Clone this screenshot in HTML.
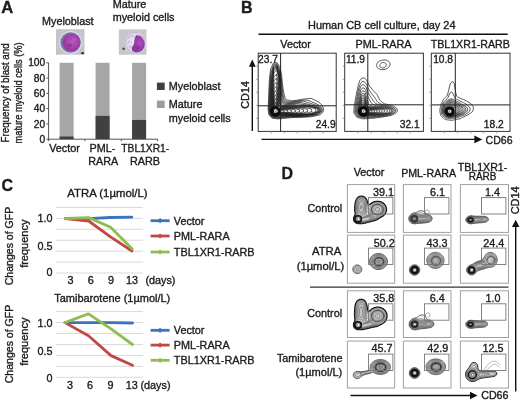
<!DOCTYPE html>
<html><head><meta charset="utf-8"><style>
html,body{margin:0;padding:0;background:#fff;}
svg{display:block;}
text{font-family:'Liberation Sans', Arial, Helvetica, sans-serif;fill:#1c1c1c;stroke:#1c1c1c;stroke-width:0.35px;}
</style></head><body>
<svg width="520" height="401" viewBox="0 0 520 401">
<rect width="520" height="401" fill="#fff"/>
<text x="1.3" y="12.8" font-size="16.6" font-weight="bold">A</text>
<text x="42.1" y="24.7" font-size="10.8" textLength="51.5" lengthAdjust="spacingAndGlyphs">Myeloblast</text>
<text x="112.7" y="8.3" font-size="10.8">Mature</text>
<text x="112.7" y="20.9" font-size="10.8">myeloid cells</text>
<defs>
<radialGradient id="nuc1" cx="0.55" cy="0.45" r="0.6"><stop offset="0" stop-color="#bc56c0"/><stop offset="0.6" stop-color="#a443ac"/><stop offset="1" stop-color="#8a3496"/></radialGradient>
<radialGradient id="bg1" cx="0.5" cy="0.5" r="0.7"><stop offset="0" stop-color="#d2cfd8"/><stop offset="1" stop-color="#c2c0c6"/></radialGradient>
<radialGradient id="nuc2" cx="0.6" cy="0.5" r="0.6"><stop offset="0" stop-color="#b04cba"/><stop offset="1" stop-color="#88329a"/></radialGradient>
<radialGradient id="cyt2" cx="0.45" cy="0.45" r="0.6"><stop offset="0" stop-color="#ece6f0"/><stop offset="0.8" stop-color="#dcd2e6"/><stop offset="1" stop-color="#b8aed0"/></radialGradient>
</defs>
<rect x="56" y="29.2" width="28.5" height="25.5" fill="url(#bg1)" stroke="none" stroke-width="1"/>
<circle cx="70.6" cy="42.5" r="11.4" fill="#e2dfe8" opacity="0.85"/>
<circle cx="70.6" cy="42.5" r="10.2" fill="#7a70ae"/>
<circle cx="71.6" cy="42.5" r="8.7" fill="url(#nuc1)"/>
<ellipse cx="69.5" cy="45.5" rx="2.5" ry="1.8" fill="#8a2f96" opacity="0.7"/>
<ellipse cx="74.5" cy="39.5" rx="2" ry="1.6" fill="#c060c4" opacity="0.6"/>
<ellipse cx="82.6" cy="53.2" rx="1.6" ry="1.1" fill="#3a3a3a"/>
<rect x="118.8" y="29.4" width="27.7" height="25.3" fill="#c7c6c8" stroke="none" stroke-width="1"/>
<ellipse cx="135.3" cy="42.6" rx="10.8" ry="11.2" fill="#e2dcea" opacity="0.9"/>
<ellipse cx="135.2" cy="42.6" rx="9.8" ry="10.3" fill="url(#cyt2)" stroke="#b0a6cc" stroke-width="0.7"/>
<path d="M128 38 C130 36 133 35 134 37 M127.5 43 C128.5 41 130 41 131 42.5 M129 47 C130.5 46 132 47 132.5 48.5" stroke="#9a90c4" stroke-width="0.9" fill="none" opacity="0.7"/>
<path d="M136.5 35.2 C141.5 35 145.2 40 144.6 45.5 C144 50.5 139.5 53 134.8 52 C131.5 51 131 48 133.2 45.5 C135.2 43 133.2 38.5 136.5 35.2 Z" fill="url(#nuc2)" stroke="none" stroke-width="1"/>
<ellipse cx="137.5" cy="47.5" rx="2.5" ry="2" fill="#7e2c8e" opacity="0.6"/>
<ellipse cx="123.6" cy="48.8" rx="1.3" ry="1.2" fill="#4a4a4a"/>
<text transform="translate(9.1,92.9) rotate(-90)" x="0" y="0" font-size="10.8" text-anchor="middle" textLength="99" lengthAdjust="spacingAndGlyphs">Frequency of blast and</text>
<text transform="translate(22.3,92.9) rotate(-90)" x="0" y="0" font-size="10.8" text-anchor="middle" textLength="101" lengthAdjust="spacingAndGlyphs">mature myeloid cells (%)</text>
<line x1="48.6" y1="62.8" x2="48.6" y2="139.6" stroke="#555" stroke-width="1"/>
<line x1="48.1" y1="139.2" x2="157.8" y2="139.2" stroke="#555" stroke-width="1"/>
<line x1="46.3" y1="139.2" x2="48.6" y2="139.2" stroke="#555" stroke-width="1"/>
<text x="45.2" y="142.79999999999998" font-size="10.2" text-anchor="end">0</text>
<line x1="46.3" y1="123.91999999999999" x2="48.6" y2="123.91999999999999" stroke="#555" stroke-width="1"/>
<text x="45.2" y="127.51999999999998" font-size="10.2" text-anchor="end">20</text>
<line x1="46.3" y1="108.63999999999999" x2="48.6" y2="108.63999999999999" stroke="#555" stroke-width="1"/>
<text x="45.2" y="112.23999999999998" font-size="10.2" text-anchor="end">40</text>
<line x1="46.3" y1="93.35999999999999" x2="48.6" y2="93.35999999999999" stroke="#555" stroke-width="1"/>
<text x="45.2" y="96.95999999999998" font-size="10.2" text-anchor="end">60</text>
<line x1="46.3" y1="78.07999999999998" x2="48.6" y2="78.07999999999998" stroke="#555" stroke-width="1"/>
<text x="45.2" y="81.67999999999998" font-size="10.2" text-anchor="end">80</text>
<line x1="46.3" y1="62.8" x2="48.6" y2="62.8" stroke="#555" stroke-width="1"/>
<text x="45.2" y="66.39999999999999" font-size="10.2" text-anchor="end">100</text>
<line x1="48.6" y1="139.2" x2="48.6" y2="141.2" stroke="#555" stroke-width="1"/>
<line x1="84.9" y1="139.2" x2="84.9" y2="141.2" stroke="#555" stroke-width="1"/>
<line x1="121.3" y1="139.2" x2="121.3" y2="141.2" stroke="#555" stroke-width="1"/>
<line x1="157.6" y1="139.2" x2="157.6" y2="141.2" stroke="#555" stroke-width="1"/>
<rect x="59.599999999999994" y="62.79999999999998" width="14" height="76.4" fill="#a6a6a6" stroke="none" stroke-width="1"/>
<rect x="59.599999999999994" y="136.52599999999998" width="14" height="2.6740000000000066" fill="#404040" stroke="none" stroke-width="1"/>
<rect x="95.6" y="62.79999999999998" width="14" height="76.4" fill="#a6a6a6" stroke="none" stroke-width="1"/>
<rect x="95.6" y="115.898" width="14" height="23.301999999999992" fill="#404040" stroke="none" stroke-width="1"/>
<rect x="132.1" y="62.79999999999998" width="14" height="76.4" fill="#a6a6a6" stroke="none" stroke-width="1"/>
<rect x="132.1" y="119.94719999999998" width="14" height="19.252800000000008" fill="#404040" stroke="none" stroke-width="1"/>
<text x="49.2" y="151.6" font-size="10.8">Vector</text>
<text x="89.6" y="151.7" font-size="10.8">PML-</text>
<text x="88.3" y="165.0" font-size="10.8">RARA</text>
<text x="121.3" y="151.7" font-size="10.8" textLength="47.9" lengthAdjust="spacingAndGlyphs">TBL1XR1-</text>
<text x="130.0" y="165.1" font-size="10.8">RARB</text>
<rect x="156.9" y="82.6" width="7.8" height="7.4" fill="#404040" stroke="none" stroke-width="1"/>
<rect x="156.9" y="100.6" width="7.8" height="7.4" fill="#9c9c9c" stroke="none" stroke-width="1"/>
<text x="168.8" y="89.9" font-size="10.8">Myeloblast</text>
<text x="168.8" y="108.4" font-size="10.8">Mature</text>
<text x="168.8" y="122.1" font-size="10.8">myeloid cells</text>
<text x="241.0" y="12.6" font-size="16" font-weight="bold">B</text>
<text x="308" y="29.4" font-size="10.8" textLength="147.5" lengthAdjust="spacingAndGlyphs">Human CB cell culture, day 24</text>
<line x1="258.5" y1="34.2" x2="507.7" y2="34.2" stroke="#111" stroke-width="1.5"/>
<text x="295.6" y="48.1" font-size="10.8" text-anchor="middle">Vector</text>
<text x="383.5" y="48.2" font-size="10.8" text-anchor="middle">PML-RARA</text>
<text x="470.3" y="48.2" font-size="10.8" text-anchor="middle" textLength="79.2" lengthAdjust="spacingAndGlyphs">TBL1XR1-RARB</text>
<path d="M323.3 111.5 320.3 114.7 311.8 116.7 302.2 117.3 295.7 117.4 291.8 117.6 289.3 117.8 287.4 118.0 285.8 118.2 284.5 118.3 283.3 118.4 282.4 118.5 281.5 118.6 280.7 118.7 280.0 118.7 279.3 118.8 278.7 118.9 278.1 118.9 277.5 118.8 276.9 118.8 276.4 118.7 275.8 118.6 275.3 118.6 274.9 118.5 274.4 118.5 273.9 118.4 273.4 118.4 272.9 118.3 272.4 118.2 271.9 118.0 271.5 117.7 271.2 117.3 270.9 116.9 270.5 116.6 270.2 116.2 269.9 115.9 269.6 115.5 269.3 115.1 269.0 114.8 268.8 114.3 268.7 113.8 268.6 113.4 268.6 112.9 268.5 112.4 268.4 112.0 268.4 111.5 268.3 111.0 268.3 110.5 268.2 110.0 268.1 109.5 268.1 109.0 268.1 108.4 268.2 107.8 268.2 107.2 268.2 106.5 268.3 105.8 268.3 104.9 268.3 104.0 268.4 102.9 268.4 101.6 268.5 100.1 268.6 98.2 268.7 95.7 268.8 92.2 269.0 87.2 269.4 79.4 270.6 69.1 273.4 63.0 276.8 62.6 279.8 66.6 281.6 74.9 282.3 82.5 282.9 87.3 283.4 90.9 283.9 93.4 284.4 95.3 284.9 97.0 285.3 98.4 285.9 99.5 287.0 100.0 288.6 100.2 290.3 100.5 292.4 100.7 295.9 100.4 303.0 99.1 311.1 98.4 315.0 100.1 318.7 102.2 321.8 104.9 323.4 108.1Z M322.2 111.5 318.2 114.5 309.1 116.3 300.0 116.8 294.0 116.9 290.5 117.1 288.1 117.3 286.3 117.4 284.8 117.6 283.6 117.7 282.6 117.8 281.7 117.9 280.9 118.0 280.2 118.0 279.6 118.1 279.0 118.2 278.4 118.2 277.8 118.2 277.3 118.2 276.8 118.2 276.3 118.1 275.8 118.0 275.3 118.0 274.9 117.9 274.4 117.9 274.0 117.8 273.5 117.8 273.1 117.7 272.6 117.7 272.2 117.5 271.8 117.2 271.5 116.9 271.2 116.6 270.8 116.2 270.6 115.9 270.3 115.5 270.0 115.2 269.7 114.8 269.5 114.5 269.3 114.1 269.2 113.6 269.2 113.2 269.1 112.8 269.0 112.4 269.0 111.9 268.9 111.5 268.9 111.1 268.8 110.6 268.7 110.1 268.7 109.7 268.7 109.2 268.7 108.6 268.7 108.1 268.7 107.5 268.8 106.9 268.8 106.2 268.8 105.5 268.9 104.6 268.9 103.6 269.0 102.5 269.1 101.1 269.2 99.3 269.3 97.0 269.4 93.9 269.6 89.4 269.9 82.2 271.0 72.3 273.5 64.7 276.8 63.7 279.6 68.8 281.1 77.5 281.8 84.7 282.3 89.3 282.7 92.6 283.1 95.0 283.6 96.8 284.0 98.3 284.4 99.6 284.9 100.6 285.9 101.1 287.2 101.3 288.7 101.6 290.6 101.8 293.7 101.6 299.7 100.5 306.8 100.0 310.6 101.3 314.8 103.1 319.2 105.3 322.1 108.2Z M321.3 111.5 316.6 114.4 306.9 116.0 298.2 116.4 292.7 116.5 289.4 116.7 287.1 116.9 285.4 117.0 284.1 117.1 283.0 117.2 282.0 117.3 281.2 117.4 280.5 117.5 279.8 117.5 279.2 117.6 278.7 117.7 278.1 117.7 277.6 117.7 277.1 117.7 276.6 117.7 276.2 117.6 275.7 117.6 275.3 117.5 274.9 117.5 274.5 117.4 274.1 117.4 273.7 117.3 273.2 117.2 272.8 117.2 272.4 117.0 272.0 116.8 271.7 116.5 271.4 116.3 271.1 116.0 270.8 115.6 270.6 115.3 270.4 114.9 270.1 114.6 269.9 114.3 269.7 113.9 269.7 113.5 269.6 113.1 269.5 112.7 269.5 112.3 269.4 111.9 269.4 111.5 269.3 111.1 269.2 110.7 269.1 110.2 269.1 109.8 269.1 109.3 269.1 108.8 269.2 108.3 269.2 107.8 269.2 107.2 269.3 106.6 269.3 105.9 269.3 105.1 269.4 104.2 269.4 103.1 269.5 101.8 269.6 100.2 269.7 98.1 269.8 95.3 270.0 91.1 270.3 84.5 271.2 74.8 273.5 66.1 276.7 64.6 279.4 70.5 280.7 79.5 281.3 86.5 281.8 90.9 282.1 94.1 282.5 96.3 282.9 98.0 283.3 99.4 283.7 100.5 284.2 101.4 285.0 101.9 286.1 102.3 287.4 102.5 289.2 102.7 291.9 102.6 297.1 101.7 303.3 101.2 307.1 102.3 311.6 103.7 317.1 105.6 321.1 108.3Z M320.5 111.5 315.0 114.3 304.8 115.7 296.6 116.1 291.5 116.2 288.3 116.3 286.2 116.5 284.6 116.6 283.4 116.7 282.4 116.8 281.5 116.9 280.7 116.9 280.1 117.0 279.5 117.1 278.9 117.1 278.4 117.2 277.9 117.2 277.4 117.3 277.0 117.3 276.5 117.2 276.1 117.2 275.7 117.1 275.3 117.1 274.9 117.0 274.5 117.0 274.1 116.9 273.8 116.9 273.4 116.8 273.0 116.8 272.6 116.6 272.3 116.4 271.9 116.2 271.6 116.0 271.3 115.7 271.1 115.4 270.9 115.0 270.7 114.7 270.5 114.4 270.3 114.1 270.2 113.7 270.1 113.3 270.0 113.0 269.9 112.6 269.9 112.2 269.8 111.9 269.7 111.5 269.7 111.1 269.6 110.7 269.5 110.3 269.5 109.9 269.5 109.5 269.5 109.0 269.6 108.6 269.6 108.1 269.6 107.5 269.7 106.9 269.7 106.3 269.7 105.6 269.8 104.7 269.9 103.7 269.9 102.5 270.0 101.1 270.1 99.2 270.2 96.5 270.4 92.7 270.7 86.6 271.5 77.2 273.6 67.4 276.7 65.4 279.2 72.1 280.4 81.4 280.9 88.1 281.3 92.4 281.6 95.4 281.9 97.6 282.2 99.2 282.6 100.4 283.0 101.4 283.4 102.2 284.2 102.7 285.1 103.1 286.3 103.4 287.8 103.5 290.3 103.4 294.7 102.8 300.0 102.4 303.9 103.3 308.7 104.4 315.1 105.9 320.1 108.4Z M319.7 111.5 313.6 114.2 302.9 115.4 295.0 115.7 290.3 115.9 287.4 116.0 285.4 116.1 283.9 116.2 282.7 116.3 281.8 116.3 281.0 116.4 280.3 116.5 279.7 116.6 279.1 116.6 278.6 116.7 278.1 116.7 277.7 116.8 277.2 116.8 276.8 116.8 276.4 116.8 276.0 116.8 275.7 116.7 275.3 116.7 274.9 116.6 274.6 116.6 274.2 116.5 273.9 116.5 273.5 116.4 273.1 116.3 272.8 116.2 272.5 116.1 272.1 115.9 271.8 115.7 271.5 115.5 271.3 115.2 271.1 114.8 271.0 114.5 270.8 114.2 270.7 113.9 270.5 113.5 270.5 113.2 270.4 112.8 270.3 112.5 270.3 112.2 270.2 111.8 270.1 111.5 270.1 111.1 270.0 110.8 269.9 110.4 269.9 110.0 269.9 109.6 269.9 109.2 269.9 108.8 270.0 108.3 270.0 107.8 270.1 107.3 270.1 106.7 270.1 106.0 270.2 105.2 270.3 104.3 270.3 103.2 270.4 101.9 270.5 100.1 270.6 97.7 270.8 94.2 271.1 88.6 271.7 79.4 273.6 68.6 276.7 66.2 279.1 73.6 280.1 83.3 280.5 89.7 280.9 93.8 281.1 96.6 281.3 98.7 281.6 100.2 282.0 101.3 282.4 102.2 282.8 103.0 283.4 103.5 284.2 103.9 285.1 104.2 286.6 104.3 288.7 104.3 292.4 103.8 296.9 103.5 300.8 104.1 306.0 104.9 313.3 106.1 319.2 108.4Z M318.9 111.5 312.2 114.1 301.0 115.1 293.5 115.4 289.1 115.5 286.4 115.6 284.6 115.7 283.2 115.8 282.1 115.9 281.2 115.9 280.5 116.0 279.9 116.1 279.3 116.1 278.8 116.2 278.3 116.3 277.9 116.3 277.5 116.4 277.1 116.4 276.7 116.4 276.3 116.4 276.0 116.4 275.6 116.3 275.3 116.3 274.9 116.2 274.6 116.2 274.3 116.1 274.0 116.1 273.6 116.0 273.3 115.9 273.0 115.9 272.7 115.7 272.3 115.6 272.0 115.5 271.7 115.3 271.5 114.9 271.4 114.6 271.3 114.3 271.1 114.0 271.0 113.7 270.9 113.4 270.8 113.1 270.8 112.7 270.7 112.4 270.6 112.1 270.6 111.8 270.5 111.5 270.4 111.2 270.3 110.8 270.3 110.5 270.2 110.1 270.3 109.7 270.3 109.4 270.3 109.0 270.4 108.5 270.4 108.1 270.4 107.6 270.5 107.0 270.5 106.4 270.6 105.7 270.6 104.9 270.7 103.9 270.8 102.7 270.9 101.1 271.0 98.9 271.1 95.7 271.4 90.5 272.0 81.6 273.6 69.8 276.7 66.9 278.9 75.0 279.8 85.0 280.2 91.2 280.4 95.1 280.6 97.8 280.8 99.8 281.0 101.3 281.4 102.2 281.7 103.0 282.1 103.7 282.6 104.2 283.2 104.7 284.1 105.0 285.4 105.1 287.2 105.0 290.2 104.8 294.0 104.6 297.8 105.0 303.3 105.5 311.5 106.4 318.3 108.5Z M318.1 111.5 310.9 114.0 299.2 114.9 292.1 115.1 288.0 115.2 285.5 115.3 283.8 115.4 282.5 115.4 281.4 115.5 280.7 115.5 280.0 115.6 279.4 115.7 278.9 115.7 278.5 115.8 278.0 115.8 277.6 115.9 277.3 115.9 276.9 116.0 276.6 116.0 276.2 116.0 275.9 116.0 275.6 116.0 275.3 115.9 274.9 115.8 274.7 115.8 274.4 115.7 274.1 115.7 273.8 115.6 273.5 115.6 273.2 115.5 272.8 115.4 272.5 115.3 272.2 115.2 271.9 115.1 271.8 114.7 271.6 114.4 271.5 114.1 271.4 113.8 271.3 113.5 271.3 113.2 271.2 112.9 271.1 112.6 271.1 112.4 271.0 112.1 270.9 111.8 270.8 111.5 270.8 111.2 270.7 110.9 270.6 110.5 270.6 110.2 270.6 109.9 270.7 109.5 270.7 109.2 270.7 108.8 270.8 108.3 270.8 107.9 270.8 107.4 270.9 106.8 270.9 106.2 271.0 105.4 271.1 104.5 271.2 103.4 271.3 102.0 271.4 100.0 271.5 97.1 271.7 92.3 272.2 83.7 273.7 70.9 276.6 67.6 278.8 76.4 279.5 86.7 279.8 92.7 280.0 96.4 280.2 99.0 280.3 100.9 280.4 102.2 280.8 103.1 281.1 103.8 281.5 104.4 281.9 104.9 282.3 105.4 283.0 105.8 284.2 105.8 285.8 105.8 288.1 105.7 291.1 105.7 294.9 105.8 300.7 106.1 309.8 106.6 317.5 108.5Z M316.2 111.5 308.8 113.9 297.3 114.6 290.6 114.8 287.0 114.9 284.6 115.0 283.0 115.0 281.8 115.1 280.9 115.1 280.2 115.2 279.6 115.3 279.1 115.3 278.6 115.4 278.2 115.4 277.8 115.5 277.4 115.5 277.1 115.6 276.8 115.6 276.4 115.6 276.1 115.7 275.8 115.7 275.5 115.6 275.2 115.5 275.0 115.5 274.7 115.4 274.4 115.4 274.1 115.3 273.9 115.3 273.6 115.2 273.3 115.2 273.0 115.1 272.7 115.0 272.4 115.0 272.1 114.8 272.0 114.5 271.9 114.2 271.8 113.9 271.7 113.6 271.7 113.3 271.6 113.1 271.5 112.8 271.5 112.5 271.4 112.3 271.3 112.0 271.2 111.8 271.2 111.5 271.1 111.2 271.0 110.9 271.0 110.6 270.9 110.3 271.0 110.0 271.0 109.7 271.0 109.3 271.1 109.0 271.1 108.6 271.1 108.2 271.2 107.7 271.2 107.2 271.3 106.6 271.3 105.9 271.4 105.1 271.5 104.1 271.6 102.9 271.7 101.1 271.8 98.4 272.0 94.1 272.4 85.9 273.8 73.1 276.6 69.7 278.6 78.5 279.1 88.6 279.4 94.2 279.6 97.7 279.7 100.1 279.8 101.9 279.9 103.1 280.2 103.9 280.6 104.5 280.9 105.0 281.3 105.6 281.6 106.1 282.1 106.4 283.2 106.5 284.6 106.5 286.4 106.5 288.8 106.5 292.5 106.5 298.3 106.6 307.6 106.9 315.5 108.7Z M312.0 111.5 305.4 113.6 295.1 114.3 289.1 114.5 285.9 114.6 283.8 114.7 282.3 114.7 281.2 114.8 280.4 114.8 279.7 114.9 279.2 114.9 278.7 115.0 278.3 115.1 277.9 115.1 277.6 115.2 277.2 115.2 276.9 115.2 276.6 115.3 276.3 115.3 276.1 115.3 275.8 115.3 275.5 115.3 275.2 115.2 275.0 115.2 274.7 115.1 274.5 115.1 274.2 115.0 274.0 115.0 273.7 114.9 273.5 114.9 273.2 114.8 272.9 114.7 272.6 114.7 272.4 114.5 272.2 114.3 272.2 114.0 272.1 113.7 272.0 113.4 271.9 113.2 271.9 112.9 271.8 112.7 271.7 112.5 271.7 112.2 271.6 112.0 271.5 111.7 271.5 111.5 271.4 111.2 271.3 111.0 271.3 110.7 271.3 110.4 271.3 110.1 271.3 109.8 271.4 109.5 271.4 109.2 271.4 108.8 271.5 108.4 271.5 108.0 271.6 107.6 271.6 107.0 271.7 106.4 271.7 105.7 271.8 104.8 271.9 103.6 272.0 102.0 272.1 99.7 272.3 95.8 272.7 88.5 273.9 77.0 276.4 74.0 278.2 81.9 278.7 90.9 279.0 95.9 279.1 99.0 279.3 101.2 279.4 102.8 279.5 103.9 279.8 104.6 280.1 105.1 280.4 105.6 280.7 106.1 281.0 106.5 281.5 106.8 282.5 106.9 283.7 106.9 285.3 106.9 287.5 107.0 290.8 107.0 296.0 107.1 304.3 107.4 311.3 109.0Z M307.8 111.5 302.0 113.4 292.9 114.0 287.7 114.2 284.8 114.3 282.9 114.4 281.6 114.4 280.7 114.5 279.9 114.5 279.3 114.6 278.9 114.6 278.4 114.7 278.0 114.8 277.7 114.8 277.4 114.9 277.1 114.9 276.8 114.9 276.5 115.0 276.2 115.0 276.0 115.0 275.7 115.0 275.5 115.0 275.2 114.9 275.0 114.9 274.8 114.8 274.5 114.8 274.3 114.7 274.1 114.7 273.8 114.6 273.6 114.6 273.4 114.5 273.1 114.5 272.8 114.4 272.6 114.3 272.5 114.0 272.4 113.8 272.3 113.5 272.3 113.3 272.2 113.0 272.1 112.8 272.1 112.6 272.0 112.4 272.0 112.2 271.9 112.0 271.8 111.7 271.8 111.5 271.7 111.3 271.7 111.0 271.6 110.8 271.6 110.5 271.6 110.2 271.6 110.0 271.7 109.7 271.7 109.4 271.7 109.1 271.8 108.7 271.8 108.3 271.9 107.9 271.9 107.4 272.0 106.9 272.1 106.2 272.1 105.4 272.2 104.4 272.3 103.0 272.5 100.9 272.6 97.5 272.9 91.0 274.0 80.9 276.3 78.2 277.9 85.2 278.3 93.1 278.6 97.6 278.7 100.3 278.9 102.2 278.9 103.6 279.1 104.6 279.3 105.2 279.6 105.7 279.9 106.1 280.2 106.6 280.5 107.0 280.9 107.3 281.8 107.3 282.9 107.4 284.3 107.4 286.3 107.4 289.2 107.5 293.7 107.5 301.1 107.9 307.3 109.2Z M303.8 111.5 298.7 113.2 290.8 113.7 286.2 113.9 283.7 114.0 282.1 114.0 281.0 114.1 280.1 114.2 279.4 114.2 278.9 114.3 278.5 114.4 278.1 114.4 277.8 114.5 277.4 114.5 277.2 114.5 276.9 114.6 276.6 114.6 276.4 114.6 276.1 114.7 275.9 114.7 275.7 114.7 275.4 114.6 275.2 114.6 275.0 114.6 274.8 114.5 274.6 114.5 274.4 114.4 274.2 114.4 274.0 114.3 273.7 114.3 273.5 114.2 273.3 114.2 273.1 114.1 272.8 114.0 272.7 113.8 272.7 113.5 272.6 113.3 272.5 113.1 272.5 112.9 272.4 112.7 272.3 112.5 272.3 112.3 272.2 112.1 272.2 111.9 272.1 111.7 272.1 111.5 272.0 111.3 272.0 111.1 271.9 110.8 271.9 110.6 271.9 110.3 272.0 110.1 272.0 109.8 272.0 109.6 272.0 109.3 272.1 109.0 272.1 108.6 272.2 108.3 272.2 107.8 272.3 107.3 272.4 106.8 272.5 106.1 272.5 105.2 272.6 103.9 272.8 102.1 272.9 99.2 273.2 93.5 274.2 84.7 276.1 82.4 277.5 88.4 278.0 95.3 278.2 99.2 278.3 101.6 278.4 103.2 278.5 104.5 278.7 105.3 278.9 105.9 279.2 106.3 279.5 106.7 279.7 107.1 280.0 107.4 280.4 107.7 281.1 107.8 282.1 107.8 283.3 107.8 285.0 107.9 287.5 107.9 291.5 108.0 297.9 108.3 303.3 109.5Z M299.8 111.5 295.4 112.9 288.7 113.4 284.8 113.6 282.7 113.7 281.3 113.7 280.3 113.8 279.6 113.9 279.0 113.9 278.5 114.0 278.2 114.1 277.8 114.1 277.5 114.2 277.2 114.2 277.0 114.3 276.7 114.3 276.5 114.3 276.2 114.3 276.0 114.4 275.8 114.4 275.6 114.4 275.4 114.3 275.2 114.3 275.0 114.3 274.8 114.2 274.6 114.2 274.4 114.1 274.3 114.1 274.1 114.1 273.9 114.0 273.7 114.0 273.5 113.9 273.3 113.8 273.1 113.7 273.0 113.5 272.9 113.3 272.8 113.1 272.8 112.9 272.7 112.8 272.7 112.6 272.6 112.4 272.6 112.2 272.5 112.1 272.5 111.9 272.4 111.7 272.4 111.5 272.3 111.3 272.3 111.1 272.2 110.9 272.2 110.7 272.2 110.5 272.3 110.2 272.3 110.0 272.3 109.8 272.4 109.5 272.4 109.2 272.4 108.9 272.5 108.6 272.5 108.2 272.6 107.8 272.7 107.3 272.8 106.7 272.8 105.9 272.9 104.9 273.1 103.3 273.2 100.8 273.5 96.0 274.3 88.4 276.0 86.5 277.2 91.6 277.6 97.5 277.8 100.8 277.9 102.8 278.0 104.2 278.1 105.3 278.3 106.0 278.5 106.5 278.7 106.8 279.0 107.2 279.2 107.5 279.4 107.9 279.8 108.1 280.4 108.2 281.3 108.2 282.3 108.3 283.8 108.3 285.9 108.4 289.3 108.5 294.8 108.7 299.4 109.8Z M295.8 111.5 292.2 112.7 286.7 113.1 283.4 113.3 281.6 113.4 280.5 113.5 279.6 113.5 279.0 113.6 278.5 113.6 278.1 113.7 277.8 113.8 277.5 113.8 277.2 113.9 277.0 113.9 276.8 114.0 276.5 114.0 276.3 114.0 276.1 114.0 275.9 114.1 275.7 114.1 275.6 114.1 275.4 114.0 275.2 114.0 275.0 114.0 274.8 113.9 274.7 113.9 274.5 113.9 274.3 113.8 274.2 113.8 274.0 113.7 273.8 113.7 273.7 113.6 273.5 113.6 273.3 113.5 273.2 113.3 273.2 113.1 273.1 113.0 273.0 112.8 273.0 112.6 272.9 112.5 272.9 112.3 272.8 112.2 272.8 112.0 272.7 111.8 272.7 111.7 272.6 111.5 272.6 111.3 272.6 111.1 272.5 111.0 272.5 110.8 272.5 110.6 272.6 110.4 272.6 110.2 272.6 110.0 272.7 109.7 272.7 109.5 272.7 109.2 272.8 108.9 272.8 108.6 272.9 108.3 273.0 107.8 273.1 107.3 273.1 106.7 273.2 105.8 273.3 104.5 273.5 102.4 273.7 98.4 274.4 92.1 275.8 90.5 276.9 94.8 277.2 99.6 277.4 102.4 277.5 104.1 277.6 105.2 277.7 106.1 277.9 106.7 278.1 107.1 278.3 107.4 278.5 107.7 278.7 108.0 278.9 108.3 279.2 108.5 279.8 108.6 280.5 108.6 281.4 108.7 282.6 108.8 284.4 108.8 287.2 108.9 291.7 109.2 295.5 110.1Z M291.9 111.5 289.1 112.5 284.6 112.8 282.0 113.0 280.6 113.1 279.7 113.2 279.0 113.2 278.5 113.3 278.1 113.4 277.8 113.4 277.5 113.5 277.2 113.5 277.0 113.6 276.8 113.6 276.6 113.7 276.4 113.7 276.2 113.7 276.0 113.7 275.8 113.8 275.7 113.8 275.5 113.8 275.3 113.7 275.2 113.7 275.0 113.7 274.9 113.7 274.7 113.6 274.6 113.6 274.4 113.5 274.3 113.5 274.1 113.5 274.0 113.4 273.8 113.4 273.7 113.3 273.5 113.2 273.5 113.1 273.4 112.9 273.3 112.8 273.3 112.6 273.2 112.5 273.2 112.4 273.1 112.2 273.1 112.1 273.0 111.9 273.0 111.8 273.0 111.6 272.9 111.5 272.9 111.3 272.9 111.2 272.8 111.0 272.8 110.8 272.8 110.7 272.9 110.5 272.9 110.3 272.9 110.1 273.0 109.9 273.0 109.7 273.0 109.5 273.1 109.3 273.1 109.0 273.2 108.7 273.3 108.3 273.4 107.9 273.4 107.4 273.5 106.7 273.6 105.6 273.8 104.0 274.0 100.8 274.6 95.8 275.7 94.5 276.5 97.9 276.8 101.8 277.0 103.9 277.1 105.3 277.2 106.2 277.3 106.9 277.5 107.4 277.6 107.7 277.8 108.0 278.0 108.2 278.2 108.5 278.4 108.7 278.7 108.9 279.1 109.0 279.7 109.1 280.4 109.1 281.4 109.2 282.8 109.3 285.1 109.4 288.6 109.6 291.7 110.3Z M288.1 111.5 286.0 112.3 282.6 112.6 280.7 112.7 279.6 112.8 278.9 112.9 278.4 113.0 278.0 113.0 277.6 113.1 277.4 113.2 277.1 113.2 276.9 113.3 276.7 113.3 276.5 113.3 276.4 113.4 276.2 113.4 276.0 113.4 275.9 113.5 275.7 113.5 275.6 113.5 275.4 113.5 275.3 113.5 275.2 113.4 275.0 113.4 274.9 113.4 274.8 113.3 274.7 113.3 274.5 113.3 274.4 113.2 274.3 113.2 274.1 113.1 274.0 113.1 273.9 113.1 273.8 113.0 273.7 112.9 273.6 112.7 273.6 112.6 273.5 112.5 273.5 112.4 273.4 112.2 273.4 112.1 273.3 112.0 273.3 111.9 273.3 111.8 273.2 111.6 273.2 111.5 273.2 111.4 273.1 111.2 273.1 111.1 273.1 110.9 273.1 110.8 273.2 110.6 273.2 110.5 273.2 110.3 273.3 110.2 273.3 110.0 273.3 109.8 273.4 109.6 273.4 109.4 273.5 109.1 273.6 108.9 273.7 108.5 273.7 108.1 273.8 107.6 273.9 106.8 274.0 105.5 274.2 103.1 274.7 99.4 275.6 98.4 276.2 101.0 276.4 103.9 276.6 105.5 276.7 106.5 276.8 107.2 276.9 107.7 277.1 108.1 277.2 108.3 277.4 108.5 277.6 108.8 277.7 109.0 277.9 109.2 278.1 109.3 278.5 109.4 278.9 109.5 279.5 109.6 280.2 109.6 281.3 109.7 283.0 109.8 285.6 110.0 287.9 110.6Z M284.3 111.5 282.9 112.0 280.6 112.3 279.3 112.4 278.6 112.5 278.1 112.6 277.7 112.7 277.4 112.7 277.2 112.8 277.0 112.9 276.8 112.9 276.6 113.0 276.5 113.0 276.3 113.1 276.2 113.1 276.0 113.1 275.9 113.1 275.8 113.2 275.6 113.2 275.5 113.2 275.4 113.2 275.3 113.2 275.2 113.1 275.0 113.1 274.9 113.1 274.8 113.1 274.7 113.0 274.6 113.0 274.5 113.0 274.4 112.9 274.3 112.9 274.2 112.8 274.1 112.8 274.0 112.7 273.9 112.6 273.9 112.5 273.8 112.4 273.8 112.3 273.7 112.2 273.7 112.1 273.6 112.0 273.6 111.9 273.6 111.8 273.5 111.7 273.5 111.6 273.5 111.5 273.5 111.4 273.4 111.3 273.4 111.1 273.4 111.0 273.4 110.9 273.5 110.8 273.5 110.6 273.5 110.5 273.5 110.4 273.6 110.2 273.6 110.1 273.7 109.9 273.7 109.8 273.8 109.6 273.9 109.4 273.9 109.1 274.0 108.8 274.1 108.5 274.2 107.9 274.3 107.1 274.5 105.5 274.8 103.0 275.4 102.3 275.9 104.0 276.1 105.9 276.2 107.0 276.3 107.7 276.5 108.1 276.6 108.5 276.7 108.8 276.8 108.9 277.0 109.1 277.1 109.3 277.3 109.4 277.4 109.6 277.6 109.7 277.8 109.8 278.1 109.9 278.5 110.0 279.0 110.1 279.8 110.2 280.9 110.3 282.7 110.4 284.2 110.9Z M280.5 111.5 279.8 111.8 278.7 112.0 278.0 112.1 277.6 112.2 277.3 112.3 277.1 112.4 276.9 112.5 276.8 112.5 276.6 112.6 276.5 112.7 276.4 112.7 276.2 112.8 276.1 112.8 276.0 112.8 275.9 112.8 275.8 112.9 275.7 112.9 275.5 112.9 275.4 112.9 275.3 112.9 275.2 112.9 275.1 112.9 275.1 112.8 275.0 112.8 274.9 112.8 274.8 112.8 274.7 112.7 274.6 112.7 274.5 112.7 274.5 112.6 274.4 112.6 274.3 112.5 274.2 112.5 274.2 112.4 274.1 112.3 274.1 112.3 274.0 112.2 274.0 112.1 273.9 112.0 273.9 111.9 273.9 111.9 273.8 111.8 273.8 111.7 273.8 111.6 273.7 111.5 273.7 111.4 273.7 111.3 273.7 111.2 273.7 111.1 273.7 111.0 273.7 110.9 273.8 110.8 273.8 110.7 273.8 110.6 273.9 110.5 273.9 110.4 274.0 110.2 274.0 110.1 274.1 110.0 274.2 109.9 274.2 109.7 274.3 109.5 274.4 109.3 274.5 109.0 274.6 108.6 274.7 107.8 274.9 106.5 275.3 106.2 275.6 107.0 275.7 108.0 275.8 108.5 276.0 108.8 276.1 109.1 276.2 109.3 276.3 109.4 276.4 109.5 276.5 109.6 276.7 109.8 276.8 109.9 276.9 110.0 277.0 110.1 277.2 110.2 277.4 110.3 277.6 110.4 277.9 110.5 278.3 110.6 278.8 110.7 279.7 110.9 280.5 111.1Z M276.8 111.5 276.8 111.6 276.7 111.7 276.7 111.8 276.6 111.9 276.6 112.0 276.5 112.1 276.4 112.2 276.3 112.3 276.2 112.3 276.2 112.4 276.1 112.4 276.0 112.5 275.9 112.5 275.8 112.5 275.7 112.6 275.6 112.6 275.5 112.6 275.5 112.6 275.4 112.6 275.3 112.6 275.2 112.6 275.1 112.6 275.1 112.6 275.0 112.5 274.9 112.5 274.9 112.5 274.8 112.5 274.7 112.4 274.7 112.4 274.6 112.4 274.5 112.3 274.5 112.3 274.4 112.2 274.4 112.2 274.3 112.1 274.3 112.1 274.2 112.0 274.2 112.0 274.2 111.9 274.1 111.9 274.1 111.8 274.1 111.7 274.1 111.6 274.0 111.6 274.0 111.5 274.0 111.4 274.0 111.3 274.0 111.3 274.0 111.2 274.0 111.1 274.0 111.0 274.1 110.9 274.1 110.9 274.1 110.8 274.2 110.7 274.2 110.6 274.3 110.6 274.3 110.5 274.4 110.4 274.4 110.4 274.5 110.3 274.6 110.2 274.7 110.2 274.8 110.1 274.9 110.1 274.9 110.1 275.0 110.0 275.2 110.0 275.3 110.0 275.4 110.0 275.5 110.0 275.6 110.0 275.7 110.0 275.8 110.1 275.9 110.1 276.0 110.1 276.1 110.2 276.2 110.3 276.3 110.3 276.4 110.4 276.5 110.5 276.6 110.6 276.6 110.7 276.7 110.8 276.7 110.9 276.8 111.0 276.8 111.1 276.8 111.3 276.8 111.4Z" fill="none" stroke="#111" stroke-width="0.7"/>
<path d="M397.3 111.5 394.9 113.7 391.0 115.4 386.3 116.4 382.3 117.0 379.4 117.4 377.2 117.7 375.4 118.0 373.9 118.2 372.6 118.3 371.4 118.4 370.4 118.4 369.5 118.5 368.7 118.5 368.0 118.6 367.3 118.6 366.7 118.7 366.1 118.7 365.6 118.7 365.0 118.8 364.5 118.8 364.0 118.9 363.5 118.9 362.9 118.8 362.4 118.7 361.9 118.6 361.5 118.5 361.0 118.4 360.5 118.3 360.0 118.1 359.4 118.0 358.9 117.9 358.3 117.8 357.7 117.6 357.1 117.4 356.6 117.1 356.3 116.5 355.9 116.0 355.6 115.5 355.3 115.0 355.0 114.5 354.6 114.0 354.3 113.4 353.9 112.8 353.7 112.2 353.8 111.5 353.8 110.8 353.9 110.2 353.9 109.5 354.0 108.9 354.0 108.2 354.1 107.4 354.2 106.7 354.2 105.9 354.3 105.0 354.5 104.2 354.7 103.2 354.9 102.2 355.1 101.1 355.3 99.8 355.6 98.3 355.9 96.6 356.3 94.5 356.8 91.9 357.5 88.6 358.4 84.5 359.9 80.5 362.0 78.0 364.4 78.0 366.5 79.8 368.2 83.4 369.5 86.1 370.9 87.8 372.2 89.3 373.3 90.7 374.5 92.0 375.6 93.1 376.7 94.2 377.5 95.6 378.2 97.0 378.9 98.3 379.6 99.6 380.3 100.8 381.4 101.8 382.8 102.8 384.5 103.8 387.6 104.5 391.8 105.4 395.3 107.0 397.2 109.1Z M395.7 111.5 393.1 113.6 388.8 115.1 384.3 116.0 380.6 116.5 377.9 116.8 375.8 117.1 374.1 117.3 372.7 117.5 371.5 117.6 370.5 117.6 369.6 117.7 368.8 117.7 368.1 117.8 367.4 117.8 366.9 117.8 366.3 117.9 365.8 117.9 365.3 117.9 364.8 118.0 364.3 118.0 363.9 118.0 363.4 118.0 363.0 118.0 362.5 117.9 362.1 117.8 361.7 117.7 361.2 117.6 360.8 117.5 360.3 117.4 359.9 117.3 359.4 117.1 358.9 117.0 358.3 116.9 357.8 116.7 357.3 116.4 357.0 116.0 356.7 115.6 356.4 115.1 356.1 114.7 355.8 114.2 355.5 113.7 355.2 113.2 354.9 112.7 354.7 112.1 354.7 111.5 354.8 110.9 354.8 110.3 354.9 109.7 354.9 109.1 355.0 108.5 355.0 107.9 355.1 107.2 355.2 106.5 355.3 105.7 355.4 104.9 355.5 104.1 355.7 103.2 355.9 102.2 356.1 101.0 356.4 99.7 356.7 98.2 357.1 96.3 357.5 94.1 358.1 91.1 359.0 87.5 360.3 83.9 362.2 81.6 364.2 81.7 366.1 83.5 367.6 86.8 368.7 89.5 369.8 91.1 370.8 92.6 371.8 93.9 372.7 95.0 373.6 96.1 374.5 97.1 375.1 98.2 375.8 99.3 376.5 100.4 377.1 101.4 377.9 102.3 379.1 103.1 380.5 103.8 382.2 104.6 385.2 105.2 389.2 106.0 393.1 107.3 395.6 109.2Z M394.3 111.5 391.6 113.5 387.0 114.8 382.5 115.6 379.1 116.1 376.5 116.3 374.5 116.5 373.0 116.7 371.7 116.8 370.6 116.9 369.7 117.0 368.9 117.0 368.2 117.0 367.6 117.1 367.0 117.1 366.5 117.1 366.0 117.2 365.5 117.2 365.1 117.2 364.6 117.3 364.2 117.3 363.8 117.3 363.4 117.2 363.0 117.2 362.6 117.1 362.2 117.0 361.8 116.9 361.5 116.9 361.1 116.8 360.7 116.7 360.3 116.6 359.8 116.5 359.4 116.4 358.9 116.3 358.4 116.2 357.9 115.9 357.6 115.6 357.3 115.2 357.0 114.8 356.8 114.3 356.6 113.9 356.3 113.5 356.0 113.0 355.8 112.5 355.6 112.0 355.5 111.5 355.6 111.0 355.6 110.4 355.7 109.9 355.7 109.4 355.8 108.8 355.9 108.2 355.9 107.6 356.0 107.0 356.1 106.3 356.2 105.6 356.3 104.9 356.5 104.0 356.6 103.1 356.8 102.1 357.1 100.9 357.4 99.5 357.7 97.9 358.1 95.9 358.7 93.3 359.4 90.1 360.6 86.8 362.3 84.8 364.1 84.9 365.8 86.7 367.0 89.8 368.0 92.3 368.9 94.0 369.7 95.4 370.5 96.6 371.2 97.7 371.9 98.6 372.5 99.6 373.1 100.5 373.6 101.4 374.3 102.2 375.1 102.9 375.9 103.6 377.0 104.1 378.4 104.7 380.2 105.3 383.1 105.8 387.0 106.4 391.2 107.6 394.2 109.3Z M392.9 111.5 390.1 113.4 385.3 114.6 380.9 115.3 377.6 115.6 375.2 115.9 373.4 116.0 371.9 116.1 370.8 116.2 369.8 116.3 369.0 116.3 368.2 116.4 367.6 116.4 367.1 116.4 366.5 116.5 366.1 116.5 365.6 116.5 365.2 116.5 364.8 116.6 364.5 116.6 364.1 116.6 363.7 116.6 363.4 116.5 363.0 116.5 362.7 116.4 362.3 116.3 362.0 116.3 361.7 116.2 361.3 116.1 361.0 116.0 360.6 116.0 360.2 115.9 359.8 115.8 359.4 115.7 359.0 115.6 358.5 115.4 358.2 115.2 357.9 114.8 357.7 114.4 357.5 114.1 357.3 113.7 357.0 113.3 356.8 112.9 356.6 112.4 356.4 112.0 356.3 111.5 356.3 111.0 356.4 110.5 356.4 110.1 356.5 109.6 356.6 109.1 356.6 108.6 356.7 108.0 356.8 107.5 356.8 106.9 356.9 106.2 357.1 105.6 357.2 104.8 357.3 104.0 357.5 103.1 357.7 102.0 358.0 100.8 358.3 99.4 358.7 97.7 359.2 95.4 359.9 92.6 360.9 89.6 362.4 87.9 364.0 88.0 365.5 89.7 366.5 92.6 367.3 95.1 368.0 96.7 368.6 98.1 369.2 99.2 369.7 100.2 370.2 101.1 370.7 101.9 371.1 102.7 371.6 103.4 372.3 103.9 373.1 104.3 374.0 104.8 375.1 105.2 376.5 105.6 378.4 106.0 381.1 106.4 384.9 106.9 389.4 107.8 392.9 109.4Z M391.7 111.5 388.7 113.3 383.6 114.4 379.3 114.9 376.2 115.2 374.0 115.4 372.2 115.5 370.9 115.6 369.8 115.7 369.0 115.7 368.2 115.7 367.6 115.8 367.1 115.8 366.6 115.8 366.1 115.8 365.7 115.9 365.3 115.9 365.0 115.9 364.6 115.9 364.3 115.9 364.0 115.9 363.7 115.9 363.4 115.8 363.1 115.8 362.8 115.7 362.5 115.7 362.2 115.6 361.9 115.5 361.6 115.5 361.3 115.4 361.0 115.3 360.7 115.3 360.3 115.2 359.9 115.1 359.5 115.0 359.1 114.9 358.7 114.7 358.5 114.5 358.3 114.1 358.1 113.8 357.9 113.4 357.7 113.1 357.6 112.7 357.4 112.3 357.2 111.9 357.1 111.5 357.1 111.1 357.1 110.6 357.2 110.2 357.2 109.8 357.3 109.4 357.4 108.9 357.4 108.4 357.5 107.9 357.6 107.4 357.7 106.9 357.8 106.3 357.9 105.6 358.0 104.8 358.2 104.0 358.4 103.1 358.6 102.1 358.9 100.9 359.3 99.3 359.7 97.4 360.3 95.0 361.2 92.3 362.5 90.8 363.9 90.9 365.2 92.6 366.0 95.4 366.6 97.7 367.1 99.4 367.6 100.7 368.0 101.7 368.3 102.6 368.6 103.4 368.9 104.2 369.2 104.8 369.7 105.3 370.4 105.5 371.1 105.7 372.1 106.0 373.2 106.2 374.7 106.4 376.5 106.6 379.2 106.9 382.8 107.3 387.7 108.1 391.6 109.5Z M389.9 111.5 387.0 113.2 381.9 114.1 377.7 114.6 375.0 114.9 372.8 115.0 371.2 115.1 370.0 115.1 369.1 115.2 368.3 115.2 367.7 115.2 367.1 115.3 366.6 115.3 366.2 115.3 365.8 115.3 365.4 115.3 365.1 115.4 364.8 115.4 364.5 115.4 364.2 115.4 363.9 115.4 363.6 115.3 363.3 115.3 363.1 115.2 362.8 115.2 362.6 115.1 362.3 115.1 362.1 115.0 361.8 115.0 361.5 114.9 361.3 114.9 361.0 114.8 360.7 114.7 360.3 114.7 360.0 114.6 359.6 114.5 359.2 114.4 359.0 114.1 358.8 113.8 358.7 113.5 358.5 113.2 358.3 112.9 358.2 112.6 358.0 112.2 357.8 111.9 357.7 111.5 357.7 111.1 357.8 110.7 357.8 110.4 357.9 110.0 357.9 109.6 358.0 109.2 358.1 108.8 358.1 108.3 358.2 107.9 358.3 107.4 358.4 106.8 358.5 106.2 358.6 105.6 358.7 104.8 358.9 104.1 359.1 103.2 359.4 102.1 359.7 100.8 360.1 99.1 360.6 97.0 361.4 94.6 362.6 93.3 363.8 93.5 364.9 95.0 365.6 97.6 366.1 99.8 366.5 101.4 366.8 102.6 367.1 103.6 367.3 104.4 367.5 105.2 367.7 105.8 367.8 106.4 368.2 106.6 368.9 106.7 369.7 106.8 370.6 106.9 371.8 106.9 373.2 107.1 375.0 107.2 377.5 107.4 380.9 107.7 385.8 108.3 389.9 109.6Z M387.3 111.5 384.6 113.0 380.1 113.9 376.4 114.3 373.9 114.6 372.0 114.7 370.5 114.8 369.4 114.8 368.6 114.9 367.9 114.9 367.3 114.9 366.8 115.0 366.3 115.0 365.9 115.0 365.6 115.0 365.2 115.0 364.9 115.1 364.6 115.1 364.4 115.1 364.1 115.1 363.8 115.1 363.6 115.0 363.3 115.0 363.1 114.9 362.8 114.9 362.6 114.9 362.4 114.8 362.1 114.8 361.9 114.7 361.7 114.7 361.4 114.6 361.1 114.5 360.9 114.5 360.6 114.4 360.2 114.4 359.9 114.3 359.5 114.2 359.3 113.9 359.2 113.6 359.0 113.4 358.9 113.1 358.7 112.8 358.6 112.5 358.4 112.2 358.3 111.8 358.1 111.5 358.1 111.1 358.2 110.8 358.3 110.4 358.3 110.1 358.4 109.7 358.4 109.4 358.5 109.0 358.5 108.6 358.6 108.2 358.7 107.7 358.8 107.2 358.9 106.7 359.0 106.1 359.1 105.4 359.3 104.7 359.5 103.9 359.7 102.9 360.0 101.8 360.4 100.3 360.9 98.4 361.6 96.3 362.6 95.1 363.8 95.2 364.8 96.6 365.4 98.9 365.8 100.9 366.2 102.3 366.5 103.4 366.7 104.3 366.9 105.0 367.1 105.7 367.3 106.3 367.5 106.8 367.8 107.0 368.4 107.1 369.2 107.2 370.0 107.2 371.0 107.3 372.3 107.5 373.9 107.6 376.1 107.8 379.2 108.1 383.6 108.6 387.3 109.8Z M384.7 111.5 382.3 112.8 378.3 113.6 375.0 114.0 372.8 114.3 371.1 114.4 369.8 114.5 368.9 114.5 368.1 114.6 367.5 114.6 366.9 114.6 366.5 114.7 366.1 114.7 365.7 114.7 365.4 114.7 365.1 114.8 364.8 114.8 364.5 114.8 364.3 114.8 364.0 114.8 363.8 114.8 363.5 114.8 363.3 114.7 363.1 114.7 362.9 114.6 362.7 114.6 362.4 114.5 362.2 114.5 362.0 114.4 361.8 114.4 361.6 114.4 361.3 114.3 361.1 114.2 360.8 114.2 360.5 114.1 360.2 114.0 359.9 113.9 359.7 113.7 359.5 113.5 359.4 113.2 359.2 112.9 359.1 112.7 359.0 112.4 358.8 112.1 358.7 111.8 358.6 111.5 358.6 111.2 358.6 110.9 358.7 110.5 358.7 110.2 358.8 109.9 358.8 109.6 358.9 109.2 358.9 108.8 359.0 108.5 359.1 108.1 359.2 107.6 359.3 107.1 359.4 106.6 359.5 106.0 359.7 105.4 359.9 104.6 360.1 103.8 360.4 102.7 360.7 101.4 361.1 99.7 361.8 97.9 362.7 96.8 363.7 96.9 364.6 98.2 365.2 100.2 365.6 102.0 365.9 103.2 366.2 104.2 366.4 105.0 366.6 105.6 366.8 106.2 366.9 106.7 367.1 107.2 367.4 107.4 368.0 107.5 368.6 107.6 369.4 107.6 370.3 107.7 371.4 107.8 372.9 108.0 374.8 108.2 377.6 108.4 381.4 108.9 384.7 110.0Z M382.1 111.5 380.1 112.7 376.6 113.4 373.7 113.7 371.8 114.0 370.3 114.1 369.2 114.2 368.3 114.2 367.6 114.3 367.1 114.3 366.6 114.3 366.2 114.4 365.8 114.4 365.5 114.4 365.2 114.4 364.9 114.5 364.7 114.5 364.4 114.5 364.2 114.5 364.0 114.5 363.7 114.5 363.5 114.5 363.3 114.4 363.1 114.4 362.9 114.4 362.7 114.3 362.5 114.3 362.3 114.2 362.1 114.2 361.9 114.1 361.7 114.1 361.5 114.1 361.2 114.0 361.0 113.9 360.7 113.9 360.5 113.8 360.2 113.7 360.0 113.5 359.9 113.3 359.7 113.0 359.6 112.8 359.5 112.6 359.4 112.3 359.2 112.1 359.1 111.8 359.0 111.5 359.0 111.2 359.1 110.9 359.1 110.6 359.1 110.3 359.2 110.0 359.2 109.7 359.3 109.4 359.3 109.1 359.4 108.7 359.5 108.4 359.6 108.0 359.6 107.6 359.7 107.1 359.9 106.6 360.0 106.0 360.2 105.4 360.4 104.6 360.7 103.7 361.0 102.6 361.4 101.1 361.9 99.4 362.7 98.5 363.6 98.6 364.4 99.7 365.0 101.5 365.3 103.0 365.6 104.1 365.8 104.9 366.1 105.6 366.3 106.2 366.4 106.7 366.6 107.2 366.7 107.6 367.0 107.8 367.5 107.9 368.1 107.9 368.8 108.0 369.6 108.1 370.6 108.2 371.8 108.4 373.5 108.5 375.9 108.8 379.3 109.2 382.1 110.2Z M379.6 111.5 377.8 112.5 374.8 113.1 372.4 113.5 370.7 113.7 369.5 113.8 368.5 113.9 367.7 113.9 367.1 114.0 366.7 114.0 366.2 114.1 365.9 114.1 365.6 114.1 365.3 114.1 365.0 114.2 364.8 114.2 364.5 114.2 364.3 114.2 364.1 114.2 363.9 114.2 363.7 114.2 363.5 114.2 363.3 114.2 363.1 114.1 362.9 114.1 362.7 114.1 362.6 114.0 362.4 114.0 362.2 113.9 362.0 113.9 361.8 113.9 361.6 113.8 361.4 113.8 361.2 113.7 361.0 113.6 360.7 113.6 360.5 113.5 360.3 113.3 360.2 113.1 360.1 112.9 360.0 112.7 359.9 112.5 359.8 112.2 359.6 112.0 359.5 111.8 359.4 111.5 359.4 111.2 359.5 111.0 359.5 110.7 359.5 110.5 359.6 110.2 359.6 109.9 359.7 109.6 359.7 109.3 359.8 109.0 359.9 108.7 359.9 108.4 360.0 108.0 360.1 107.6 360.2 107.1 360.4 106.6 360.6 106.1 360.7 105.4 361.0 104.6 361.2 103.7 361.6 102.4 362.1 101.0 362.8 100.2 363.6 100.3 364.3 101.2 364.7 102.7 365.1 104.0 365.3 105.0 365.5 105.7 365.7 106.3 365.9 106.8 366.1 107.2 366.2 107.6 366.4 108.0 366.7 108.2 367.1 108.2 367.6 108.3 368.2 108.4 368.9 108.5 369.7 108.6 370.8 108.7 372.3 108.9 374.3 109.1 377.2 109.5 379.6 110.4Z M377.1 111.5 375.6 112.4 373.1 112.9 371.1 113.2 369.7 113.4 368.6 113.5 367.8 113.6 367.2 113.6 366.7 113.7 366.3 113.7 365.9 113.8 365.6 113.8 365.3 113.8 365.0 113.9 364.8 113.9 364.6 113.9 364.4 113.9 364.2 113.9 364.0 113.9 363.8 114.0 363.6 114.0 363.5 113.9 363.3 113.9 363.1 113.9 363.0 113.8 362.8 113.8 362.6 113.8 362.5 113.7 362.3 113.7 362.1 113.7 362.0 113.6 361.8 113.6 361.6 113.5 361.4 113.5 361.2 113.4 361.0 113.3 360.8 113.3 360.6 113.1 360.5 112.9 360.4 112.7 360.3 112.5 360.2 112.3 360.1 112.2 360.0 111.9 359.9 111.7 359.9 111.5 359.9 111.3 359.9 111.0 359.9 110.8 360.0 110.6 360.0 110.3 360.0 110.1 360.1 109.8 360.1 109.6 360.2 109.3 360.3 109.0 360.3 108.7 360.4 108.4 360.5 108.0 360.6 107.7 360.7 107.2 360.9 106.8 361.1 106.2 361.3 105.6 361.5 104.8 361.8 103.7 362.3 102.5 362.9 101.9 363.5 102.0 364.1 102.7 364.5 104.0 364.8 105.0 365.0 105.8 365.2 106.4 365.4 106.9 365.6 107.3 365.7 107.7 365.9 108.1 366.0 108.4 366.3 108.5 366.6 108.6 367.1 108.7 367.6 108.8 368.2 108.9 368.9 109.0 369.8 109.1 371.0 109.3 372.7 109.5 375.1 109.8 377.1 110.5Z M374.6 111.5 373.4 112.2 371.4 112.7 369.8 112.9 368.7 113.1 367.8 113.2 367.2 113.3 366.6 113.3 366.2 113.4 365.9 113.4 365.6 113.5 365.3 113.5 365.1 113.6 364.8 113.6 364.6 113.6 364.4 113.6 364.2 113.6 364.1 113.7 363.9 113.7 363.7 113.7 363.6 113.7 363.4 113.7 363.3 113.6 363.1 113.6 363.0 113.6 362.8 113.5 362.7 113.5 362.6 113.5 362.4 113.5 362.3 113.4 362.1 113.4 362.0 113.3 361.8 113.3 361.6 113.2 361.5 113.2 361.3 113.1 361.1 113.0 361.0 112.9 360.9 112.7 360.8 112.6 360.7 112.4 360.6 112.2 360.5 112.1 360.4 111.9 360.3 111.7 360.3 111.5 360.3 111.3 360.3 111.1 360.3 110.9 360.3 110.7 360.4 110.5 360.4 110.3 360.5 110.0 360.5 109.8 360.6 109.6 360.6 109.4 360.7 109.1 360.8 108.8 360.9 108.5 361.0 108.2 361.1 107.9 361.2 107.5 361.4 107.0 361.6 106.5 361.8 105.8 362.1 105.0 362.4 104.1 362.9 103.5 363.5 103.6 364.0 104.2 364.3 105.2 364.6 106.1 364.8 106.7 364.9 107.2 365.1 107.6 365.3 107.9 365.4 108.2 365.5 108.5 365.7 108.8 365.9 108.9 366.2 109.0 366.6 109.1 367.0 109.1 367.5 109.2 368.0 109.3 368.8 109.5 369.8 109.6 371.1 109.8 373.0 110.1 374.6 110.7Z M372.1 111.5 371.3 112.1 369.8 112.4 368.5 112.6 367.7 112.8 367.0 112.9 366.5 113.0 366.1 113.0 365.8 113.1 365.5 113.2 365.2 113.2 365.0 113.2 364.8 113.3 364.6 113.3 364.4 113.3 364.3 113.4 364.1 113.4 364.0 113.4 363.8 113.4 363.7 113.4 363.5 113.4 363.4 113.4 363.3 113.4 363.1 113.3 363.0 113.3 362.9 113.3 362.8 113.3 362.6 113.2 362.5 113.2 362.4 113.2 362.3 113.1 362.1 113.1 362.0 113.0 361.9 113.0 361.7 112.9 361.5 112.9 361.4 112.8 361.3 112.7 361.2 112.6 361.1 112.4 361.0 112.3 361.0 112.1 360.9 112.0 360.8 111.8 360.8 111.7 360.7 111.5 360.7 111.3 360.7 111.1 360.7 111.0 360.7 110.8 360.8 110.6 360.8 110.4 360.9 110.3 360.9 110.1 361.0 109.9 361.0 109.7 361.1 109.5 361.2 109.2 361.2 109.0 361.3 108.7 361.5 108.5 361.6 108.2 361.7 107.8 361.9 107.4 362.1 106.9 362.3 106.3 362.6 105.6 363.0 105.2 363.4 105.2 363.8 105.7 364.1 106.4 364.3 107.1 364.5 107.5 364.7 107.9 364.8 108.2 365.0 108.5 365.1 108.7 365.2 108.9 365.3 109.1 365.5 109.3 365.8 109.3 366.1 109.4 366.4 109.5 366.8 109.6 367.2 109.7 367.8 109.8 368.5 110.0 369.5 110.2 371.0 110.4 372.1 110.9Z M369.7 111.5 369.1 111.9 368.1 112.2 367.3 112.4 366.7 112.5 366.2 112.6 365.9 112.7 365.6 112.8 365.3 112.8 365.1 112.9 364.9 112.9 364.7 113.0 364.6 113.0 364.4 113.0 364.3 113.1 364.1 113.1 364.0 113.1 363.9 113.1 363.7 113.1 363.6 113.1 363.5 113.1 363.4 113.1 363.3 113.1 363.1 113.1 363.0 113.1 362.9 113.0 362.8 113.0 362.7 113.0 362.6 113.0 362.5 112.9 362.4 112.9 362.3 112.9 362.2 112.8 362.1 112.8 361.9 112.7 361.8 112.7 361.7 112.6 361.6 112.5 361.5 112.4 361.5 112.3 361.4 112.2 361.3 112.0 361.3 111.9 361.2 111.8 361.2 111.6 361.1 111.5 361.1 111.4 361.1 111.2 361.1 111.1 361.1 110.9 361.2 110.8 361.2 110.6 361.2 110.5 361.3 110.3 361.3 110.1 361.4 110.0 361.5 109.8 361.5 109.6 361.6 109.5 361.7 109.3 361.8 109.1 361.9 108.9 362.0 108.6 362.2 108.3 362.3 108.0 362.5 107.5 362.7 107.1 363.0 106.8 363.4 106.8 363.7 107.1 363.9 107.6 364.1 108.0 364.2 108.4 364.4 108.6 364.5 108.8 364.6 109.0 364.8 109.2 364.9 109.4 365.0 109.5 365.1 109.6 365.3 109.7 365.6 109.8 365.8 109.9 366.1 110.0 366.4 110.1 366.8 110.2 367.3 110.3 368.0 110.5 368.9 110.7 369.7 111.0Z M367.3 111.5 367.0 111.8 366.5 112.0 366.0 112.1 365.7 112.2 365.4 112.3 365.2 112.4 365.0 112.5 364.9 112.5 364.7 112.6 364.6 112.6 364.4 112.7 364.3 112.7 364.2 112.8 364.1 112.8 364.0 112.8 363.9 112.8 363.7 112.8 363.6 112.9 363.5 112.9 363.4 112.9 363.3 112.9 363.2 112.8 363.2 112.8 363.1 112.8 363.0 112.8 362.9 112.8 362.8 112.8 362.7 112.7 362.6 112.7 362.5 112.7 362.4 112.6 362.4 112.6 362.3 112.5 362.2 112.5 362.1 112.4 362.0 112.4 361.9 112.3 361.9 112.2 361.8 112.1 361.7 112.0 361.7 111.9 361.6 111.8 361.6 111.7 361.5 111.6 361.5 111.5 361.5 111.4 361.5 111.3 361.5 111.1 361.5 111.0 361.6 110.9 361.6 110.8 361.6 110.7 361.7 110.5 361.7 110.4 361.8 110.3 361.8 110.2 361.9 110.1 362.0 109.9 362.1 109.8 362.1 109.7 362.2 109.5 362.3 109.4 362.5 109.2 362.6 109.0 362.7 108.8 362.9 108.6 363.1 108.4 363.3 108.4 363.5 108.6 363.7 108.8 363.8 109.0 363.9 109.2 364.1 109.3 364.2 109.5 364.3 109.6 364.4 109.7 364.5 109.8 364.6 109.9 364.8 110.0 364.9 110.1 365.1 110.1 365.2 110.2 365.4 110.3 365.6 110.4 365.8 110.6 366.1 110.7 366.4 110.8 366.9 111.0 367.3 111.2Z M364.9 111.5 364.9 111.6 364.8 111.7 364.8 111.8 364.7 111.9 364.6 112.0 364.6 112.1 364.5 112.2 364.4 112.3 364.3 112.3 364.2 112.4 364.2 112.4 364.1 112.5 364.0 112.5 363.9 112.5 363.8 112.5 363.7 112.6 363.6 112.6 363.6 112.6 363.5 112.6 363.4 112.6 363.3 112.6 363.2 112.6 363.2 112.6 363.1 112.6 363.0 112.6 362.9 112.5 362.9 112.5 362.8 112.5 362.7 112.5 362.7 112.4 362.6 112.4 362.5 112.4 362.5 112.3 362.4 112.3 362.3 112.2 362.3 112.2 362.2 112.1 362.2 112.0 362.1 112.0 362.1 111.9 362.0 111.8 362.0 111.8 362.0 111.7 361.9 111.6 361.9 111.5 361.9 111.4 361.9 111.3 361.9 111.2 361.9 111.1 361.9 111.0 362.0 110.9 362.0 110.9 362.0 110.8 362.1 110.7 362.1 110.6 362.2 110.5 362.3 110.5 362.3 110.4 362.4 110.3 362.5 110.3 362.6 110.2 362.7 110.2 362.8 110.1 362.8 110.1 362.9 110.1 363.0 110.0 363.1 110.0 363.3 110.0 363.4 110.0 363.5 110.0 363.6 110.0 363.7 110.0 363.8 110.0 363.9 110.1 364.0 110.1 364.1 110.2 364.2 110.2 364.3 110.3 364.4 110.3 364.5 110.4 364.6 110.5 364.7 110.6 364.7 110.7 364.8 110.8 364.8 110.9 364.9 111.0 364.9 111.1 364.9 111.3 364.9 111.4Z" fill="none" stroke="#111" stroke-width="0.7"/>
<path d="M472.5 111.5 470.7 113.0 468.8 114.3 467.0 115.3 465.3 116.1 463.9 116.8 462.6 117.5 461.5 118.0 460.5 118.6 459.4 118.9 458.3 119.2 457.3 119.3 456.4 119.5 455.6 119.7 454.8 119.8 454.1 119.9 453.4 120.0 452.7 120.2 452.1 120.3 451.4 120.4 450.8 120.3 450.1 120.2 449.5 120.1 448.9 120.1 448.3 120.0 447.7 119.9 447.1 119.8 446.5 119.7 445.9 119.6 445.3 119.5 444.7 119.3 444.2 118.8 443.8 118.4 443.3 118.0 442.9 117.6 442.4 117.2 441.9 116.8 441.4 116.4 440.9 115.9 440.6 115.3 440.5 114.7 440.4 114.0 440.3 113.4 440.1 112.8 440.0 112.1 439.9 111.5 439.8 110.8 439.8 110.2 439.9 109.5 440.0 108.9 440.2 108.2 440.3 107.5 440.5 106.9 440.6 106.1 440.8 105.4 441.0 104.6 441.2 103.8 441.6 103.1 442.0 102.3 442.4 101.5 442.9 100.6 443.4 99.6 444.0 98.7 444.8 97.9 445.6 97.2 446.5 96.4 447.5 95.0 448.5 90.8 450.2 83.9 452.4 81.3 454.2 83.4 455.0 88.1 455.6 91.9 456.1 94.4 456.7 96.2 457.6 97.0 458.7 97.5 459.8 98.0 460.9 98.5 462.2 99.0 463.4 99.5 464.8 100.2 466.2 100.9 467.7 101.6 469.4 102.5 470.8 103.6 471.9 105.0 473.0 106.4 473.4 108.1 473.2 109.8Z M469.3 111.5 467.8 112.8 466.2 113.9 464.6 114.8 463.0 115.5 461.7 116.0 460.5 116.6 459.5 117.0 458.6 117.4 457.7 117.7 456.8 117.9 455.9 118.0 455.1 118.1 454.4 118.2 453.8 118.3 453.2 118.4 452.6 118.5 452.1 118.6 451.5 118.7 451.0 118.7 450.5 118.8 450.0 118.7 449.4 118.7 449.0 118.6 448.5 118.5 448.0 118.4 447.5 118.3 447.0 118.2 446.5 118.2 446.0 118.1 445.5 117.9 445.0 117.7 444.6 117.4 444.2 117.1 443.8 116.7 443.4 116.3 443.0 116.0 442.7 115.6 442.3 115.2 441.9 114.7 441.7 114.2 441.5 113.7 441.4 113.2 441.4 112.6 441.3 112.1 441.2 111.5 441.1 110.9 441.1 110.4 441.1 109.8 441.1 109.2 441.3 108.6 441.4 108.0 441.6 107.4 441.7 106.8 441.9 106.2 442.1 105.5 442.3 104.8 442.5 104.1 442.8 103.3 443.2 102.6 443.7 102.0 444.2 101.3 444.8 100.7 445.5 100.1 446.2 99.5 447.0 98.9 447.8 98.0 448.7 96.0 449.8 93.2 451.3 92.0 452.5 92.6 453.4 94.6 454.1 96.3 454.8 97.6 455.5 98.5 456.3 99.1 457.2 99.6 458.2 100.0 459.1 100.5 460.1 101.0 461.2 101.5 462.2 102.0 463.4 102.6 464.6 103.3 465.9 104.0 467.2 104.9 468.4 106.0 469.6 107.2 470.0 108.6 470.0 110.0Z M467.0 111.5 465.6 112.6 464.3 113.6 462.8 114.4 461.3 115.0 460.1 115.5 459.1 115.9 458.1 116.3 457.3 116.6 456.5 116.8 455.7 116.9 454.9 117.0 454.3 117.1 453.7 117.2 453.1 117.3 452.6 117.4 452.1 117.4 451.6 117.5 451.2 117.6 450.7 117.6 450.3 117.7 449.9 117.7 449.4 117.6 449.0 117.5 448.6 117.5 448.2 117.4 447.8 117.3 447.3 117.2 446.9 117.1 446.5 117.0 446.1 116.9 445.6 116.9 445.1 116.7 444.8 116.4 444.5 116.1 444.1 115.7 443.8 115.4 443.5 115.0 443.2 114.7 442.9 114.3 442.5 113.9 442.3 113.5 442.3 113.0 442.2 112.5 442.2 112.0 442.1 111.5 442.1 111.0 442.0 110.5 441.9 110.0 441.9 109.4 442.1 108.9 442.2 108.4 442.4 107.9 442.5 107.3 442.7 106.8 442.8 106.2 443.0 105.5 443.2 104.8 443.4 104.1 443.8 103.5 444.3 103.0 444.8 102.6 445.4 102.1 446.0 101.6 446.6 101.1 447.3 100.6 448.0 100.0 448.8 99.6 449.6 99.3 450.5 99.1 451.4 98.8 452.3 98.9 453.2 99.3 453.9 99.8 454.7 100.2 455.5 100.6 456.2 101.1 457.0 101.5 457.8 101.9 458.7 102.4 459.5 102.8 460.5 103.3 461.4 103.9 462.4 104.5 463.5 105.1 464.7 105.9 466.0 106.7 467.1 107.7 467.5 108.9 467.6 110.2Z M465.4 111.5 464.1 112.5 462.9 113.4 461.6 114.1 460.3 114.7 459.2 115.1 458.2 115.5 457.4 115.9 456.6 116.1 455.9 116.4 455.1 116.5 454.5 116.6 453.8 116.7 453.3 116.7 452.8 116.8 452.3 116.9 451.9 116.9 451.4 117.0 451.0 117.1 450.6 117.1 450.2 117.2 449.8 117.2 449.4 117.1 449.0 117.0 448.6 117.0 448.3 116.9 447.9 116.8 447.5 116.7 447.1 116.6 446.7 116.6 446.3 116.5 445.9 116.4 445.5 116.3 445.1 116.0 444.9 115.7 444.6 115.4 444.3 115.1 444.0 114.7 443.7 114.4 443.4 114.1 443.1 113.7 442.9 113.3 442.9 112.8 442.8 112.4 442.8 111.9 442.7 111.5 442.7 111.0 442.6 110.6 442.6 110.1 442.6 109.6 442.7 109.1 442.8 108.7 442.9 108.2 443.1 107.7 443.2 107.2 443.4 106.6 443.6 106.0 443.7 105.4 443.9 104.8 444.3 104.2 444.7 103.8 445.2 103.4 445.7 102.9 446.3 102.5 446.8 102.1 447.5 101.6 448.1 101.1 448.8 100.7 449.6 100.4 450.4 100.2 451.2 100.0 452.1 100.0 452.8 100.4 453.5 100.8 454.2 101.2 454.9 101.6 455.6 102.0 456.3 102.4 457.1 102.8 457.8 103.2 458.6 103.6 459.5 104.0 460.3 104.5 461.3 105.1 462.2 105.7 463.3 106.4 464.4 107.1 465.5 108.0 465.8 109.2 465.9 110.3Z M463.9 111.5 462.7 112.4 461.7 113.2 460.5 113.9 459.3 114.4 458.3 114.8 457.4 115.2 456.7 115.5 456.0 115.7 455.3 115.9 454.6 116.1 454.0 116.1 453.5 116.2 453.0 116.3 452.5 116.4 452.1 116.4 451.6 116.5 451.2 116.6 450.9 116.6 450.5 116.7 450.1 116.7 449.7 116.7 449.4 116.6 449.0 116.6 448.7 116.5 448.3 116.4 448.0 116.3 447.6 116.3 447.3 116.2 446.9 116.1 446.6 116.0 446.2 116.0 445.8 115.8 445.5 115.6 445.2 115.3 445.0 115.0 444.7 114.7 444.5 114.5 444.2 114.2 443.9 113.8 443.7 113.5 443.5 113.1 443.4 112.7 443.4 112.3 443.3 111.9 443.3 111.5 443.3 111.1 443.2 110.7 443.2 110.2 443.2 109.8 443.3 109.3 443.4 108.9 443.5 108.5 443.6 108.0 443.8 107.5 443.9 107.1 444.1 106.5 444.2 106.0 444.4 105.4 444.7 104.8 445.1 104.5 445.6 104.1 446.1 103.7 446.5 103.3 447.1 102.9 447.6 102.5 448.2 102.0 448.9 101.6 449.6 101.4 450.3 101.2 451.0 101.0 451.8 101.1 452.5 101.4 453.1 101.8 453.8 102.1 454.4 102.5 455.0 102.8 455.7 103.2 456.4 103.5 457.1 103.9 457.8 104.3 458.5 104.7 459.3 105.2 460.2 105.7 461.0 106.2 462.0 106.9 463.0 107.5 463.9 108.4 464.2 109.4 464.4 110.4Z M462.4 111.5 461.4 112.4 460.4 113.1 459.4 113.7 458.3 114.1 457.4 114.5 456.7 114.8 456.0 115.1 455.4 115.4 454.8 115.5 454.1 115.6 453.6 115.7 453.1 115.8 452.6 115.9 452.2 116.0 451.8 116.0 451.4 116.1 451.1 116.1 450.7 116.2 450.4 116.2 450.0 116.2 449.7 116.2 449.4 116.2 449.0 116.1 448.7 116.1 448.4 116.0 448.1 115.9 447.8 115.9 447.5 115.8 447.1 115.7 446.8 115.6 446.5 115.6 446.1 115.4 445.8 115.2 445.6 115.0 445.4 114.7 445.1 114.4 444.9 114.2 444.7 113.9 444.4 113.6 444.2 113.3 444.0 113.0 444.0 112.6 443.9 112.2 443.9 111.9 443.8 111.5 443.8 111.1 443.8 110.7 443.7 110.3 443.7 109.9 443.8 109.5 443.9 109.1 444.0 108.7 444.1 108.3 444.3 107.9 444.4 107.5 444.5 107.0 444.7 106.5 444.9 105.9 445.1 105.5 445.5 105.1 445.9 104.8 446.4 104.4 446.8 104.1 447.3 103.7 447.8 103.3 448.3 102.9 448.9 102.6 449.5 102.4 450.2 102.2 450.9 102.0 451.5 102.1 452.2 102.4 452.8 102.7 453.3 103.0 453.9 103.3 454.5 103.6 455.1 104.0 455.7 104.3 456.3 104.6 457.0 105.0 457.6 105.4 458.4 105.8 459.1 106.2 459.9 106.7 460.7 107.3 461.7 107.9 462.5 108.7 462.8 109.6 462.8 110.5Z M461.0 111.5 460.1 112.3 459.3 112.9 458.4 113.4 457.4 113.9 456.6 114.2 455.9 114.5 455.3 114.8 454.8 115.0 454.2 115.2 453.7 115.3 453.2 115.3 452.7 115.4 452.3 115.5 451.9 115.5 451.6 115.6 451.2 115.6 450.9 115.7 450.6 115.7 450.3 115.8 450.0 115.8 449.7 115.8 449.3 115.8 449.1 115.7 448.8 115.6 448.5 115.6 448.2 115.5 447.9 115.4 447.6 115.4 447.3 115.3 447.0 115.2 446.7 115.2 446.4 115.1 446.2 114.9 446.0 114.6 445.8 114.4 445.5 114.2 445.3 113.9 445.1 113.7 444.9 113.4 444.7 113.1 444.5 112.8 444.5 112.5 444.5 112.2 444.4 111.8 444.4 111.5 444.3 111.2 444.3 110.8 444.3 110.4 444.3 110.1 444.3 109.7 444.4 109.4 444.5 109.0 444.6 108.6 444.8 108.3 444.9 107.9 445.0 107.4 445.1 107.0 445.3 106.5 445.5 106.1 445.9 105.8 446.3 105.5 446.6 105.2 447.0 104.8 447.5 104.5 447.9 104.2 448.4 103.8 448.9 103.5 449.5 103.3 450.1 103.1 450.7 103.0 451.3 103.0 451.9 103.3 452.4 103.6 452.9 103.9 453.4 104.2 454.0 104.4 454.5 104.7 455.0 105.0 455.6 105.3 456.2 105.6 456.8 106.0 457.4 106.4 458.1 106.8 458.8 107.2 459.5 107.7 460.4 108.3 461.1 109.0 461.3 109.8 461.4 110.6Z M459.7 111.5 458.9 112.2 458.2 112.8 457.4 113.2 456.5 113.6 455.8 113.9 455.2 114.2 454.7 114.4 454.2 114.6 453.7 114.8 453.2 114.9 452.8 115.0 452.4 115.0 452.0 115.1 451.7 115.2 451.3 115.2 451.0 115.2 450.7 115.3 450.4 115.3 450.2 115.4 449.9 115.4 449.6 115.4 449.3 115.3 449.1 115.3 448.8 115.2 448.6 115.2 448.3 115.1 448.0 115.0 447.8 115.0 447.5 114.9 447.3 114.9 447.0 114.8 446.7 114.7 446.5 114.5 446.3 114.3 446.1 114.1 445.9 113.9 445.7 113.7 445.5 113.4 445.3 113.2 445.2 113.0 445.0 112.7 445.0 112.4 445.0 112.1 444.9 111.8 444.9 111.5 444.8 111.2 444.8 110.9 444.8 110.6 444.8 110.2 444.8 109.9 444.9 109.6 445.0 109.3 445.1 108.9 445.2 108.6 445.3 108.2 445.4 107.9 445.6 107.5 445.7 107.0 445.9 106.7 446.2 106.4 446.6 106.1 446.9 105.8 447.3 105.6 447.6 105.3 448.0 105.0 448.5 104.6 449.0 104.4 449.5 104.2 450.0 104.1 450.5 103.9 451.1 104.0 451.6 104.2 452.1 104.4 452.5 104.7 453.0 104.9 453.5 105.2 453.9 105.4 454.4 105.7 454.9 106.0 455.4 106.3 456.0 106.6 456.5 106.9 457.1 107.3 457.7 107.7 458.4 108.2 459.1 108.7 459.7 109.3 459.9 110.0 460.0 110.7Z M458.4 111.5 457.7 112.1 457.1 112.6 456.4 113.0 455.7 113.4 455.1 113.6 454.6 113.9 454.1 114.1 453.7 114.3 453.2 114.4 452.8 114.5 452.4 114.6 452.0 114.7 451.7 114.7 451.4 114.8 451.1 114.8 450.8 114.9 450.6 114.9 450.3 114.9 450.1 115.0 449.8 115.0 449.6 115.0 449.3 114.9 449.1 114.9 448.9 114.8 448.6 114.8 448.4 114.7 448.2 114.7 447.9 114.6 447.7 114.5 447.5 114.5 447.2 114.4 447.0 114.3 446.8 114.2 446.6 114.0 446.5 113.8 446.3 113.6 446.1 113.4 446.0 113.2 445.8 113.0 445.6 112.8 445.5 112.6 445.5 112.3 445.4 112.0 445.4 111.8 445.4 111.5 445.3 111.2 445.3 111.0 445.3 110.7 445.3 110.4 445.3 110.1 445.4 109.8 445.5 109.5 445.6 109.2 445.7 108.9 445.8 108.6 445.9 108.3 446.0 107.9 446.1 107.6 446.3 107.2 446.6 107.0 446.9 106.7 447.2 106.5 447.5 106.3 447.8 106.0 448.2 105.7 448.6 105.5 449.0 105.2 449.4 105.1 449.9 105.0 450.4 104.8 450.9 104.9 451.3 105.1 451.7 105.3 452.1 105.5 452.5 105.7 453.0 105.9 453.4 106.1 453.8 106.4 454.3 106.6 454.7 106.9 455.2 107.2 455.7 107.5 456.2 107.8 456.7 108.2 457.3 108.6 457.9 109.0 458.4 109.5 458.6 110.2 458.7 110.8Z M457.1 111.5 456.6 112.0 456.0 112.5 455.4 112.8 454.8 113.1 454.3 113.4 453.9 113.6 453.5 113.8 453.1 114.0 452.8 114.1 452.4 114.2 452.0 114.2 451.7 114.3 451.4 114.4 451.2 114.4 450.9 114.4 450.7 114.5 450.4 114.5 450.2 114.5 450.0 114.6 449.7 114.6 449.5 114.6 449.3 114.5 449.1 114.5 448.9 114.4 448.7 114.4 448.5 114.3 448.3 114.3 448.1 114.2 447.9 114.2 447.7 114.1 447.5 114.1 447.3 114.0 447.1 113.8 447.0 113.7 446.8 113.5 446.7 113.3 446.5 113.2 446.4 113.0 446.2 112.8 446.1 112.6 446.0 112.4 445.9 112.2 445.9 112.0 445.9 111.7 445.9 111.5 445.8 111.3 445.8 111.0 445.8 110.8 445.8 110.5 445.8 110.3 445.9 110.0 446.0 109.8 446.0 109.5 446.1 109.3 446.2 109.0 446.3 108.7 446.4 108.4 446.5 108.1 446.7 107.8 446.9 107.6 447.2 107.4 447.4 107.1 447.7 106.9 448.0 106.7 448.3 106.5 448.6 106.2 449.0 106.1 449.4 105.9 449.8 105.8 450.2 105.7 450.6 105.7 451.0 105.9 451.4 106.1 451.8 106.3 452.1 106.5 452.5 106.6 452.8 106.8 453.2 107.0 453.6 107.2 454.0 107.5 454.4 107.7 454.8 108.0 455.3 108.3 455.7 108.6 456.2 109.0 456.7 109.4 457.1 109.8 457.3 110.4 457.3 110.9Z M455.8 111.5 455.4 111.9 455.0 112.3 454.5 112.6 454.0 112.9 453.6 113.1 453.2 113.3 452.9 113.5 452.6 113.6 452.3 113.7 452.0 113.8 451.7 113.9 451.4 113.9 451.2 114.0 450.9 114.0 450.7 114.1 450.5 114.1 450.3 114.1 450.1 114.2 449.9 114.2 449.7 114.2 449.5 114.2 449.3 114.1 449.1 114.1 448.9 114.1 448.8 114.0 448.6 114.0 448.4 113.9 448.2 113.9 448.1 113.8 447.9 113.8 447.7 113.7 447.5 113.6 447.4 113.5 447.3 113.4 447.1 113.2 447.0 113.1 446.9 112.9 446.8 112.8 446.6 112.6 446.5 112.5 446.4 112.3 446.4 112.1 446.4 111.9 446.3 111.7 446.3 111.5 446.3 111.3 446.3 111.1 446.3 110.9 446.3 110.7 446.3 110.4 446.4 110.2 446.4 110.0 446.5 109.8 446.6 109.6 446.6 109.3 446.7 109.1 446.8 108.8 446.9 108.6 447.1 108.3 447.3 108.1 447.5 108.0 447.7 107.8 447.9 107.6 448.2 107.4 448.4 107.2 448.7 107.0 449.0 106.9 449.4 106.8 449.7 106.7 450.1 106.6 450.4 106.6 450.7 106.7 451.1 106.9 451.4 107.0 451.7 107.2 452.0 107.3 452.3 107.5 452.6 107.7 453.0 107.9 453.3 108.1 453.6 108.3 454.0 108.5 454.3 108.8 454.7 109.0 455.1 109.4 455.5 109.7 455.9 110.1 456.0 110.5 456.0 111.0Z M454.6 111.5 454.3 111.9 454.0 112.2 453.6 112.4 453.2 112.7 452.9 112.8 452.6 113.0 452.3 113.2 452.1 113.3 451.8 113.4 451.6 113.5 451.3 113.5 451.1 113.6 450.9 113.6 450.7 113.7 450.5 113.7 450.3 113.7 450.1 113.8 449.9 113.8 449.8 113.8 449.6 113.8 449.4 113.8 449.3 113.8 449.1 113.7 449.0 113.7 448.8 113.6 448.7 113.6 448.5 113.6 448.4 113.5 448.2 113.5 448.1 113.4 447.9 113.4 447.8 113.3 447.7 113.2 447.6 113.1 447.5 113.0 447.4 112.8 447.3 112.7 447.2 112.6 447.1 112.5 447.0 112.3 446.9 112.2 446.9 112.0 446.8 111.8 446.8 111.7 446.8 111.5 446.8 111.3 446.7 111.2 446.7 111.0 446.7 110.8 446.8 110.6 446.8 110.4 446.9 110.3 446.9 110.1 447.0 109.9 447.0 109.7 447.1 109.5 447.2 109.3 447.3 109.1 447.4 108.9 447.6 108.7 447.8 108.6 447.9 108.4 448.1 108.3 448.4 108.1 448.6 107.9 448.8 107.8 449.1 107.7 449.3 107.6 449.6 107.5 449.9 107.4 450.2 107.5 450.5 107.6 450.8 107.7 451.0 107.8 451.3 107.9 451.5 108.0 451.8 108.2 452.1 108.3 452.3 108.5 452.6 108.6 452.9 108.8 453.2 109.0 453.5 109.2 453.7 109.5 454.1 109.7 454.4 110.0 454.6 110.3 454.7 110.7 454.8 111.1Z M453.4 111.5 453.2 111.8 453.0 112.0 452.7 112.2 452.4 112.4 452.2 112.6 452.0 112.7 451.8 112.9 451.6 113.0 451.4 113.1 451.2 113.1 451.0 113.2 450.8 113.3 450.6 113.3 450.4 113.3 450.3 113.4 450.1 113.4 450.0 113.4 449.8 113.4 449.7 113.4 449.5 113.4 449.4 113.4 449.3 113.4 449.1 113.4 449.0 113.3 448.9 113.3 448.8 113.2 448.6 113.2 448.5 113.2 448.4 113.1 448.3 113.1 448.2 113.0 448.1 113.0 448.0 112.9 447.9 112.8 447.8 112.7 447.7 112.6 447.6 112.5 447.5 112.4 447.5 112.3 447.4 112.2 447.3 112.0 447.3 111.9 447.3 111.8 447.3 111.6 447.2 111.5 447.2 111.4 447.2 111.2 447.2 111.1 447.2 110.9 447.2 110.8 447.3 110.6 447.3 110.5 447.3 110.3 447.4 110.2 447.5 110.0 447.5 109.9 447.6 109.7 447.7 109.5 447.8 109.4 447.9 109.3 448.0 109.1 448.2 109.0 448.4 108.9 448.5 108.8 448.7 108.7 448.9 108.5 449.1 108.4 449.3 108.4 449.5 108.3 449.8 108.3 450.0 108.3 450.2 108.4 450.4 108.4 450.7 108.5 450.9 108.6 451.1 108.7 451.3 108.8 451.5 108.9 451.7 109.1 451.9 109.2 452.2 109.3 452.4 109.5 452.6 109.7 452.8 109.9 453.0 110.1 453.2 110.3 453.4 110.6 453.5 110.9 453.5 111.2Z M452.2 111.5 452.1 111.7 452.0 111.9 451.8 112.1 451.7 112.2 451.5 112.3 451.4 112.5 451.2 112.6 451.1 112.7 450.9 112.7 450.8 112.8 450.6 112.9 450.5 112.9 450.3 113.0 450.2 113.0 450.1 113.0 449.9 113.0 449.8 113.0 449.7 113.1 449.6 113.1 449.5 113.1 449.4 113.0 449.3 113.0 449.1 113.0 449.0 113.0 448.9 112.9 448.9 112.9 448.8 112.9 448.7 112.8 448.6 112.8 448.5 112.7 448.4 112.7 448.3 112.6 448.2 112.6 448.2 112.5 448.1 112.4 448.0 112.3 448.0 112.3 447.9 112.2 447.9 112.1 447.8 112.0 447.8 111.9 447.7 111.8 447.7 111.7 447.7 111.6 447.7 111.5 447.7 111.4 447.7 111.3 447.7 111.2 447.7 111.1 447.7 110.9 447.7 110.8 447.7 110.7 447.8 110.6 447.8 110.5 447.9 110.4 447.9 110.3 448.0 110.1 448.0 110.0 448.1 109.9 448.2 109.8 448.3 109.7 448.4 109.6 448.6 109.5 448.7 109.4 448.8 109.4 449.0 109.3 449.1 109.2 449.3 109.2 449.4 109.1 449.6 109.1 449.8 109.1 450.0 109.1 450.1 109.2 450.3 109.2 450.5 109.3 450.6 109.4 450.8 109.4 451.0 109.5 451.1 109.6 451.3 109.7 451.4 109.9 451.6 110.0 451.7 110.2 451.9 110.3 452.0 110.5 452.1 110.7 452.2 110.9 452.3 111.1 452.3 111.3Z M451.1 111.5 451.1 111.6 451.0 111.8 451.0 111.9 450.9 112.0 450.8 112.1 450.8 112.2 450.7 112.3 450.6 112.4 450.5 112.4 450.4 112.5 450.3 112.5 450.2 112.6 450.1 112.6 450.0 112.7 449.9 112.7 449.8 112.7 449.7 112.7 449.6 112.7 449.5 112.7 449.4 112.7 449.3 112.7 449.2 112.7 449.2 112.6 449.1 112.6 449.0 112.6 448.9 112.6 448.9 112.5 448.8 112.5 448.7 112.4 448.7 112.4 448.6 112.4 448.6 112.3 448.5 112.3 448.5 112.2 448.4 112.2 448.4 112.1 448.3 112.0 448.3 112.0 448.3 111.9 448.2 111.9 448.2 111.8 448.2 111.7 448.2 111.6 448.1 111.6 448.1 111.5 448.1 111.4 448.1 111.3 448.1 111.3 448.1 111.2 448.1 111.1 448.1 111.0 448.2 110.9 448.2 110.9 448.2 110.8 448.2 110.7 448.3 110.6 448.3 110.5 448.4 110.5 448.5 110.4 448.5 110.3 448.6 110.3 448.7 110.2 448.8 110.1 448.8 110.1 448.9 110.0 449.0 110.0 449.1 110.0 449.3 109.9 449.4 109.9 449.5 109.9 449.6 109.9 449.7 109.9 449.8 109.9 450.0 109.9 450.1 110.0 450.2 110.0 450.3 110.1 450.4 110.1 450.5 110.2 450.6 110.3 450.7 110.4 450.8 110.5 450.9 110.6 451.0 110.7 451.0 110.8 451.1 111.0 451.1 111.1 451.1 111.2 451.1 111.4Z" fill="none" stroke="#111" stroke-width="0.7"/>
<circle cx="275.3" cy="111.4" r="4.0" fill="none" stroke="#0a0a0a" stroke-width="2.4"/>
<circle cx="275.3" cy="111.4" r="1.3" fill="#fff"/>
<circle cx="275.3" cy="111.4" r="0.6" fill="#666"/>
<circle cx="363.4" cy="111.4" r="4.0" fill="none" stroke="#0a0a0a" stroke-width="3.0"/>
<circle cx="363.4" cy="111.4" r="1.3" fill="#fff"/>
<circle cx="363.4" cy="111.4" r="0.6" fill="#666"/>
<circle cx="449.6" cy="111.4" r="3.6" fill="none" stroke="#0a0a0a" stroke-width="2.8"/>
<circle cx="449.6" cy="111.4" r="1.3" fill="#fff"/>
<circle cx="449.6" cy="111.4" r="0.6" fill="#666"/>
<path d="M390.0 63.8 390.1 64.5 389.9 65.3 389.6 66.0 389.2 66.8 388.6 67.4 387.8 68.0 387.0 68.6 386.1 69.0 385.1 69.3 384.0 69.5 383.0 69.6 381.9 69.6 380.9 69.5 379.9 69.2 379.1 68.9 378.3 68.4 377.6 67.9 377.1 67.2 376.8 66.5 376.6 65.8 376.5 65.1 376.7 64.3 377.0 63.6 377.4 62.8 378.0 62.2 378.8 61.6 379.6 61.0 380.5 60.6 381.5 60.3 382.6 60.1 383.6 60.0 384.7 60.0 385.7 60.1 386.7 60.4 387.5 60.7 388.3 61.2 389.0 61.7 389.5 62.4 389.8 63.1Z M386.2 64.2 386.2 64.6 386.2 65.0 386.2 65.5 386.0 65.9 385.8 66.3 385.5 66.6 385.1 67.0 384.7 67.3 384.3 67.5 383.8 67.7 383.3 67.8 382.8 67.9 382.3 67.9 381.8 67.8 381.3 67.6 380.9 67.4 380.5 67.2 380.2 66.9 380.0 66.6 379.8 66.2 379.8 65.8 379.8 65.4 379.8 64.9 380.0 64.5 380.2 64.1 380.5 63.8 380.9 63.4 381.3 63.1 381.7 62.9 382.2 62.7 382.7 62.6 383.2 62.5 383.7 62.5 384.2 62.6 384.7 62.8 385.1 63.0 385.5 63.2 385.8 63.5 386.0 63.8Z" fill="none" stroke="#111" stroke-width="0.7"/>
<rect x="258.2" y="53.2" width="78.0" height="78.2" fill="none" stroke="#333" stroke-width="1"/>
<line x1="280.6" y1="53.2" x2="280.6" y2="131.4" stroke="#222" stroke-width="1"/>
<line x1="258.2" y1="105.8" x2="336.2" y2="105.8" stroke="#222" stroke-width="1"/>
<text x="258.1" y="63.0" font-size="10.2">23.7</text>
<text x="335.6" y="127.9" font-size="10.2" text-anchor="end">24.9</text>
<rect x="344.7" y="53.2" width="78.69999999999999" height="78.2" fill="none" stroke="#333" stroke-width="1"/>
<line x1="367.8" y1="53.2" x2="367.8" y2="131.4" stroke="#222" stroke-width="1"/>
<line x1="344.7" y1="104.8" x2="423.4" y2="104.8" stroke="#222" stroke-width="1"/>
<text x="345.9" y="63.0" font-size="10.2">11.9</text>
<text x="419.6" y="127.9" font-size="10.2" text-anchor="end">32.1</text>
<rect x="431.3" y="53.2" width="78.69999999999999" height="78.2" fill="none" stroke="#333" stroke-width="1"/>
<line x1="455.3" y1="53.2" x2="455.3" y2="131.4" stroke="#222" stroke-width="1"/>
<line x1="431.3" y1="104.9" x2="510.0" y2="104.9" stroke="#222" stroke-width="1"/>
<text x="433.2" y="63.0" font-size="10.2">10.8</text>
<text x="503.7" y="127.9" font-size="10.2" text-anchor="end">18.2</text>
<line x1="271.2" y1="131.4" x2="271.2" y2="133.4" stroke="#888" stroke-width="0.8"/>
<line x1="284.2" y1="131.4" x2="284.2" y2="133.4" stroke="#888" stroke-width="0.8"/>
<line x1="297.2" y1="131.4" x2="297.2" y2="133.4" stroke="#888" stroke-width="0.8"/>
<line x1="310.2" y1="131.4" x2="310.2" y2="133.4" stroke="#888" stroke-width="0.8"/>
<line x1="323.2" y1="131.4" x2="323.2" y2="133.4" stroke="#888" stroke-width="0.8"/>
<line x1="256.2" y1="66.23333333333333" x2="258.2" y2="66.23333333333333" stroke="#888" stroke-width="0.8"/>
<line x1="256.2" y1="79.26666666666667" x2="258.2" y2="79.26666666666667" stroke="#888" stroke-width="0.8"/>
<line x1="256.2" y1="92.30000000000001" x2="258.2" y2="92.30000000000001" stroke="#888" stroke-width="0.8"/>
<line x1="256.2" y1="105.33333333333334" x2="258.2" y2="105.33333333333334" stroke="#888" stroke-width="0.8"/>
<line x1="256.2" y1="118.36666666666667" x2="258.2" y2="118.36666666666667" stroke="#888" stroke-width="0.8"/>
<line x1="357.81666666666666" y1="131.4" x2="357.81666666666666" y2="133.4" stroke="#888" stroke-width="0.8"/>
<line x1="370.93333333333334" y1="131.4" x2="370.93333333333334" y2="133.4" stroke="#888" stroke-width="0.8"/>
<line x1="384.04999999999995" y1="131.4" x2="384.04999999999995" y2="133.4" stroke="#888" stroke-width="0.8"/>
<line x1="397.16666666666663" y1="131.4" x2="397.16666666666663" y2="133.4" stroke="#888" stroke-width="0.8"/>
<line x1="410.2833333333333" y1="131.4" x2="410.2833333333333" y2="133.4" stroke="#888" stroke-width="0.8"/>
<line x1="342.7" y1="66.23333333333333" x2="344.7" y2="66.23333333333333" stroke="#888" stroke-width="0.8"/>
<line x1="342.7" y1="79.26666666666667" x2="344.7" y2="79.26666666666667" stroke="#888" stroke-width="0.8"/>
<line x1="342.7" y1="92.30000000000001" x2="344.7" y2="92.30000000000001" stroke="#888" stroke-width="0.8"/>
<line x1="342.7" y1="105.33333333333334" x2="344.7" y2="105.33333333333334" stroke="#888" stroke-width="0.8"/>
<line x1="342.7" y1="118.36666666666667" x2="344.7" y2="118.36666666666667" stroke="#888" stroke-width="0.8"/>
<line x1="444.4166666666667" y1="131.4" x2="444.4166666666667" y2="133.4" stroke="#888" stroke-width="0.8"/>
<line x1="457.53333333333336" y1="131.4" x2="457.53333333333336" y2="133.4" stroke="#888" stroke-width="0.8"/>
<line x1="470.65" y1="131.4" x2="470.65" y2="133.4" stroke="#888" stroke-width="0.8"/>
<line x1="483.76666666666665" y1="131.4" x2="483.76666666666665" y2="133.4" stroke="#888" stroke-width="0.8"/>
<line x1="496.8833333333333" y1="131.4" x2="496.8833333333333" y2="133.4" stroke="#888" stroke-width="0.8"/>
<line x1="429.3" y1="66.23333333333333" x2="431.3" y2="66.23333333333333" stroke="#888" stroke-width="0.8"/>
<line x1="429.3" y1="79.26666666666667" x2="431.3" y2="79.26666666666667" stroke="#888" stroke-width="0.8"/>
<line x1="429.3" y1="92.30000000000001" x2="431.3" y2="92.30000000000001" stroke="#888" stroke-width="0.8"/>
<line x1="429.3" y1="105.33333333333334" x2="431.3" y2="105.33333333333334" stroke="#888" stroke-width="0.8"/>
<line x1="429.3" y1="118.36666666666667" x2="431.3" y2="118.36666666666667" stroke="#888" stroke-width="0.8"/>
<line x1="252.3" y1="131.0" x2="252.3" y2="65" stroke="#111" stroke-width="1.4"/>
<path d="M252.3 59.4 L248.9 66.8 L255.7 66.8 Z" fill="#111" stroke="none" stroke-width="1"/>
<text transform="translate(248.6,94.9) rotate(-90)" x="0" y="0" font-size="10.8" text-anchor="middle">CD14</text>
<line x1="261.5" y1="139.4" x2="476" y2="139.4" stroke="#111" stroke-width="1.4"/>
<path d="M482.3 139.4 L474.4 135.6 L474.4 143.2 Z" fill="#111" stroke="none" stroke-width="1"/>
<text x="485.6" y="143.8" font-size="10.8" textLength="27" lengthAdjust="spacingAndGlyphs">CD66</text>
<text x="1.6" y="190.8" font-size="16" font-weight="bold">C</text>
<line x1="56" y1="273.0" x2="143" y2="273.0" stroke="#d9d9d9" stroke-width="1"/>
<line x1="56" y1="262.08" x2="143" y2="262.08" stroke="#d9d9d9" stroke-width="1"/>
<line x1="56" y1="251.16" x2="143" y2="251.16" stroke="#d9d9d9" stroke-width="1"/>
<line x1="56" y1="240.24" x2="143" y2="240.24" stroke="#d9d9d9" stroke-width="1"/>
<line x1="56" y1="229.32" x2="143" y2="229.32" stroke="#d9d9d9" stroke-width="1"/>
<line x1="56" y1="218.4" x2="143" y2="218.4" stroke="#d9d9d9" stroke-width="1"/>
<line x1="56" y1="207.48000000000002" x2="143" y2="207.48000000000002" stroke="#d9d9d9" stroke-width="1"/>
<text x="67.3" y="196.9" font-size="10.8" textLength="80.2" lengthAdjust="spacingAndGlyphs">ATRA (1µmol/L)</text>
<text x="52.4" y="222.29999999999998" font-size="10.8" text-anchor="end">1.0</text>
<text x="52.4" y="249.79999999999998" font-size="10.8" text-anchor="end">0.5</text>
<text x="52.4" y="276.3" font-size="10.8" text-anchor="end">0</text>
<text x="70.5" y="283.9" font-size="10.8" text-anchor="middle">3</text>
<text x="90.8" y="283.9" font-size="10.8" text-anchor="middle">6</text>
<text x="111.0" y="283.9" font-size="10.8" text-anchor="middle">9</text>
<text x="132.0" y="283.9" font-size="10.8" text-anchor="middle">13</text>
<text x="145.4" y="283.9" font-size="10.8">(days)</text>
<path d="M65.5 218.5 L88.7 218.7 L110.3 217.5 L131.8 217.1" fill="none" stroke="#3a75bc" stroke-width="2.8" stroke-linejoin="round" stroke-linecap="round"/>
<path d="M65.5 218.5 L88.7 221.0 L110.5 236.8 L132.0 251.0" fill="none" stroke="#c14844" stroke-width="2.8" stroke-linejoin="round" stroke-linecap="round"/>
<path d="M65.5 218.5 L88.7 217.6 L110.6 227.2 L132.2 249.0" fill="none" stroke="#92bb4f" stroke-width="2.8" stroke-linejoin="round" stroke-linecap="round"/>
<line x1="150.6" y1="220.7" x2="169.6" y2="220.7" stroke="#3a75bc" stroke-width="2.8"/>
<path d="M160.1 218.1 L162.7 220.7 L160.1 223.29999999999998 L157.5 220.7 Z" fill="#3a75bc" stroke="none" stroke-width="1"/>
<text x="173.8" y="224.5" font-size="10.8">Vector</text>
<line x1="150.6" y1="236.0" x2="169.6" y2="236.0" stroke="#c14844" stroke-width="2.8"/>
<path d="M160.1 233.4 L162.7 236.0 L160.1 238.6 L157.5 236.0 Z" fill="#c14844" stroke="none" stroke-width="1"/>
<text x="173.8" y="239.8" font-size="10.8">PML-RARA</text>
<line x1="150.6" y1="252.0" x2="169.6" y2="252.0" stroke="#92bb4f" stroke-width="2.8"/>
<path d="M160.1 249.4 L162.7 252.0 L160.1 254.6 L157.5 252.0 Z" fill="#92bb4f" stroke="none" stroke-width="1"/>
<text x="173.8" y="255.8" font-size="10.8" textLength="80.7" lengthAdjust="spacingAndGlyphs">TBL1XR1-RARB</text>
<line x1="56" y1="377.3" x2="143" y2="377.3" stroke="#d9d9d9" stroke-width="1"/>
<line x1="56" y1="366.35" x2="143" y2="366.35" stroke="#d9d9d9" stroke-width="1"/>
<line x1="56" y1="355.40000000000003" x2="143" y2="355.40000000000003" stroke="#d9d9d9" stroke-width="1"/>
<line x1="56" y1="344.45000000000005" x2="143" y2="344.45000000000005" stroke="#d9d9d9" stroke-width="1"/>
<line x1="56" y1="333.5" x2="143" y2="333.5" stroke="#d9d9d9" stroke-width="1"/>
<line x1="56" y1="322.55" x2="143" y2="322.55" stroke="#d9d9d9" stroke-width="1"/>
<line x1="56" y1="311.6" x2="143" y2="311.6" stroke="#d9d9d9" stroke-width="1"/>
<text x="54.3" y="302.3" font-size="10.8" textLength="115.9" lengthAdjust="spacingAndGlyphs">Tamibarotene (1µmol/L)</text>
<text x="52.4" y="326.59999999999997" font-size="10.8" text-anchor="end">1.0</text>
<text x="52.4" y="354.5" font-size="10.8" text-anchor="end">0.5</text>
<text x="52.4" y="381.7" font-size="10.8" text-anchor="end">0</text>
<text x="70.0" y="388.8" font-size="10.8" text-anchor="middle">3</text>
<text x="90.1" y="388.8" font-size="10.8" text-anchor="middle">6</text>
<text x="110.4" y="388.8" font-size="10.8" text-anchor="middle">9</text>
<text x="131.8" y="388.8" font-size="10.8" text-anchor="middle">13</text>
<text x="140.5" y="388.8" font-size="10.8">(days)</text>
<path d="M65.0 322.6 L88.5 322.6 L111.0 322.7 L132.5 323.0" fill="none" stroke="#3a75bc" stroke-width="2.8" stroke-linejoin="round" stroke-linecap="round"/>
<path d="M65.0 322.6 L88.5 335.8 L111.0 355.6 L132.5 365.3" fill="none" stroke="#c14844" stroke-width="2.8" stroke-linejoin="round" stroke-linecap="round"/>
<path d="M65.0 322.6 L88.5 313.8 L111.0 328.8 L132.5 344.5" fill="none" stroke="#92bb4f" stroke-width="2.8" stroke-linejoin="round" stroke-linecap="round"/>
<line x1="150.6" y1="330.3" x2="169.6" y2="330.3" stroke="#3a75bc" stroke-width="2.8"/>
<path d="M160.1 327.7 L162.7 330.3 L160.1 332.90000000000003 L157.5 330.3 Z" fill="#3a75bc" stroke="none" stroke-width="1"/>
<text x="173.8" y="334.1" font-size="10.8">Vector</text>
<line x1="150.6" y1="345.1" x2="169.6" y2="345.1" stroke="#c14844" stroke-width="2.8"/>
<path d="M160.1 342.5 L162.7 345.1 L160.1 347.70000000000005 L157.5 345.1 Z" fill="#c14844" stroke="none" stroke-width="1"/>
<text x="173.8" y="348.90000000000003" font-size="10.8">PML-RARA</text>
<line x1="150.6" y1="360.3" x2="169.6" y2="360.3" stroke="#92bb4f" stroke-width="2.8"/>
<path d="M160.1 357.7 L162.7 360.3 L160.1 362.90000000000003 L157.5 360.3 Z" fill="#92bb4f" stroke="none" stroke-width="1"/>
<text x="173.8" y="364.1" font-size="10.8" textLength="80.7" lengthAdjust="spacingAndGlyphs">TBL1XR1-RARB</text>
<text transform="translate(13.3,246.0) rotate(-90)" x="0" y="0" font-size="11.0" text-anchor="middle" textLength="78.5" lengthAdjust="spacingAndGlyphs">Changes of GFP</text>
<text transform="translate(28.4,243.7) rotate(-90)" x="0" y="0" font-size="11.0" text-anchor="middle">frequency</text>
<text transform="translate(13.3,344.0) rotate(-90)" x="0" y="0" font-size="11.0" text-anchor="middle" textLength="78.5" lengthAdjust="spacingAndGlyphs">Changes of GFP</text>
<text transform="translate(28.4,341.7) rotate(-90)" x="0" y="0" font-size="11.0" text-anchor="middle">frequency</text>
<text x="281.6" y="179.0" font-size="16" font-weight="bold">D</text>
<text x="369.0" y="176.4" font-size="10.8" text-anchor="middle">Vector</text>
<text x="428.6" y="176.6" font-size="10.8" text-anchor="middle" textLength="54.9" lengthAdjust="spacingAndGlyphs">PML-RARA</text>
<text x="482.5" y="171.4" font-size="10.0" text-anchor="middle" textLength="49.6" lengthAdjust="spacingAndGlyphs">TBL1XR1-</text>
<text x="482.6" y="180.4" font-size="10.0" text-anchor="middle" textLength="27.7" lengthAdjust="spacingAndGlyphs">RARB</text>
<text x="342.2" y="212.3" font-size="10.8" text-anchor="end">Control</text>
<text x="341.2" y="255.1" font-size="10.8" text-anchor="end" textLength="29.2" lengthAdjust="spacingAndGlyphs">ATRA</text>
<text x="344.3" y="269.6" font-size="10.8" text-anchor="end" textLength="47.6" lengthAdjust="spacingAndGlyphs">(1µmol/L)</text>
<text x="342.1" y="317.1" font-size="10.8" text-anchor="end">Control</text>
<text x="342.6" y="362.2" font-size="10.8" text-anchor="end" textLength="65.7" lengthAdjust="spacingAndGlyphs">Tamibarotene</text>
<text x="342.3" y="375.6" font-size="10.8" text-anchor="end" textLength="46.9" lengthAdjust="spacingAndGlyphs">(1µmol/L)</text>
<path d="M361.4 196.1 361.9 196.1 362.9 196.3 363.7 196.6 364.4 197.0 364.9 197.4 365.4 197.9 365.9 198.5 366.3 199.1 366.6 199.6 366.9 200.3 367.2 201.1 367.4 201.8 367.7 202.6 367.9 203.5 368.2 204.1 368.5 204.6 369.4 204.7 369.9 204.4 370.4 204.0 370.9 203.6 371.6 203.1 372.4 202.6 372.9 202.3 373.4 202.1 374.4 201.7 374.9 201.6 375.9 201.3 376.9 201.3 377.9 201.3 378.9 201.3 379.9 201.6 380.4 201.7 381.4 202.1 381.9 202.3 382.4 202.6 383.1 203.1 383.8 203.6 384.3 204.1 384.7 204.6 385.1 205.1 385.4 205.6 385.9 206.6 386.1 207.1 386.4 208.1 386.4 208.6 386.5 209.6 386.4 210.6 386.3 211.1 386.0 212.1 385.8 212.6 385.4 213.4 385.0 214.1 384.6 214.6 384.1 215.1 383.5 215.6 382.9 216.1 382.4 216.4 381.9 216.7 381.0 217.1 380.4 217.4 379.9 217.6 379.2 218.1 378.4 218.6 377.9 219.0 377.4 219.4 376.9 219.6 375.9 220.1 375.4 220.3 374.4 220.6 373.9 220.7 372.9 221.0 372.4 221.1 371.4 221.4 370.4 221.6 369.9 221.8 368.9 222.0 368.4 222.1 367.4 222.4 366.6 222.6 365.9 222.8 364.9 223.0 364.4 223.2 363.4 223.4 362.4 223.5 361.4 223.5 360.4 223.5 359.4 223.5 358.4 223.5 357.4 223.4 356.5 223.1 355.9 222.9 355.4 222.5 354.9 222.1 354.4 221.5 353.9 220.6 353.7 220.1 353.6 219.1 353.6 218.1 353.9 217.1 354.1 216.6 354.4 216.0 354.9 215.2 355.2 214.6 355.3 213.6 355.1 212.6 354.9 211.6 354.8 211.1 354.7 210.1 354.7 209.1 354.7 208.1 354.7 207.1 354.8 206.1 354.9 205.3 355.0 204.6 355.1 203.6 355.3 202.6 355.4 202.1 355.7 201.1 355.9 200.4 356.3 199.6 356.5 199.1 356.9 198.6 357.4 197.9 357.9 197.5 358.4 197.1 359.2 196.6 359.9 196.3 360.9 196.1 361.4 196.1 Z" fill="#000" fill-opacity="0.035" stroke="#111" stroke-width="1.3"/><path d="M359.9 196.9 360.9 196.7 361.9 196.7 362.9 196.9 363.4 197.1 364.3 197.6 364.9 198.1 365.3 198.6 365.7 199.1 366.0 199.6 366.4 200.4 366.7 201.1 366.9 202.0 367.1 202.6 367.3 203.6 367.4 204.3 367.6 205.1 367.9 206.1 368.1 206.6 368.9 206.9 369.4 206.3 369.9 205.7 370.4 205.2 370.9 204.6 371.4 204.2 371.9 203.8 372.4 203.4 372.9 203.1 373.9 202.6 374.4 202.4 375.4 202.1 375.9 202.0 376.9 201.9 377.9 201.9 378.9 202.0 379.4 202.1 380.4 202.4 380.9 202.6 381.9 203.1 382.4 203.4 382.9 203.8 383.4 204.2 383.9 204.7 384.4 205.4 384.9 206.1 385.1 206.6 385.4 207.3 385.6 208.1 385.8 209.1 385.7 210.1 385.6 211.1 385.4 211.7 385.0 212.6 384.8 213.1 384.4 213.6 383.9 214.3 383.4 214.8 382.9 215.2 382.4 215.6 381.5 216.1 380.9 216.4 380.4 216.7 379.6 217.1 378.9 217.6 378.4 218.0 377.9 218.5 377.4 218.9 376.9 219.2 376.2 219.6 375.4 220.0 374.9 220.1 373.9 220.4 373.1 220.6 372.4 220.8 371.4 221.0 370.9 221.2 369.9 221.4 369.2 221.6 368.4 221.8 367.4 222.1 366.9 222.2 365.9 222.5 365.4 222.6 364.4 222.9 363.4 223.0 362.9 223.1 361.9 223.2 360.9 223.2 359.9 223.2 358.9 223.2 357.9 223.1 357.4 223.1 356.4 222.7 355.9 222.5 355.4 222.1 354.9 221.6 354.4 220.8 354.1 220.1 353.9 219.1 354.0 218.1 354.2 217.1 354.5 216.6 354.9 215.9 355.4 215.2 355.7 214.6 355.9 213.6 355.6 212.6 355.4 211.6 355.3 211.1 355.2 210.1 355.2 209.1 355.2 208.1 355.2 207.1 355.3 206.1 355.4 205.1 355.5 204.6 355.6 203.6 355.8 202.6 355.9 202.1 356.2 201.1 356.4 200.5 356.8 199.6 357.2 199.1 357.5 198.6 358.0 198.1 358.6 197.6 359.4 197.1 359.9 196.9 Z M367.9 211.2 367.4 211.8 367.0 212.6 366.7 213.1 366.4 213.6 366.0 214.6 366.8 215.1 367.0 215.1 367.9 214.9 368.7 214.6 369.4 214.1 369.6 213.6 369.4 212.6 369.1 212.1 368.8 211.6 367.9 211.2 Z" fill="#000" fill-opacity="0.035" stroke="#444" stroke-width="0.5"/><path d="M359.9 197.6 360.9 197.3 361.9 197.3 362.9 197.5 363.4 197.8 363.9 198.1 364.5 198.6 365.0 199.1 365.4 199.7 365.9 200.6 366.1 201.1 366.4 202.1 366.5 202.6 366.7 203.6 366.8 204.6 366.9 205.5 367.0 206.1 367.1 207.1 367.1 208.1 367.1 209.1 367.0 210.1 366.8 210.6 366.5 211.6 366.3 212.1 365.9 213.0 365.5 213.6 365.2 214.1 364.9 214.6 364.7 215.6 365.4 215.8 366.4 215.8 367.4 215.6 367.9 215.4 368.9 215.1 369.4 214.9 369.9 214.6 370.5 214.1 370.6 213.1 370.4 212.4 370.1 211.6 369.9 211.1 369.7 210.1 369.6 209.1 369.8 208.1 370.0 207.6 370.4 206.7 370.8 206.1 371.1 205.6 371.6 205.1 372.1 204.6 372.8 204.1 373.4 203.7 373.9 203.4 374.7 203.1 375.4 202.9 376.4 202.7 377.4 202.7 378.4 202.7 379.4 202.9 380.1 203.1 380.9 203.4 381.4 203.7 382.0 204.1 382.7 204.6 383.2 205.1 383.6 205.6 384.0 206.1 384.4 206.9 384.7 207.6 384.9 208.6 384.9 209.1 384.9 210.1 384.9 210.6 384.6 211.6 384.4 212.1 383.9 213.0 383.4 213.6 383.0 214.1 382.4 214.6 381.9 215.0 381.4 215.3 380.9 215.6 379.9 216.1 379.4 216.4 378.9 216.8 378.4 217.3 377.9 217.8 377.4 218.3 376.9 218.7 376.3 219.1 375.4 219.6 374.9 219.8 373.9 220.1 373.4 220.2 372.4 220.5 371.7 220.6 370.9 220.8 369.9 221.1 369.4 221.2 368.4 221.5 367.9 221.6 366.9 221.9 366.0 222.1 365.4 222.3 364.4 222.5 363.9 222.6 362.9 222.8 361.9 222.8 360.9 222.8 359.9 222.9 358.9 222.9 357.9 222.8 357.0 222.6 356.4 222.4 355.9 222.0 355.4 221.6 354.9 221.0 354.5 220.1 354.3 219.6 354.3 218.6 354.4 217.8 354.6 217.1 354.9 216.6 355.4 215.9 355.9 215.2 356.3 214.6 356.5 214.1 356.4 213.1 356.2 212.6 356.0 211.6 355.9 211.1 355.7 210.1 355.7 209.1 355.7 208.1 355.7 207.1 355.8 206.1 355.9 205.3 356.0 204.6 356.1 203.6 356.3 202.6 356.4 202.1 356.8 201.1 357.0 200.6 357.4 199.8 357.9 199.1 358.3 198.6 358.9 198.1 359.4 197.8 359.9 197.6 Z" fill="#000" fill-opacity="0.035" stroke="#444" stroke-width="0.5"/><path d="M360.9 198.0 361.9 198.0 362.4 198.1 363.4 198.6 363.9 198.9 364.4 199.4 364.9 200.1 365.2 200.6 365.4 201.1 365.7 202.1 365.9 202.9 366.0 203.6 366.2 204.6 366.2 205.6 366.3 206.6 366.3 207.6 366.3 208.6 366.2 209.6 366.0 210.6 365.9 211.1 365.5 212.1 365.3 212.6 364.9 213.3 364.4 213.9 363.9 214.5 363.4 215.0 362.9 215.5 362.6 216.1 363.2 216.6 363.9 216.6 364.6 216.6 365.4 216.5 366.4 216.3 367.4 216.1 367.9 215.9 368.9 215.6 369.4 215.4 370.2 215.1 370.9 214.7 371.4 214.2 371.7 213.6 371.5 212.6 371.3 212.1 371.0 211.1 370.8 210.6 370.7 209.6 370.8 208.6 370.9 208.1 371.3 207.1 371.6 206.6 371.9 206.1 372.4 205.5 372.9 205.1 373.5 204.6 374.4 204.1 374.9 203.9 375.9 203.6 376.4 203.5 377.4 203.5 378.4 203.5 378.9 203.6 379.9 203.9 380.4 204.1 381.3 204.6 381.9 205.1 382.4 205.5 382.9 206.1 383.2 206.6 383.5 207.1 383.9 208.1 384.0 208.6 384.0 209.6 383.9 210.6 383.8 211.1 383.4 212.1 383.1 212.6 382.7 213.1 382.3 213.6 381.7 214.1 380.9 214.6 380.4 214.9 379.9 215.2 379.1 215.6 378.5 216.1 378.1 216.6 377.8 217.1 377.4 217.6 376.9 218.1 376.3 218.6 375.4 219.1 374.9 219.3 374.1 219.6 373.4 219.8 372.4 220.0 371.9 220.2 370.9 220.4 370.2 220.6 369.4 220.8 368.4 221.1 367.9 221.2 366.9 221.5 366.4 221.6 365.4 221.9 364.4 222.1 363.9 222.2 362.9 222.4 361.9 222.4 360.9 222.4 359.9 222.5 358.9 222.5 357.9 222.4 356.9 222.2 356.4 221.9 355.9 221.6 355.4 221.0 354.9 220.2 354.7 219.6 354.6 218.6 354.9 217.6 355.1 217.1 355.4 216.6 355.9 216.0 356.4 215.5 356.9 214.9 357.3 214.1 357.1 213.1 356.9 212.5 356.6 211.6 356.4 210.6 356.3 210.1 356.3 209.1 356.3 208.1 356.3 207.1 356.4 206.1 356.4 205.6 356.5 204.6 356.7 203.6 356.9 202.7 357.1 202.1 357.4 201.2 357.7 200.6 357.9 200.1 358.4 199.5 358.9 199.0 359.4 198.6 360.4 198.2 360.9 198.0 Z" fill="#000" fill-opacity="0.035" stroke="#444" stroke-width="0.5"/><path d="M360.4 199.0 361.4 198.9 362.4 199.0 362.9 199.2 363.4 199.6 363.9 200.1 364.4 200.8 364.8 201.6 365.0 202.1 365.2 203.1 365.4 204.1 365.5 204.6 365.5 205.6 365.6 206.6 365.6 207.6 365.5 208.6 365.4 209.6 365.3 210.1 365.1 211.1 364.9 211.6 364.4 212.6 364.0 213.1 363.6 213.6 363.0 214.1 362.4 214.5 361.9 214.7 361.2 215.1 360.9 215.6 361.0 216.1 361.4 216.7 361.9 217.2 362.9 217.4 363.9 217.4 364.9 217.2 365.4 217.1 366.4 216.9 367.4 216.6 367.9 216.5 368.9 216.2 369.4 216.0 370.4 215.6 370.9 215.4 371.5 215.1 372.3 214.6 372.8 214.1 373.0 213.6 372.9 212.9 372.5 212.1 372.3 211.6 371.9 210.6 371.8 210.1 371.8 209.1 371.9 208.6 372.2 207.6 372.5 207.1 372.9 206.5 373.4 206.0 373.9 205.6 374.6 205.1 375.4 204.8 376.0 204.6 376.9 204.5 377.9 204.5 378.8 204.6 379.4 204.8 380.2 205.1 380.9 205.6 381.4 206.0 381.9 206.5 382.3 207.1 382.6 207.6 382.9 208.6 383.0 209.1 382.9 210.1 382.8 210.6 382.5 211.6 382.2 212.1 381.8 212.6 381.3 213.1 380.7 213.6 379.9 214.1 379.4 214.3 378.8 214.6 378.1 215.1 377.7 215.6 377.4 216.2 377.0 217.1 376.6 217.6 376.1 218.1 375.4 218.6 374.9 218.8 374.1 219.1 373.4 219.3 372.4 219.6 371.9 219.7 370.9 220.0 370.3 220.1 369.4 220.3 368.4 220.6 367.9 220.7 366.9 221.0 366.4 221.1 365.4 221.4 364.5 221.6 363.9 221.7 362.9 221.9 361.9 221.9 360.9 221.9 359.9 222.0 358.9 222.0 357.9 222.0 356.9 221.7 356.4 221.4 355.9 221.0 355.4 220.2 355.2 219.6 355.1 218.6 355.3 217.6 355.6 217.1 356.0 216.6 356.5 216.1 357.2 215.6 357.9 215.2 358.4 214.7 358.5 214.1 358.3 213.6 357.9 212.9 357.6 212.1 357.4 211.6 357.1 210.6 357.0 209.6 356.9 208.6 356.9 207.6 357.0 206.6 357.1 205.6 357.2 204.6 357.4 203.6 357.5 203.1 357.8 202.1 358.0 201.6 358.4 200.8 358.9 200.1 359.4 199.6 359.9 199.3 360.4 199.0 Z" fill="#000" fill-opacity="0.035" stroke="#444" stroke-width="0.5"/><path d="M360.9 200.0 361.9 200.0 362.4 200.2 363.1 200.6 363.5 201.1 363.9 201.7 364.3 202.6 364.4 203.1 364.6 204.1 364.7 205.1 364.8 206.1 364.8 207.1 364.7 208.1 364.7 209.1 364.5 210.1 364.3 210.6 363.9 211.6 363.6 212.1 363.2 212.6 362.6 213.1 361.9 213.5 361.4 213.6 360.4 213.6 359.9 213.4 359.4 213.1 358.9 212.6 358.4 211.8 358.1 211.1 357.9 210.3 357.8 209.6 357.7 208.6 357.7 207.6 357.7 206.6 357.8 205.6 357.9 205.1 358.1 204.1 358.3 203.1 358.5 202.6 358.9 201.7 359.3 201.1 359.8 200.6 360.4 200.2 360.9 200.0 Z M375.4 206.1 376.4 205.7 377.4 205.6 378.4 205.7 379.4 206.1 379.9 206.4 380.4 206.7 380.9 207.3 381.4 208.1 381.6 208.6 381.7 209.6 381.5 210.6 381.3 211.1 380.9 211.7 380.4 212.3 379.9 212.6 379.1 213.1 378.4 213.4 377.5 213.6 376.9 213.8 375.9 214.1 375.4 213.6 374.9 213.1 374.4 212.5 373.9 211.8 373.5 211.1 373.3 210.6 373.1 209.6 373.2 208.6 373.4 208.1 373.9 207.3 374.4 206.7 374.9 206.4 375.4 206.1 Z M374.9 214.4 375.9 214.2 376.2 215.1 376.3 216.1 376.0 217.1 375.6 217.6 375.0 218.1 374.4 218.4 373.8 218.6 372.9 218.9 371.9 219.1 371.4 219.2 370.4 219.5 369.9 219.6 368.9 219.9 368.0 220.1 367.4 220.2 366.4 220.5 365.9 220.6 364.9 220.9 364.0 221.1 363.4 221.2 362.4 221.3 361.4 221.3 360.4 221.4 359.4 221.5 358.4 221.5 357.4 221.4 356.9 221.1 356.2 220.6 355.9 220.1 355.6 219.1 355.7 218.1 355.9 217.6 356.4 216.9 356.9 216.5 357.7 216.1 358.4 215.9 359.4 216.1 359.9 216.4 360.4 216.9 360.9 217.4 361.4 217.8 361.9 218.1 362.9 218.2 363.9 218.1 364.4 218.0 365.4 217.8 366.1 217.6 366.9 217.4 367.9 217.1 368.4 217.0 369.4 216.7 369.9 216.5 370.9 216.2 371.4 216.0 372.2 215.6 372.9 215.3 373.4 215.1 374.4 214.6 374.9 214.4 Z" fill="#000" fill-opacity="0.035" stroke="#444" stroke-width="0.5"/><path d="M360.9 201.6 361.9 201.6 362.4 201.9 362.9 202.5 363.2 203.1 363.4 203.6 363.6 204.6 363.7 205.6 363.8 206.6 363.8 207.6 363.7 208.6 363.5 209.6 363.3 210.1 362.9 211.0 362.4 211.6 361.9 212.0 361.4 212.1 360.7 212.1 359.9 211.7 359.4 211.1 359.1 210.6 358.9 209.9 358.8 209.1 358.7 208.1 358.7 207.1 358.8 206.1 358.9 205.3 359.0 204.6 359.3 203.6 359.5 203.1 359.9 202.4 360.4 201.8 360.9 201.6 Z M376.9 207.5 377.9 207.5 378.4 207.6 379.1 208.1 379.5 208.6 379.7 209.6 379.4 210.5 378.9 211.1 378.4 211.4 377.6 211.6 377.2 211.6 376.4 211.4 375.9 211.1 375.4 210.6 375.1 209.6 375.3 208.6 375.7 208.1 376.4 207.6 376.9 207.5 Z M372.9 216.5 373.9 216.4 374.4 216.6 374.3 217.1 373.6 217.6 372.9 217.8 371.9 218.0 371.4 218.1 370.4 218.2 369.4 218.2 369.4 218.1 370.4 217.6 370.9 217.4 371.5 217.1 372.4 216.8 372.9 216.5 Z M357.4 217.0 358.4 216.8 359.4 217.1 359.9 217.5 360.4 218.1 360.8 218.6 361.2 219.1 361.6 219.6 361.2 220.1 360.4 220.5 359.9 220.7 358.9 220.9 357.9 220.8 357.3 220.6 356.7 220.1 356.4 219.6 356.2 218.6 356.4 218.0 356.9 217.3 357.4 217.0 Z" fill="#000" fill-opacity="0.035" stroke="#444" stroke-width="0.5"/><path d="M361.4 205.5 361.7 206.1 361.9 207.1 361.7 208.1 361.4 208.7 360.8 208.6 360.6 207.6 360.7 206.6 360.9 205.8 361.4 205.5 Z M357.9 217.9 358.9 218.1 359.4 218.6 359.5 219.1 359.2 219.6 358.4 219.9 357.5 219.6 357.2 219.1 357.4 218.3 357.9 217.9 Z" fill="#000" fill-opacity="0.035" stroke="#444" stroke-width="0.5"/><ellipse cx="377.4" cy="209.5" rx="6.0" ry="5.2" fill="none" stroke="#222" stroke-width="1.3" stroke-opacity="0.55"/><ellipse cx="358.1" cy="218.9" rx="3.3" ry="3.2" fill="none" stroke="#111" stroke-width="1.6" stroke-opacity="1.0"/><circle cx="358.40000000000003" cy="218.9" r="0.9" fill="#fff"/>
<path d="M418.9 211.1 419.9 210.8 420.9 210.7 421.9 210.7 422.9 211.0 423.4 211.3 423.9 211.7 424.4 212.2 424.9 212.8 425.4 213.3 425.9 213.6 426.9 214.1 427.4 214.2 428.4 214.6 428.9 214.8 429.6 215.1 430.4 215.6 430.9 215.9 431.4 216.5 431.8 217.1 432.0 217.6 432.1 218.6 431.9 219.6 431.7 220.1 431.4 220.6 430.9 221.1 430.2 221.6 429.4 222.0 428.9 222.2 427.9 222.4 426.9 222.6 426.4 222.7 425.4 222.8 424.4 223.0 423.4 223.1 422.9 223.1 421.9 223.2 420.9 223.3 419.9 223.3 418.9 223.3 417.9 223.4 416.9 223.6 416.4 223.7 415.4 223.8 414.4 223.8 413.4 223.7 412.8 223.6 411.9 223.3 411.4 223.0 410.8 222.6 410.2 222.1 409.8 221.6 409.4 221.0 409.0 220.1 408.9 219.6 408.8 218.6 408.9 217.6 409.0 217.1 409.4 216.2 409.8 215.6 410.2 215.1 410.7 214.6 411.3 214.1 411.9 213.8 412.4 213.5 413.4 213.1 413.9 213.0 414.9 212.7 415.7 212.6 416.4 212.4 417.1 212.1 417.9 211.6 418.4 211.3 418.9 211.1 Z" fill="#000" fill-opacity="0.06" stroke="#333" stroke-width="0.75"/><path d="M419.4 213.1 420.4 212.8 421.4 212.9 422.1 213.1 422.9 213.4 423.4 213.7 424.4 214.1 424.9 214.2 425.9 214.5 426.4 214.6 427.4 214.8 428.3 215.1 428.9 215.3 429.6 215.6 430.3 216.1 430.9 216.6 431.2 217.1 431.5 217.6 431.6 218.6 431.4 219.6 431.1 220.1 430.7 220.6 430.1 221.1 429.4 221.5 428.9 221.7 427.9 222.0 427.4 222.1 426.4 222.3 425.4 222.4 424.4 222.5 423.8 222.6 422.9 222.7 421.9 222.8 420.9 222.8 419.9 222.9 418.9 222.9 417.9 223.0 417.4 223.1 416.4 223.3 415.4 223.4 414.4 223.5 413.4 223.4 412.5 223.1 411.9 222.9 411.4 222.6 410.8 222.1 410.3 221.6 409.9 221.0 409.4 220.1 409.3 219.6 409.2 218.6 409.3 217.6 409.4 217.1 409.9 216.1 410.3 215.6 410.7 215.1 411.3 214.6 411.9 214.2 412.4 214.0 413.4 213.6 413.9 213.5 414.9 213.3 415.9 213.3 416.9 213.3 417.9 213.3 418.9 213.2 419.4 213.1 Z" fill="#000" fill-opacity="0.06" stroke="#444" stroke-width="0.5"/><path d="M413.9 214.0 414.9 213.9 415.9 213.9 416.9 214.1 417.4 214.2 418.4 214.4 419.4 214.5 420.4 214.5 421.4 214.6 421.9 214.6 422.9 214.7 423.9 214.8 424.9 215.0 425.5 215.1 426.4 215.2 427.4 215.4 428.1 215.6 428.9 215.9 429.4 216.1 430.1 216.6 430.6 217.1 430.9 217.8 431.0 218.6 430.9 219.3 430.5 220.1 430.0 220.6 429.4 221.0 428.9 221.2 427.9 221.5 427.4 221.6 426.4 221.8 425.4 222.0 424.4 222.1 423.9 222.1 422.9 222.2 421.9 222.3 420.9 222.4 419.9 222.4 418.9 222.5 417.9 222.6 417.4 222.7 416.4 222.9 415.4 223.0 414.4 223.1 413.4 223.0 412.4 222.6 411.9 222.4 411.4 222.1 410.9 221.6 410.4 221.0 409.9 220.1 409.7 219.6 409.6 218.6 409.7 217.6 409.9 217.1 410.4 216.1 410.8 215.6 411.4 215.1 411.9 214.7 412.4 214.5 413.4 214.1 413.9 214.0 Z" fill="#000" fill-opacity="0.06" stroke="#444" stroke-width="0.5"/><path d="M413.9 214.5 414.9 214.4 415.9 214.5 416.4 214.6 417.4 214.9 417.9 215.1 418.9 215.3 419.9 215.4 420.9 215.4 421.9 215.5 422.9 215.5 423.9 215.6 424.4 215.6 425.4 215.7 426.4 215.9 427.4 216.0 427.9 216.2 428.9 216.6 429.4 216.9 429.9 217.4 430.3 218.1 430.2 219.1 429.9 219.7 429.4 220.2 428.8 220.6 427.9 221.0 427.4 221.1 426.4 221.3 425.4 221.4 424.4 221.6 423.9 221.6 422.9 221.7 421.9 221.8 420.9 221.8 419.9 221.9 418.9 221.9 417.9 222.1 417.4 222.2 416.4 222.4 415.4 222.6 414.9 222.6 414.1 222.6 413.4 222.5 412.4 222.1 411.9 221.9 411.4 221.5 410.9 220.9 410.4 220.1 410.2 219.6 410.1 218.6 410.2 217.6 410.4 217.1 410.9 216.2 411.4 215.7 411.9 215.3 412.4 215.0 413.4 214.6 413.9 214.5 Z" fill="#000" fill-opacity="0.06" stroke="#444" stroke-width="0.5"/><path d="M413.9 215.0 414.9 215.0 415.7 215.1 416.4 215.3 417.3 215.6 417.9 215.8 418.7 216.1 419.4 216.2 420.4 216.3 421.4 216.3 422.4 216.3 423.4 216.3 424.4 216.4 425.4 216.5 426.3 216.6 426.9 216.7 427.9 217.0 428.4 217.2 428.9 217.6 429.3 218.6 428.9 219.6 428.4 219.9 427.9 220.2 426.9 220.5 426.4 220.6 425.4 220.8 424.4 220.9 423.4 221.0 422.5 221.1 421.9 221.1 420.9 221.2 419.9 221.2 418.9 221.3 417.9 221.4 417.3 221.6 416.4 221.9 415.4 222.1 414.9 222.1 414.1 222.1 413.4 222.0 412.4 221.6 411.9 221.2 411.4 220.7 411.0 220.1 410.8 219.6 410.6 218.6 410.8 217.6 411.0 217.1 411.4 216.4 411.9 215.9 412.4 215.6 413.4 215.2 413.9 215.0 Z" fill="#000" fill-opacity="0.06" stroke="#444" stroke-width="0.5"/><path d="M414.4 215.6 414.9 215.6 415.9 215.8 416.7 216.1 417.4 216.5 417.9 216.7 418.8 217.1 419.4 217.3 420.4 217.3 421.4 217.3 422.4 217.3 423.4 217.3 424.4 217.4 425.4 217.5 425.9 217.6 426.9 218.0 427.4 218.4 427.4 218.8 426.9 219.3 426.2 219.6 425.4 219.8 424.4 219.9 423.4 220.1 422.9 220.2 421.9 220.2 420.9 220.2 419.9 220.2 418.9 220.3 418.1 220.6 417.4 220.8 416.7 221.1 415.9 221.4 414.9 221.6 413.9 221.5 412.9 221.2 412.4 220.9 411.9 220.4 411.4 219.6 411.3 219.1 411.3 218.1 411.4 217.6 411.9 216.8 412.4 216.3 412.9 216.0 413.9 215.7 414.4 215.6 Z" fill="#000" fill-opacity="0.06" stroke="#444" stroke-width="0.5"/><path d="M413.4 216.6 414.4 216.3 415.4 216.5 415.9 216.6 416.7 217.1 417.3 217.6 417.7 218.1 417.8 219.1 417.4 219.6 416.8 220.1 415.9 220.6 415.4 220.7 414.4 220.8 413.4 220.6 412.9 220.3 412.4 219.8 412.1 219.1 412.1 218.1 412.4 217.4 412.9 216.9 413.4 216.6 Z" fill="#000" fill-opacity="0.06" stroke="#444" stroke-width="0.5"/><path d="M413.9 217.6 414.9 217.5 415.4 217.7 415.9 218.4 415.9 218.9 415.4 219.5 414.9 219.7 413.9 219.6 413.4 219.2 413.2 218.6 413.4 218.0 413.9 217.6 Z" fill="#000" fill-opacity="0.06" stroke="#444" stroke-width="0.5"/><path d="M425.5 213.5 C424.5 210.5 426.5 209 428.5 210.5 C430 212 429 214 427.5 214.5" fill="none" stroke="#555" stroke-width="0.5"/><ellipse cx="414.3" cy="218.8" rx="3.0" ry="2.7" fill="none" stroke="#111" stroke-width="2.0" stroke-opacity="0.65"/>
<path d="M469.4 216.0 470.4 215.8 471.4 215.8 472.4 215.9 473.4 216.0 474.2 216.1 474.9 216.2 475.9 216.2 476.9 216.2 477.9 216.2 478.9 216.2 479.9 216.2 480.9 216.3 481.9 216.3 482.9 216.3 483.9 216.3 484.9 216.4 485.8 216.6 486.4 216.8 487.0 217.1 487.7 217.6 488.0 218.1 488.4 219.1 488.3 220.1 487.9 220.8 487.4 221.3 486.9 221.7 485.9 222.1 485.4 222.2 484.4 222.4 483.4 222.5 482.6 222.6 481.9 222.7 480.9 222.8 479.9 222.8 478.9 222.9 477.9 223.0 476.9 223.1 476.4 223.1 475.4 223.2 474.4 223.4 473.4 223.5 472.9 223.6 471.9 223.8 470.9 223.8 469.9 223.7 469.4 223.6 468.4 223.3 467.9 223.0 467.3 222.6 466.8 222.1 466.4 221.6 466.0 220.6 465.9 219.6 466.1 218.6 466.4 218.0 466.9 217.4 467.4 216.9 467.9 216.6 468.9 216.1 469.4 216.0 Z" fill="#000" fill-opacity="0.06" stroke="#333" stroke-width="0.75"/><path d="M470.9 216.1 471.4 216.1 472.4 216.2 473.4 216.3 474.4 216.5 475.4 216.6 475.9 216.6 476.9 216.6 477.9 216.6 478.9 216.7 479.9 216.7 480.9 216.7 481.9 216.7 482.9 216.7 483.9 216.8 484.9 216.9 485.9 217.1 486.4 217.3 486.9 217.6 487.4 218.1 487.8 219.1 487.7 220.1 487.4 220.6 486.9 221.1 486.0 221.6 485.4 221.8 484.4 222.0 483.5 222.1 482.9 222.2 481.9 222.3 480.9 222.3 479.9 222.4 478.9 222.5 477.9 222.6 477.4 222.6 476.4 222.7 475.4 222.8 474.4 223.0 473.8 223.1 472.9 223.3 471.9 223.5 470.9 223.5 469.9 223.4 468.9 223.2 468.4 223.0 467.8 222.6 467.2 222.1 466.8 221.6 466.4 220.8 466.2 220.1 466.3 219.1 466.5 218.6 466.9 217.8 467.4 217.3 467.9 216.9 468.5 216.6 469.4 216.3 470.4 216.1 470.9 216.1 Z" fill="#000" fill-opacity="0.06" stroke="#444" stroke-width="0.5"/><path d="M469.4 216.6 470.4 216.4 471.4 216.4 472.4 216.5 472.9 216.6 473.9 216.8 474.9 217.0 475.9 217.1 476.9 217.1 477.4 217.1 478.4 217.1 479.4 217.1 480.4 217.2 481.4 217.2 482.4 217.2 483.4 217.2 484.4 217.3 485.4 217.5 485.9 217.7 486.5 218.1 487.0 218.6 487.1 219.6 486.9 220.2 486.4 220.7 485.8 221.1 484.9 221.4 483.9 221.6 483.4 221.6 482.4 221.7 481.4 221.8 480.4 221.9 479.4 222.0 478.4 222.1 477.9 222.1 476.9 222.2 475.9 222.3 474.9 222.5 474.2 222.6 473.4 222.8 472.4 223.0 471.9 223.1 470.9 223.2 469.9 223.1 469.4 223.0 468.4 222.6 467.9 222.3 467.4 221.9 466.9 221.1 466.7 220.6 466.6 219.6 466.8 218.6 467.1 218.1 467.5 217.6 468.2 217.1 468.9 216.7 469.4 216.6 Z" fill="#000" fill-opacity="0.06" stroke="#444" stroke-width="0.5"/><path d="M469.4 216.9 470.4 216.7 471.4 216.7 472.4 216.9 473.3 217.1 473.9 217.3 474.9 217.5 475.7 217.6 476.4 217.7 477.4 217.7 478.4 217.7 479.4 217.7 480.4 217.8 481.4 217.8 482.4 217.8 483.4 217.9 484.4 218.0 484.9 218.1 485.8 218.6 486.1 219.1 485.9 220.0 485.4 220.4 484.9 220.7 483.9 220.9 482.9 221.1 482.4 221.1 481.4 221.2 480.4 221.3 479.4 221.4 478.4 221.5 477.4 221.6 476.9 221.6 475.9 221.7 474.9 221.9 474.3 222.1 473.4 222.4 472.7 222.6 471.9 222.8 470.9 222.9 469.9 222.8 469.2 222.6 468.4 222.2 467.9 221.9 467.4 221.3 467.1 220.6 466.9 219.6 467.2 218.6 467.6 218.1 468.1 217.6 468.9 217.1 469.4 216.9 Z" fill="#000" fill-opacity="0.06" stroke="#444" stroke-width="0.5"/><path d="M470.9 217.1 471.4 217.1 472.4 217.3 473.3 217.6 473.9 217.8 474.7 218.1 475.4 218.3 476.4 218.5 477.4 218.6 478.2 218.6 478.9 218.6 479.9 218.7 480.9 218.8 481.9 218.9 482.9 219.0 483.4 219.4 483.4 219.6 482.4 220.0 481.9 220.1 480.9 220.2 479.9 220.4 478.9 220.5 478.1 220.6 477.4 220.7 476.4 220.8 475.4 221.1 474.9 221.3 474.1 221.6 473.4 221.9 472.9 222.1 471.9 222.4 470.9 222.5 469.9 222.4 468.9 222.1 468.4 221.8 467.9 221.3 467.5 220.6 467.4 220.1 467.4 219.5 467.7 218.6 468.1 218.1 468.8 217.6 469.4 217.3 470.4 217.1 470.9 217.1 Z" fill="#000" fill-opacity="0.06" stroke="#444" stroke-width="0.5"/><path d="M470.4 217.5 471.4 217.5 471.9 217.6 472.9 218.0 473.4 218.3 473.9 218.6 474.5 219.1 474.7 220.1 474.3 220.6 473.6 221.1 472.9 221.5 472.4 221.8 471.4 222.0 470.4 222.1 469.4 221.8 468.9 221.6 468.4 221.1 467.9 220.1 467.9 219.6 468.0 219.1 468.4 218.5 468.9 218.0 469.9 217.6 470.4 217.5 Z" fill="#000" fill-opacity="0.06" stroke="#444" stroke-width="0.5"/><path d="M470.4 218.0 471.4 218.1 471.9 218.2 472.6 218.6 473.1 219.1 473.3 220.1 472.9 220.7 472.4 221.1 471.4 221.5 470.4 221.6 469.4 221.2 468.9 220.8 468.5 220.1 468.7 219.1 469.1 218.6 469.9 218.1 470.4 218.0 Z" fill="#000" fill-opacity="0.06" stroke="#444" stroke-width="0.5"/><path d="M469.9 219.0 470.9 218.8 471.7 219.1 472.1 219.6 471.9 220.3 471.4 220.7 470.4 220.8 469.8 220.6 469.4 219.7 469.4 219.6 469.9 219.0 Z" fill="#000" fill-opacity="0.06" stroke="#444" stroke-width="0.5"/><ellipse cx="470.6" cy="219.8" rx="2.6" ry="1.9" fill="none" stroke="#111" stroke-width="1.5" stroke-opacity="0.95"/>
<path d="M377.4 253.6 378.4 253.5 379.4 253.5 379.9 253.6 380.9 253.8 381.9 254.1 382.4 254.3 383.1 254.6 383.9 255.1 384.4 255.5 384.9 255.9 385.4 256.4 385.9 257.0 386.4 257.6 386.7 258.1 386.9 258.7 387.2 259.6 387.4 260.4 387.5 261.1 387.5 262.1 387.4 262.6 387.2 263.6 386.9 264.3 386.5 265.1 386.2 265.6 385.9 266.1 385.4 266.6 384.9 267.1 384.3 267.6 383.6 268.1 382.9 268.5 382.4 268.7 381.4 269.1 380.9 269.2 379.9 269.4 378.9 269.5 377.9 269.5 376.9 269.4 375.9 269.2 375.4 269.0 374.4 268.6 373.9 268.4 373.4 268.1 372.7 267.6 372.1 267.1 371.6 266.6 371.1 266.1 370.8 265.6 370.4 265.0 370.0 264.1 369.8 263.6 369.6 262.6 369.5 261.6 369.6 260.6 369.8 259.6 369.9 259.1 370.4 258.1 370.6 257.6 371.0 257.1 371.4 256.6 371.9 256.1 372.4 255.6 373.1 255.1 373.9 254.6 374.4 254.4 375.1 254.1 375.9 253.8 376.9 253.6 377.4 253.6 Z M356.4 265.0 357.4 264.9 358.4 265.1 358.9 265.2 359.7 265.6 360.4 266.1 360.9 266.6 361.2 267.1 361.5 267.6 361.8 268.6 361.8 269.6 361.6 270.6 361.4 271.2 360.9 272.0 360.4 272.5 359.9 272.9 359.4 273.2 358.4 273.5 357.9 273.6 356.9 273.7 356.4 273.6 355.4 273.3 354.9 273.0 354.3 272.6 353.8 272.1 353.4 271.5 353.0 270.6 352.8 270.1 352.8 269.1 352.9 268.3 353.1 267.6 353.4 267.1 353.9 266.4 354.4 265.9 354.9 265.6 355.9 265.1 356.4 265.0 Z" fill="#000" fill-opacity="0.05" stroke="#333" stroke-width="0.75"/><path d="M377.9 254.1 378.9 254.1 379.4 254.1 380.4 254.3 381.4 254.5 381.9 254.7 382.7 255.1 383.4 255.5 383.9 255.8 384.4 256.2 384.9 256.7 385.4 257.3 385.9 258.1 386.2 258.6 386.4 259.1 386.7 260.1 386.8 261.1 386.8 262.1 386.7 263.1 386.4 263.9 386.1 264.6 385.8 265.1 385.4 265.7 384.9 266.3 384.4 266.8 383.9 267.2 383.3 267.6 382.4 268.1 381.9 268.3 381.0 268.6 380.4 268.7 379.4 268.9 378.4 268.9 377.4 268.9 376.4 268.7 375.9 268.6 374.9 268.2 374.4 268.0 373.7 267.6 373.0 267.1 372.4 266.6 371.9 266.1 371.5 265.6 371.2 265.1 370.9 264.6 370.5 263.6 370.3 263.1 370.2 262.1 370.2 261.1 370.3 260.1 370.4 259.6 370.8 258.6 371.1 258.1 371.4 257.6 371.9 256.9 372.4 256.4 372.9 256.0 373.4 255.6 374.3 255.1 374.9 254.8 375.4 254.6 376.4 254.3 377.4 254.1 377.9 254.1 Z M355.9 265.9 356.9 265.7 357.9 265.7 358.9 266.0 359.4 266.3 359.9 266.7 360.4 267.2 360.9 268.1 361.0 268.6 361.1 269.6 360.9 270.4 360.6 271.1 360.2 271.6 359.7 272.1 358.9 272.6 358.4 272.8 357.4 272.9 356.4 272.8 355.7 272.6 354.9 272.1 354.4 271.6 354.0 271.1 353.8 270.6 353.5 269.6 353.6 268.6 353.9 267.7 354.3 267.1 354.8 266.6 355.4 266.1 355.9 265.9 Z" fill="#000" fill-opacity="0.05" stroke="#444" stroke-width="0.5"/><path d="M375.9 255.1 376.9 254.8 377.9 254.7 378.9 254.7 379.9 254.8 380.9 255.0 381.4 255.2 382.3 255.6 382.9 255.9 383.4 256.3 383.9 256.7 384.4 257.2 384.9 257.8 385.4 258.6 385.7 259.1 385.9 259.8 386.1 260.6 386.2 261.6 386.1 262.6 385.9 263.2 385.6 264.1 385.3 264.6 384.9 265.2 384.4 265.8 383.9 266.3 383.4 266.7 382.8 267.1 381.9 267.6 381.4 267.8 380.4 268.1 379.9 268.2 378.9 268.3 377.9 268.3 376.9 268.2 376.4 268.0 375.4 267.7 374.9 267.5 374.2 267.1 373.4 266.6 372.9 266.1 372.4 265.6 372.0 265.1 371.7 264.6 371.4 264.0 371.1 263.1 370.9 262.2 370.8 261.6 370.9 260.8 371.0 260.1 371.3 259.1 371.6 258.6 371.9 258.1 372.4 257.4 372.9 256.9 373.4 256.4 373.9 256.1 374.7 255.6 375.4 255.3 375.9 255.1 Z M357.4 266.6 357.9 266.6 358.9 267.1 359.4 267.5 359.8 268.1 360.0 268.6 360.1 269.6 359.9 270.3 359.4 271.1 358.9 271.5 358.4 271.8 357.4 272.0 356.4 271.9 355.8 271.6 355.2 271.1 354.8 270.6 354.5 269.6 354.6 268.6 354.9 267.9 355.4 267.3 355.9 266.9 356.9 266.6 357.4 266.6 Z" fill="#000" fill-opacity="0.05" stroke="#444" stroke-width="0.5"/><path d="M376.9 255.5 377.9 255.4 378.9 255.4 379.9 255.5 380.4 255.6 381.4 255.9 381.9 256.2 382.6 256.6 383.3 257.1 383.8 257.6 384.2 258.1 384.6 258.6 384.9 259.3 385.2 260.1 385.4 261.1 385.3 262.1 385.1 263.1 384.9 263.7 384.4 264.6 384.1 265.1 383.6 265.6 383.0 266.1 382.4 266.5 381.9 266.8 381.3 267.1 380.4 267.4 379.4 267.6 378.9 267.6 377.9 267.6 377.4 267.5 376.4 267.3 375.7 267.1 374.9 266.7 374.4 266.4 373.9 266.1 373.4 265.6 372.9 265.1 372.4 264.3 372.0 263.6 371.9 263.1 371.6 262.1 371.6 261.1 371.8 260.1 372.0 259.6 372.4 258.7 372.8 258.1 373.2 257.6 373.7 257.1 374.4 256.6 374.9 256.3 375.4 256.0 376.4 255.7 376.9 255.5 Z M357.4 268.1 357.9 268.2 358.4 268.7 358.5 269.6 358.3 270.1 357.4 270.5 356.4 270.2 356.1 269.6 356.3 268.6 356.9 268.1 357.4 268.1 Z" fill="#000" fill-opacity="0.05" stroke="#444" stroke-width="0.5"/><path d="M376.4 256.5 377.4 256.2 378.4 256.1 379.4 256.2 380.4 256.4 380.9 256.6 381.9 257.1 382.4 257.4 382.9 257.9 383.4 258.4 383.9 259.1 384.1 259.6 384.4 260.5 384.5 261.1 384.5 262.1 384.4 262.6 384.0 263.6 383.8 264.1 383.4 264.6 382.9 265.1 382.4 265.6 381.6 266.1 380.9 266.4 380.3 266.6 379.4 266.8 378.4 266.9 377.4 266.8 376.7 266.6 375.9 266.3 375.4 266.1 374.6 265.6 374.0 265.1 373.6 264.6 373.2 264.1 372.9 263.4 372.6 262.6 372.5 261.6 372.6 260.6 372.9 259.6 373.1 259.1 373.4 258.6 373.9 258.1 374.4 257.6 375.1 257.1 375.9 256.7 376.4 256.5 Z" fill="#000" fill-opacity="0.05" stroke="#444" stroke-width="0.5"/><path d="M377.9 257.1 378.9 257.1 379.4 257.1 380.4 257.4 380.9 257.6 381.7 258.1 382.3 258.6 382.7 259.1 383.0 259.6 383.4 260.6 383.5 261.1 383.5 262.1 383.3 262.6 382.9 263.6 382.6 264.1 382.1 264.6 381.4 265.1 380.9 265.4 380.4 265.6 379.4 265.9 378.4 266.0 377.4 265.8 376.6 265.6 375.9 265.3 375.4 265.0 374.9 264.6 374.4 264.0 373.9 263.2 373.7 262.6 373.5 261.6 373.6 260.6 373.9 259.8 374.3 259.1 374.7 258.6 375.3 258.1 375.9 257.7 376.4 257.5 377.4 257.2 377.9 257.1 Z" fill="#000" fill-opacity="0.05" stroke="#444" stroke-width="0.5"/><path d="M376.9 258.5 377.9 258.2 378.9 258.2 379.9 258.4 380.4 258.7 381.1 259.1 381.5 259.6 381.9 260.2 382.2 261.1 382.2 262.1 381.9 262.8 381.4 263.6 380.9 264.0 380.4 264.3 379.8 264.6 378.9 264.8 377.9 264.8 377.2 264.6 376.4 264.2 375.9 263.9 375.4 263.3 375.0 262.6 374.8 262.1 374.8 261.1 374.9 260.6 375.4 259.7 375.9 259.1 376.4 258.8 376.9 258.5 Z" fill="#000" fill-opacity="0.05" stroke="#444" stroke-width="0.5"/><path d="M378.4 260.1 378.9 260.1 379.8 260.6 380.1 261.1 380.0 262.1 379.5 262.6 378.9 262.9 377.9 262.8 377.4 262.6 376.9 261.7 376.9 261.3 377.2 260.6 377.9 260.2 378.4 260.1 Z" fill="#000" fill-opacity="0.05" stroke="#444" stroke-width="0.5"/><ellipse cx="379.0" cy="261.8" rx="4.6" ry="4.0" fill="none" stroke="#222" stroke-width="1.6" stroke-opacity="0.6"/>
<path d="M433.4 252.6 434.4 252.4 435.4 252.4 436.4 252.4 437.4 252.6 437.9 252.7 438.9 253.1 439.4 253.3 440.0 253.6 440.8 254.1 441.4 254.6 441.9 255.1 442.3 255.6 442.7 256.1 443.0 256.6 443.4 257.4 443.7 258.1 443.9 259.0 444.0 259.6 444.0 260.6 443.9 261.6 443.8 262.1 443.5 263.1 443.3 263.6 442.9 264.4 442.4 265.1 442.0 265.6 441.5 266.1 440.9 266.6 440.4 267.0 439.9 267.3 439.2 267.6 438.4 267.9 437.8 268.1 436.9 268.3 435.9 268.4 434.9 268.4 433.9 268.3 433.0 268.1 432.4 267.9 431.6 267.6 430.9 267.3 430.4 267.0 429.9 266.6 429.3 266.1 428.8 265.6 428.4 265.1 427.9 264.4 427.5 263.6 427.3 263.1 427.0 262.1 426.9 261.6 426.8 260.6 426.8 259.6 426.9 259.0 427.1 258.1 427.4 257.4 427.8 256.6 428.1 256.1 428.5 255.6 428.9 255.1 429.4 254.6 430.0 254.1 430.8 253.6 431.4 253.3 431.9 253.1 432.9 252.7 433.4 252.6 Z M413.4 265.0 414.4 264.8 415.4 264.9 416.2 265.1 416.9 265.3 417.4 265.6 418.0 266.1 418.5 266.6 418.9 267.1 419.4 268.1 419.6 268.6 419.8 269.6 419.8 270.6 419.5 271.6 419.3 272.1 418.9 272.9 418.4 273.5 417.9 274.0 417.4 274.4 416.9 274.6 415.9 275.0 415.4 275.1 414.4 275.2 413.8 275.1 412.9 274.9 412.2 274.6 411.4 274.1 410.9 273.6 410.5 273.1 410.1 272.6 409.9 272.1 409.5 271.1 409.4 270.1 409.5 269.1 409.8 268.1 410.0 267.6 410.4 267.0 410.9 266.4 411.4 265.9 411.9 265.6 412.9 265.1 413.4 265.0 Z" fill="#000" fill-opacity="0.06" stroke="#333" stroke-width="0.75"/><path d="M435.4 253.1 435.9 253.1 436.9 253.2 437.9 253.5 438.4 253.6 439.4 254.1 439.9 254.4 440.4 254.8 440.9 255.2 441.4 255.7 441.9 256.3 442.4 257.1 442.7 257.6 442.9 258.3 443.1 259.1 443.3 260.1 443.2 261.1 443.0 262.1 442.9 262.6 442.5 263.6 442.2 264.1 441.8 264.6 441.4 265.1 440.9 265.6 440.3 266.1 439.5 266.6 438.9 266.9 438.4 267.2 437.4 267.5 436.7 267.6 435.9 267.7 434.9 267.7 434.1 267.6 433.4 267.5 432.4 267.2 431.9 266.9 431.3 266.6 430.5 266.1 429.9 265.6 429.4 265.1 429.0 264.6 428.6 264.1 428.3 263.6 427.9 262.6 427.8 262.1 427.6 261.1 427.5 260.1 427.7 259.1 427.9 258.3 428.1 257.6 428.4 257.1 428.9 256.3 429.4 255.7 429.9 255.2 430.4 254.8 430.9 254.4 431.4 254.1 432.4 253.6 432.9 253.5 433.9 253.2 434.9 253.1 435.4 253.1 Z M412.9 265.5 413.9 265.2 414.9 265.2 415.9 265.4 416.5 265.6 417.4 266.1 417.9 266.5 418.4 267.1 418.8 267.6 419.0 268.1 419.3 269.1 419.4 270.1 419.3 271.1 418.9 272.1 418.6 272.6 418.3 273.1 417.8 273.6 417.1 274.1 416.4 274.5 415.9 274.6 414.9 274.8 413.9 274.8 413.2 274.6 412.4 274.3 411.9 274.0 411.4 273.6 410.9 273.1 410.4 272.3 410.1 271.6 409.9 270.9 409.8 270.1 409.9 269.1 410.0 268.6 410.4 267.7 410.8 267.1 411.2 266.6 411.8 266.1 412.4 265.7 412.9 265.5 Z" fill="#000" fill-opacity="0.06" stroke="#444" stroke-width="0.5"/><path d="M433.9 254.1 434.9 253.9 435.9 253.9 436.9 254.1 437.4 254.2 438.4 254.5 438.9 254.8 439.4 255.1 440.1 255.6 440.6 256.1 441.1 256.6 441.4 257.1 441.9 258.0 442.1 258.6 442.3 259.6 442.4 260.6 442.3 261.6 442.0 262.6 441.8 263.1 441.4 263.7 440.9 264.4 440.4 264.9 439.9 265.4 439.4 265.7 438.7 266.1 437.9 266.5 437.4 266.6 436.4 266.8 435.4 266.9 434.4 266.8 433.4 266.6 432.9 266.5 432.1 266.1 431.4 265.7 430.9 265.4 430.4 264.9 429.9 264.4 429.4 263.7 429.0 263.1 428.8 262.6 428.5 261.6 428.4 260.6 428.5 259.6 428.7 258.6 428.9 258.0 429.4 257.1 429.7 256.6 430.2 256.1 430.7 255.6 431.4 255.1 431.9 254.8 432.4 254.5 433.4 254.2 433.9 254.1 Z M412.9 265.9 413.9 265.7 414.9 265.6 415.9 265.8 416.6 266.1 417.4 266.6 417.9 267.1 418.3 267.6 418.6 268.1 418.9 269.1 419.0 269.6 419.0 270.6 418.9 271.1 418.5 272.1 418.2 272.6 417.7 273.1 417.1 273.6 416.4 274.0 415.9 274.2 414.9 274.4 413.9 274.4 413.0 274.1 412.4 273.8 411.9 273.5 411.4 273.0 410.9 272.4 410.5 271.6 410.3 271.1 410.2 270.1 410.3 269.1 410.4 268.6 410.9 267.6 411.3 267.1 411.8 266.6 412.4 266.2 412.9 265.9 Z" fill="#000" fill-opacity="0.06" stroke="#444" stroke-width="0.5"/><path d="M433.9 255.0 434.9 254.8 435.9 254.8 436.9 255.0 437.4 255.2 438.4 255.6 438.9 255.9 439.4 256.3 439.9 256.7 440.4 257.3 440.8 258.1 441.1 258.6 441.3 259.6 441.4 260.6 441.2 261.6 440.9 262.6 440.6 263.1 440.3 263.6 439.9 264.1 439.3 264.6 438.6 265.1 437.9 265.5 437.4 265.6 436.4 265.9 435.4 266.0 434.4 265.9 433.4 265.6 432.9 265.5 432.2 265.1 431.5 264.6 430.9 264.1 430.5 263.6 430.2 263.1 429.9 262.6 429.6 261.6 429.4 260.6 429.5 259.6 429.7 258.6 430.0 258.1 430.4 257.3 430.9 256.7 431.4 256.3 431.9 255.9 432.4 255.6 433.4 255.2 433.9 255.0 Z M414.4 266.0 415.2 266.1 415.9 266.3 416.6 266.6 417.3 267.1 417.8 267.6 418.1 268.1 418.4 268.9 418.5 269.6 418.5 270.6 418.4 271.1 418.0 272.1 417.6 272.6 417.1 273.1 416.4 273.5 415.9 273.7 414.9 274.0 413.9 273.9 413.0 273.6 412.4 273.3 411.9 272.9 411.4 272.3 411.0 271.6 410.8 271.1 410.6 270.1 410.7 269.1 410.9 268.6 411.4 267.7 411.9 267.1 412.4 266.7 412.9 266.4 413.9 266.1 414.4 266.0 Z" fill="#000" fill-opacity="0.06" stroke="#444" stroke-width="0.5"/><path d="M434.4 256.0 435.4 255.9 436.4 256.0 436.9 256.2 437.9 256.6 438.4 256.9 438.9 257.4 439.4 258.0 439.8 258.6 440.0 259.1 440.2 260.1 440.1 261.1 439.9 261.9 439.6 262.6 439.2 263.1 438.7 263.6 438.1 264.1 437.4 264.4 436.9 264.6 435.9 264.8 434.9 264.8 433.9 264.6 433.4 264.4 432.7 264.1 432.1 263.6 431.6 263.1 431.2 262.6 430.9 261.9 430.7 261.1 430.6 260.1 430.8 259.1 431.0 258.6 431.4 258.0 431.9 257.4 432.4 256.9 432.9 256.6 433.9 256.2 434.4 256.0 Z M414.4 266.5 415.2 266.6 415.9 266.8 416.5 267.1 417.1 267.6 417.5 268.1 417.9 269.0 418.0 269.6 418.0 270.6 417.9 271.1 417.4 272.0 416.9 272.6 416.4 273.0 415.9 273.2 414.9 273.5 413.9 273.4 413.1 273.1 412.4 272.7 411.9 272.2 411.5 271.6 411.3 271.1 411.1 270.1 411.3 269.1 411.4 268.6 411.9 267.8 412.4 267.3 412.9 267.0 413.9 266.6 414.4 266.5 Z" fill="#000" fill-opacity="0.06" stroke="#444" stroke-width="0.5"/><path d="M434.9 257.5 435.9 257.5 436.4 257.6 437.4 258.1 437.9 258.6 438.2 259.1 438.4 259.6 438.6 260.6 438.4 261.3 438.0 262.1 437.5 262.6 436.9 263.0 436.4 263.2 435.4 263.3 434.4 263.2 433.9 263.0 433.3 262.6 432.8 262.1 432.4 261.3 432.2 260.6 432.4 259.6 432.6 259.1 432.9 258.6 433.4 258.1 434.4 257.6 434.9 257.5 Z M413.4 267.4 414.4 267.1 415.4 267.2 416.2 267.6 416.8 268.1 417.1 268.6 417.4 269.4 417.5 270.1 417.4 270.6 417.0 271.6 416.6 272.1 415.9 272.6 415.4 272.8 414.4 272.9 413.4 272.6 412.9 272.3 412.4 271.8 411.9 271.1 411.8 270.6 411.7 269.6 411.9 269.0 412.4 268.2 412.9 267.7 413.4 267.4 Z" fill="#000" fill-opacity="0.06" stroke="#444" stroke-width="0.5"/><path d="M413.9 268.0 414.9 267.9 415.6 268.1 416.2 268.6 416.5 269.1 416.7 270.1 416.4 271.1 416.0 271.6 415.4 272.0 414.9 272.1 414.3 272.1 413.4 271.8 412.9 271.3 412.6 270.6 412.5 269.6 412.9 268.7 413.4 268.2 413.9 268.0 Z" fill="#000" fill-opacity="0.06" stroke="#444" stroke-width="0.5"/><path d="M414.4 269.1 414.9 269.1 415.4 269.6 415.4 270.4 414.9 270.9 413.9 270.6 413.7 270.1 413.9 269.4 414.4 269.1 Z" fill="#000" fill-opacity="0.06" stroke="#444" stroke-width="0.5"/><ellipse cx="436.0" cy="260.8" rx="4.6" ry="4.3" fill="none" stroke="#222" stroke-width="1.5" stroke-opacity="0.5"/><ellipse cx="414.6" cy="270.0" rx="3.2" ry="3.1" fill="none" stroke="#111" stroke-width="2.3" stroke-opacity="1.0"/><circle cx="414.90000000000003" cy="270.0" r="0.9" fill="#fff"/>
<path d="M488.9 252.6 489.9 252.4 490.9 252.4 491.9 252.5 492.4 252.7 493.4 253.1 493.9 253.4 494.4 253.8 494.9 254.2 495.4 254.7 495.9 255.4 496.3 256.1 496.5 256.6 496.9 257.6 497.0 258.1 497.2 259.1 497.2 260.1 497.1 261.1 496.9 262.0 496.7 262.6 496.4 263.3 496.0 264.1 495.6 264.6 495.2 265.1 494.7 265.6 494.1 266.1 493.4 266.5 492.9 266.8 491.9 267.1 491.4 267.2 490.4 267.4 489.4 267.5 488.4 267.6 487.9 267.7 486.9 268.0 486.4 268.1 485.4 268.5 484.9 268.6 483.9 268.9 483.3 269.1 482.4 269.4 481.6 269.6 480.9 269.8 479.9 270.1 479.4 270.3 478.4 270.6 477.9 270.8 477.3 271.1 476.8 271.6 476.3 272.1 475.9 272.7 475.4 273.2 474.9 273.7 474.4 274.1 473.4 274.6 472.9 274.8 471.9 275.0 470.9 274.9 469.9 274.7 469.4 274.4 468.8 274.1 468.2 273.6 467.7 273.1 467.4 272.6 466.9 271.6 466.8 271.1 466.6 270.1 466.7 269.1 466.9 268.5 467.3 267.6 467.6 267.1 468.0 266.6 468.5 266.1 469.3 265.6 469.9 265.3 470.4 265.1 471.4 264.7 471.9 264.5 472.7 264.1 473.4 263.7 473.9 263.3 474.4 263.0 475.0 262.6 475.9 262.2 476.4 261.9 477.3 261.6 477.9 261.4 478.7 261.1 479.4 260.8 480.1 260.6 480.9 260.3 481.4 260.0 482.2 259.6 482.9 259.1 483.3 258.6 483.7 258.1 483.9 257.6 484.4 256.6 484.7 256.1 485.0 255.6 485.4 255.0 485.9 254.4 486.4 253.9 486.9 253.5 487.6 253.1 488.4 252.7 488.9 252.6 Z" fill="#000" fill-opacity="0.05" stroke="#333" stroke-width="0.75"/><path d="M488.4 253.6 489.4 253.3 490.4 253.2 491.4 253.2 492.4 253.5 492.9 253.7 493.6 254.1 494.2 254.6 494.7 255.1 495.1 255.6 495.5 256.1 495.9 257.0 496.1 257.6 496.4 258.6 496.4 259.1 496.5 260.1 496.4 260.8 496.3 261.6 495.9 262.6 495.7 263.1 495.4 263.6 494.9 264.3 494.4 264.8 493.9 265.3 493.4 265.6 492.4 266.1 491.9 266.3 490.9 266.5 490.4 266.6 489.4 266.8 488.4 267.0 487.9 267.1 486.9 267.5 486.4 267.6 485.4 268.0 484.9 268.2 483.9 268.5 483.4 268.6 482.4 269.0 481.9 269.1 480.9 269.4 480.2 269.6 479.4 269.8 478.5 270.1 477.9 270.3 477.3 270.6 476.7 271.1 476.3 271.6 475.9 272.1 475.4 272.7 474.9 273.2 474.4 273.7 473.7 274.1 472.9 274.4 471.9 274.6 470.9 274.5 469.9 274.3 469.4 274.0 468.7 273.6 468.2 273.1 467.8 272.6 467.4 271.8 467.1 271.1 467.0 270.1 467.1 269.1 467.4 268.1 467.7 267.6 468.0 267.1 468.5 266.6 469.1 266.1 469.9 265.7 470.4 265.4 471.4 265.1 471.9 264.9 472.7 264.6 473.4 264.2 473.9 263.8 474.4 263.5 475.0 263.1 475.9 262.6 476.4 262.4 477.1 262.1 477.9 261.8 478.5 261.6 479.4 261.3 479.9 261.1 480.9 260.7 481.4 260.5 482.3 260.1 482.9 259.8 483.4 259.4 483.9 258.9 484.4 258.2 484.7 257.6 485.0 257.1 485.4 256.3 485.9 255.6 486.3 255.1 486.8 254.6 487.4 254.1 487.9 253.8 488.4 253.6 Z" fill="#000" fill-opacity="0.05" stroke="#444" stroke-width="0.5"/><path d="M489.9 254.1 490.9 254.1 491.4 254.1 492.4 254.5 492.9 254.7 493.5 255.1 494.0 255.6 494.4 256.1 494.9 256.8 495.3 257.6 495.4 258.1 495.6 259.1 495.7 260.1 495.5 261.1 495.4 261.6 495.0 262.6 494.7 263.1 494.4 263.6 493.9 264.1 493.3 264.6 492.5 265.1 491.9 265.4 491.1 265.6 490.4 265.7 489.4 265.9 488.8 266.1 487.9 266.4 487.4 266.6 486.4 267.1 485.9 267.3 485.1 267.6 484.4 267.8 483.6 268.1 482.9 268.3 482.0 268.6 481.4 268.8 480.4 269.1 479.9 269.2 478.9 269.5 478.4 269.6 477.4 270.0 476.9 270.3 476.4 270.7 475.9 271.3 475.4 272.1 475.0 272.6 474.5 273.1 473.9 273.5 473.4 273.8 472.5 274.1 471.9 274.2 470.9 274.2 470.4 274.0 469.4 273.6 468.9 273.2 468.4 272.7 467.9 272.1 467.7 271.6 467.4 270.6 467.4 270.1 467.4 269.6 467.6 268.6 467.9 268.0 468.4 267.3 468.9 266.7 469.4 266.4 469.9 266.1 470.9 265.7 471.4 265.5 472.4 265.2 472.9 265.0 473.7 264.6 474.4 264.1 474.9 263.7 475.4 263.4 476.0 263.1 476.9 262.7 477.4 262.5 478.4 262.1 478.9 261.9 479.8 261.6 480.4 261.4 481.2 261.1 481.9 260.8 482.5 260.6 483.4 260.2 483.9 259.9 484.4 259.5 484.9 258.9 485.4 258.1 485.6 257.6 485.9 257.1 486.4 256.3 486.9 255.7 487.4 255.2 487.9 254.8 488.4 254.6 489.4 254.2 489.9 254.1 Z" fill="#000" fill-opacity="0.05" stroke="#444" stroke-width="0.5"/><path d="M488.9 255.5 489.9 255.2 490.9 255.2 491.9 255.4 492.4 255.6 493.1 256.1 493.6 256.6 493.9 257.1 494.4 258.1 494.6 258.6 494.7 259.6 494.6 260.6 494.4 261.5 494.2 262.1 493.9 262.6 493.4 263.2 492.9 263.6 492.2 264.1 491.4 264.4 490.8 264.6 489.9 264.8 488.9 265.1 488.4 265.3 487.8 265.6 486.9 266.1 486.4 266.4 485.9 266.6 484.9 267.1 484.4 267.3 483.5 267.6 482.9 267.8 481.9 268.1 481.4 268.3 480.4 268.6 479.9 268.7 478.9 269.0 478.4 269.1 477.4 269.4 476.8 269.6 476.2 270.1 475.8 270.6 475.4 271.3 474.9 272.0 474.4 272.6 473.9 273.0 473.4 273.4 472.8 273.6 471.9 273.8 470.9 273.7 470.4 273.6 469.4 273.1 468.9 272.7 468.4 272.1 468.2 271.6 467.9 270.8 467.8 270.1 467.9 269.2 468.1 268.6 468.4 268.0 468.9 267.3 469.4 266.9 469.9 266.6 470.9 266.1 471.4 266.0 472.4 265.8 473.0 265.6 473.9 265.2 474.4 264.8 474.9 264.4 475.4 264.0 476.1 263.6 476.9 263.2 477.4 263.0 478.4 262.6 478.9 262.5 479.9 262.1 480.4 261.9 481.4 261.6 481.9 261.4 482.8 261.1 483.4 260.9 484.1 260.6 484.9 260.2 485.4 259.7 485.9 259.1 486.2 258.6 486.5 258.1 486.9 257.3 487.4 256.6 487.9 256.1 488.4 255.8 488.9 255.5 Z" fill="#000" fill-opacity="0.05" stroke="#444" stroke-width="0.5"/><path d="M490.4 256.5 491.0 256.6 491.9 256.9 492.4 257.3 492.9 257.9 493.2 258.6 493.4 259.4 493.4 260.1 493.3 260.6 492.9 261.6 492.6 262.1 492.0 262.6 491.4 263.0 490.9 263.2 489.9 263.4 489.2 263.6 488.4 263.9 487.9 264.3 487.4 264.7 486.9 265.1 486.2 265.6 485.4 266.1 484.9 266.4 484.4 266.6 483.4 267.0 482.9 267.2 481.9 267.5 481.4 267.6 480.4 267.9 479.8 268.1 478.9 268.3 477.9 268.5 477.4 268.7 476.4 269.0 475.9 269.4 475.4 270.1 475.2 270.6 474.9 271.1 474.4 271.9 473.9 272.4 473.4 272.8 472.8 273.1 471.9 273.3 470.9 273.2 470.4 273.1 469.6 272.6 469.0 272.1 468.7 271.6 468.4 270.8 468.3 270.1 468.4 269.2 468.6 268.6 468.9 268.1 469.4 267.5 469.9 267.1 470.9 266.7 471.4 266.5 472.4 266.3 473.4 266.2 473.9 266.0 474.6 265.6 475.1 265.1 475.8 264.6 476.4 264.2 476.9 263.9 477.6 263.6 478.4 263.3 478.9 263.1 479.9 262.7 480.4 262.6 481.4 262.2 481.9 262.1 482.9 261.8 483.5 261.6 484.4 261.4 485.3 261.1 485.9 260.9 486.4 260.6 486.9 260.0 487.4 259.1 487.6 258.6 487.9 258.1 488.4 257.5 488.9 257.1 489.9 256.6 490.4 256.5 Z" fill="#000" fill-opacity="0.05" stroke="#444" stroke-width="0.5"/><path d="M483.4 262.6 484.4 262.5 485.4 262.6 485.9 262.9 486.2 263.6 485.9 264.3 485.4 264.9 484.9 265.3 484.4 265.6 483.5 266.1 482.9 266.3 482.1 266.6 481.4 266.8 480.5 267.1 479.9 267.3 478.9 267.5 478.3 267.6 477.4 267.7 476.4 267.7 475.4 267.8 475.1 268.6 474.9 269.3 474.7 270.1 474.4 270.8 473.9 271.6 473.4 272.1 472.9 272.4 472.4 272.6 471.4 272.8 470.7 272.6 469.9 272.2 469.4 271.7 469.1 271.1 468.9 270.5 468.9 269.6 469.0 269.1 469.4 268.3 469.9 267.8 470.4 267.5 471.4 267.1 471.9 267.0 472.9 267.0 473.7 267.1 474.4 267.2 475.0 267.1 475.4 266.6 475.9 265.9 476.4 265.3 476.9 264.9 477.4 264.6 478.4 264.1 478.9 263.9 479.8 263.6 480.4 263.4 481.4 263.1 481.9 262.9 482.9 262.7 483.4 262.6 Z" fill="#000" fill-opacity="0.05" stroke="#444" stroke-width="0.5"/><path d="M470.9 268.0 471.9 267.8 472.9 268.0 473.4 268.3 473.9 269.1 473.9 269.6 473.9 270.1 473.4 271.1 472.9 271.6 472.4 271.9 471.4 272.0 470.4 271.7 469.9 271.1 469.6 270.6 469.6 269.6 469.9 268.8 470.4 268.3 470.9 268.0 Z" fill="#000" fill-opacity="0.05" stroke="#444" stroke-width="0.5"/><path d="M471.4 269.0 472.2 269.1 472.6 269.6 472.4 270.6 471.9 270.9 470.9 270.6 470.7 270.1 470.9 269.4 471.4 269.0 Z" fill="#000" fill-opacity="0.05" stroke="#444" stroke-width="0.5"/><ellipse cx="491.0" cy="260.3" rx="3.8" ry="4.0" fill="none" stroke="#222" stroke-width="1.3" stroke-opacity="0.45"/><ellipse cx="471.6" cy="270.0" rx="3.0" ry="2.9" fill="none" stroke="#111" stroke-width="1.9" stroke-opacity="1.0"/><circle cx="471.90000000000003" cy="270.0" r="0.9" fill="#fff"/>
<path d="M358.9 299.8 359.9 299.4 360.9 299.3 361.9 299.4 362.9 299.7 363.4 299.9 364.0 300.3 364.6 300.8 365.1 301.3 365.5 301.8 365.9 302.5 366.3 303.3 366.4 303.8 366.7 304.8 366.9 305.5 367.1 306.3 367.2 307.3 367.4 308.3 367.4 308.8 367.7 309.8 367.9 310.6 368.3 311.3 368.9 311.4 369.4 311.2 369.9 310.7 370.4 310.3 370.9 309.8 371.5 309.3 372.2 308.8 372.9 308.4 373.4 308.1 374.1 307.8 374.9 307.5 375.8 307.3 376.4 307.2 377.4 307.1 378.4 307.1 379.4 307.3 379.9 307.4 380.9 307.6 381.4 307.8 382.3 308.3 382.9 308.6 383.4 309.0 383.9 309.4 384.4 309.8 384.9 310.4 385.4 311.0 385.9 311.8 386.2 312.3 386.4 312.8 386.7 313.8 386.9 314.7 387.0 315.3 387.0 316.3 386.9 317.3 386.8 317.8 386.5 318.8 386.3 319.3 385.9 320.2 385.5 320.8 385.2 321.3 384.8 321.8 384.3 322.3 383.7 322.8 383.0 323.3 382.4 323.7 381.9 324.0 381.3 324.3 380.4 324.7 379.9 325.0 379.3 325.3 378.4 325.8 377.9 326.0 377.0 326.3 376.4 326.5 375.4 326.7 374.9 326.8 373.9 327.0 372.9 327.2 372.3 327.3 371.4 327.5 370.4 327.7 369.9 327.8 368.9 328.1 368.0 328.3 367.4 328.5 366.4 328.7 365.9 328.8 364.9 329.1 363.9 329.3 363.4 329.3 362.4 329.5 361.4 329.5 360.4 329.5 359.4 329.6 358.4 329.6 357.4 329.5 356.6 329.3 355.9 329.0 355.4 328.7 354.9 328.3 354.4 327.7 353.9 326.9 353.7 326.3 353.5 325.3 353.5 324.3 353.7 323.3 353.9 322.8 354.4 321.8 354.6 321.3 354.9 320.6 355.0 319.8 354.9 318.8 354.8 318.3 354.7 317.3 354.6 316.3 354.5 315.3 354.5 314.3 354.6 313.3 354.6 312.3 354.6 311.3 354.7 310.3 354.7 309.3 354.8 308.3 354.9 307.3 354.9 306.8 355.1 305.8 355.3 304.8 355.4 304.3 355.7 303.3 356.0 302.8 356.4 302.0 356.9 301.3 357.4 300.8 357.9 300.4 358.4 300.0 358.9 299.8 Z" fill="#000" fill-opacity="0.035" stroke="#111" stroke-width="1.3"/><path d="M359.4 300.2 360.4 300.0 361.4 300.0 362.4 300.2 362.9 300.4 363.6 300.8 364.3 301.3 364.7 301.8 365.1 302.3 365.4 302.8 365.9 303.8 366.0 304.3 366.3 305.3 366.4 305.8 366.6 306.8 366.7 307.8 366.8 308.8 366.9 309.4 367.0 310.3 367.2 311.3 367.4 312.3 367.5 312.8 367.8 313.8 368.3 314.3 368.4 314.3 368.9 313.7 369.4 313.0 369.8 312.3 370.2 311.8 370.6 311.3 371.0 310.8 371.5 310.3 372.1 309.8 372.8 309.3 373.4 308.9 373.9 308.7 374.9 308.3 375.4 308.1 376.4 307.9 377.4 307.8 378.4 307.9 379.4 308.0 380.4 308.3 380.9 308.4 381.7 308.8 382.4 309.2 382.9 309.5 383.4 309.9 383.9 310.4 384.4 310.9 384.9 311.6 385.3 312.3 385.6 312.8 385.9 313.7 386.1 314.3 386.2 315.3 386.3 316.3 386.2 317.3 385.9 318.3 385.7 318.8 385.4 319.6 385.0 320.3 384.6 320.8 384.2 321.3 383.7 321.8 383.1 322.3 382.5 322.8 381.9 323.2 381.4 323.4 380.8 323.8 380.0 324.3 379.4 324.7 378.9 325.0 378.3 325.3 377.4 325.8 376.9 325.9 375.9 326.2 375.4 326.4 374.4 326.6 373.4 326.8 372.9 326.9 371.9 327.1 370.9 327.3 370.4 327.4 369.4 327.7 368.7 327.8 367.9 328.0 366.9 328.2 366.4 328.4 365.4 328.6 364.6 328.8 363.9 329.0 362.9 329.1 361.9 329.2 360.9 329.2 359.9 329.2 358.9 329.3 357.9 329.2 356.9 329.1 356.2 328.8 355.4 328.3 354.9 327.8 354.5 327.3 354.2 326.8 353.9 325.9 353.8 325.3 353.8 324.3 353.9 323.8 354.3 322.8 354.5 322.3 354.9 321.7 355.4 320.8 355.5 320.3 355.5 319.3 355.4 318.4 355.3 317.8 355.2 316.8 355.1 315.8 355.1 314.8 355.1 313.8 355.1 312.8 355.1 311.8 355.2 310.8 355.2 309.8 355.3 308.8 355.4 307.8 355.4 307.3 355.5 306.3 355.7 305.3 355.9 304.6 356.1 303.8 356.4 303.2 356.9 302.3 357.3 301.8 357.7 301.3 358.4 300.8 358.9 300.5 359.4 300.2 Z M367.9 317.2 367.6 317.8 367.3 318.3 366.9 319.1 366.6 319.8 366.6 320.8 367.4 321.0 368.3 320.8 368.9 320.4 369.4 319.8 369.2 318.8 368.9 318.0 368.4 317.3 367.9 317.2 Z" fill="#000" fill-opacity="0.035" stroke="#444" stroke-width="0.5"/><path d="M360.4 300.7 361.4 300.7 362.0 300.8 362.9 301.1 363.4 301.5 363.9 301.9 364.4 302.4 364.9 303.2 365.2 303.8 365.4 304.3 365.7 305.3 365.9 306.3 366.0 306.8 366.1 307.8 366.2 308.8 366.3 309.8 366.4 310.8 366.4 311.3 366.6 312.3 366.7 313.3 366.7 314.3 366.7 315.3 366.7 316.3 366.5 317.3 366.4 317.8 366.1 318.8 365.9 319.3 365.4 320.3 365.3 320.8 365.4 321.5 366.4 321.8 367.4 321.6 368.4 321.4 368.9 321.2 369.7 320.8 370.2 320.3 370.5 319.8 370.4 319.0 370.2 318.3 369.9 317.3 369.8 316.8 369.8 315.8 369.9 314.9 370.0 314.3 370.4 313.3 370.7 312.8 371.0 312.3 371.4 311.7 371.9 311.1 372.4 310.6 372.9 310.2 373.5 309.8 374.4 309.3 374.9 309.1 375.9 308.8 376.4 308.7 377.4 308.6 378.4 308.7 379.4 308.8 379.9 308.9 380.9 309.3 381.4 309.5 381.9 309.8 382.6 310.3 383.2 310.8 383.7 311.3 384.1 311.8 384.4 312.3 384.9 313.3 385.1 313.8 385.3 314.8 385.4 315.5 385.4 316.3 385.4 316.8 385.2 317.8 384.9 318.7 384.6 319.3 384.3 319.8 383.9 320.4 383.4 321.0 382.9 321.5 382.4 321.9 381.8 322.3 381.0 322.8 380.4 323.2 379.9 323.6 379.4 324.0 378.9 324.4 378.3 324.8 377.4 325.3 376.9 325.5 376.0 325.8 375.4 326.0 374.4 326.2 373.9 326.3 372.9 326.5 371.9 326.7 371.4 326.8 370.4 327.1 369.4 327.3 368.9 327.4 367.9 327.7 367.3 327.8 366.4 328.0 365.4 328.3 364.9 328.4 363.9 328.6 362.9 328.7 361.9 328.8 361.4 328.8 360.4 328.8 359.4 328.9 358.4 328.9 357.4 328.8 356.9 328.7 356.0 328.3 355.4 327.8 354.9 327.3 354.6 326.8 354.4 326.3 354.1 325.3 354.2 324.3 354.4 323.5 354.7 322.8 355.0 322.3 355.4 321.7 355.9 321.0 356.2 320.3 356.2 319.3 356.0 318.3 355.9 317.7 355.8 316.8 355.7 315.8 355.6 314.8 355.6 313.8 355.7 312.8 355.7 311.8 355.7 310.8 355.8 309.8 355.9 308.8 355.9 308.2 356.0 307.3 356.1 306.3 356.3 305.3 356.5 304.8 356.8 303.8 357.0 303.3 357.4 302.7 357.9 302.1 358.4 301.6 358.9 301.3 359.9 300.8 360.4 300.7 Z" fill="#000" fill-opacity="0.035" stroke="#444" stroke-width="0.5"/><path d="M359.9 301.7 360.9 301.5 361.9 301.6 362.4 301.8 363.2 302.3 363.7 302.8 364.1 303.3 364.4 303.8 364.8 304.8 365.0 305.3 365.2 306.3 365.4 307.3 365.4 307.8 365.5 308.8 365.6 309.8 365.7 310.8 365.8 311.8 365.8 312.8 365.9 313.8 365.9 314.8 365.9 315.8 365.8 316.8 365.5 317.8 365.4 318.3 365.0 319.3 364.7 319.8 364.4 320.3 363.9 321.1 363.5 321.8 363.9 322.4 364.9 322.5 365.9 322.4 366.9 322.3 367.4 322.2 368.4 321.9 368.9 321.8 369.9 321.4 370.4 321.1 370.9 320.7 371.4 320.1 371.5 319.3 371.4 318.7 371.1 317.8 370.9 316.8 370.9 316.3 370.9 315.3 371.0 314.8 371.3 313.8 371.5 313.3 371.9 312.6 372.4 311.9 372.9 311.4 373.4 311.0 373.9 310.6 374.5 310.3 375.4 309.9 375.9 309.7 376.9 309.6 377.9 309.5 378.9 309.6 379.7 309.8 380.4 310.0 380.9 310.3 381.8 310.8 382.4 311.3 382.9 311.8 383.3 312.3 383.6 312.8 383.9 313.4 384.3 314.3 384.4 315.0 384.5 315.8 384.4 316.8 384.4 317.3 384.1 318.3 383.8 318.8 383.4 319.5 382.9 320.2 382.4 320.7 381.9 321.1 381.4 321.5 380.9 321.8 380.3 322.3 379.7 322.8 379.2 323.3 378.7 323.8 378.1 324.3 377.4 324.8 376.9 325.0 376.2 325.3 375.4 325.6 374.4 325.8 373.9 325.9 372.9 326.1 371.9 326.3 371.4 326.4 370.4 326.7 369.7 326.8 368.9 327.0 367.9 327.2 367.4 327.4 366.4 327.6 365.6 327.8 364.9 328.0 363.9 328.2 363.1 328.3 362.4 328.4 361.4 328.4 360.4 328.4 359.4 328.5 358.4 328.6 357.4 328.4 356.9 328.3 356.0 327.8 355.4 327.3 355.0 326.8 354.8 326.3 354.5 325.3 354.6 324.3 354.9 323.3 355.2 322.8 355.5 322.3 355.9 321.8 356.4 321.3 356.9 320.5 357.0 319.8 356.9 319.1 356.7 318.3 356.5 317.3 356.4 316.6 356.3 315.8 356.3 314.8 356.3 313.8 356.3 312.8 356.3 311.8 356.4 310.8 356.4 310.3 356.5 309.3 356.5 308.3 356.6 307.3 356.8 306.3 356.9 305.8 357.2 304.8 357.4 304.2 357.9 303.3 358.3 302.8 358.8 302.3 359.4 301.9 359.9 301.7 Z" fill="#000" fill-opacity="0.035" stroke="#444" stroke-width="0.5"/><path d="M359.9 302.8 360.9 302.5 361.9 302.7 362.4 302.9 362.9 303.3 363.4 303.9 363.9 304.7 364.1 305.3 364.4 306.2 364.5 306.8 364.7 307.8 364.8 308.8 364.9 309.8 364.9 310.5 365.0 311.3 365.0 312.3 365.1 313.3 365.1 314.3 365.0 315.3 365.0 316.3 364.9 316.8 364.6 317.8 364.4 318.4 364.0 319.3 363.6 319.8 363.1 320.3 362.6 320.8 361.9 321.3 361.6 321.8 361.8 322.8 362.4 323.2 362.9 323.4 363.9 323.3 364.4 323.3 365.4 323.2 366.4 323.0 367.3 322.8 367.9 322.6 368.9 322.4 369.4 322.2 370.4 321.8 370.9 321.6 371.4 321.3 372.1 320.8 372.5 320.3 372.7 319.3 372.4 318.3 372.3 317.8 372.0 316.8 372.0 315.8 372.1 314.8 372.4 314.0 372.7 313.3 373.1 312.8 373.5 312.3 374.1 311.8 374.8 311.3 375.4 311.0 376.0 310.8 376.9 310.6 377.9 310.5 378.9 310.7 379.4 310.8 380.4 311.2 380.9 311.5 381.4 311.8 381.9 312.3 382.4 312.9 382.9 313.7 383.1 314.3 383.4 315.3 383.4 315.8 383.4 316.3 383.2 317.3 382.9 318.3 382.6 318.8 382.2 319.3 381.8 319.8 381.2 320.3 380.6 320.8 379.9 321.3 379.4 321.8 379.0 322.3 378.6 322.8 378.2 323.3 377.8 323.8 377.1 324.3 376.4 324.7 375.9 324.9 374.9 325.2 374.4 325.3 373.4 325.5 372.4 325.7 371.9 325.8 370.9 326.1 369.9 326.3 369.4 326.4 368.4 326.6 367.7 326.8 366.9 327.0 365.9 327.3 365.4 327.4 364.4 327.6 363.4 327.8 362.9 327.8 361.9 327.9 360.9 327.9 359.9 328.0 358.9 328.1 357.9 328.1 356.9 327.8 356.4 327.6 355.9 327.2 355.4 326.5 355.1 325.8 355.0 324.8 355.2 323.8 355.4 323.3 355.9 322.6 356.4 322.1 356.9 321.6 357.4 321.3 357.9 320.8 358.1 319.8 357.9 319.2 357.6 318.3 357.4 317.7 357.2 316.8 357.1 315.8 357.0 314.8 357.0 313.8 357.0 312.8 357.1 311.8 357.1 310.8 357.2 309.8 357.2 308.8 357.3 307.8 357.4 307.3 357.6 306.3 357.9 305.3 358.1 304.8 358.4 304.2 358.9 303.5 359.4 303.1 359.9 302.8 Z" fill="#000" fill-opacity="0.035" stroke="#444" stroke-width="0.5"/><path d="M360.4 304.0 361.4 304.0 362.1 304.3 362.6 304.8 362.9 305.3 363.4 306.3 363.5 306.8 363.7 307.8 363.8 308.8 363.9 309.6 364.0 310.3 364.0 311.3 364.1 312.3 364.1 313.3 364.1 314.3 364.1 315.3 364.0 316.3 363.8 316.8 363.5 317.8 363.3 318.3 362.9 318.8 362.4 319.3 361.5 319.8 360.9 319.9 360.2 319.8 359.4 319.3 359.0 318.8 358.7 318.3 358.4 317.5 358.2 316.8 358.0 315.8 357.9 314.8 357.9 313.8 357.9 312.8 358.0 311.8 358.0 310.8 358.1 309.8 358.2 308.8 358.3 307.8 358.4 307.2 358.6 306.3 358.9 305.6 359.4 304.8 359.9 304.3 360.4 304.0 Z M375.9 312.2 376.9 311.9 377.9 311.8 378.9 312.0 379.7 312.3 380.4 312.7 380.9 313.2 381.4 313.8 381.7 314.3 381.9 314.9 382.1 315.8 382.0 316.8 381.9 317.3 381.4 318.2 380.9 318.8 380.4 319.3 379.9 319.7 379.4 320.0 378.9 320.4 378.4 321.0 378.0 321.8 377.8 322.3 377.4 323.0 376.9 323.6 376.4 324.0 375.8 324.3 374.9 324.6 374.1 324.8 373.4 324.9 372.4 325.1 371.5 325.3 370.9 325.4 369.9 325.6 369.2 325.8 368.4 326.0 367.4 326.2 366.9 326.4 365.9 326.6 365.1 326.8 364.4 327.0 363.4 327.1 362.4 327.2 361.4 327.2 360.8 327.3 359.9 327.4 358.9 327.6 357.9 327.6 356.9 327.3 356.4 327.0 355.9 326.4 355.6 325.8 355.5 324.8 355.7 323.8 356.0 323.3 356.4 322.8 357.1 322.3 357.9 321.9 358.9 321.8 359.9 322.2 360.4 322.7 360.9 323.3 361.4 323.8 361.9 324.1 362.9 324.3 363.9 324.2 364.9 324.0 365.9 323.8 366.4 323.7 367.4 323.5 368.1 323.3 368.9 323.1 369.7 322.8 370.4 322.6 371.0 322.3 371.9 321.9 372.4 321.6 372.9 321.3 373.6 320.8 374.1 320.3 374.3 319.3 373.9 318.3 373.7 317.8 373.4 316.8 373.3 316.3 373.4 315.3 373.5 314.8 373.9 313.9 374.4 313.3 374.9 312.8 375.4 312.5 375.9 312.2 Z" fill="#000" fill-opacity="0.035" stroke="#444" stroke-width="0.5"/><path d="M360.9 306.7 361.4 306.8 361.9 307.4 362.2 308.3 362.4 309.1 362.5 309.8 362.6 310.8 362.7 311.8 362.7 312.8 362.8 313.8 362.7 314.8 362.6 315.8 362.4 316.4 361.9 317.2 361.4 317.6 360.4 317.4 359.9 316.9 359.6 316.3 359.4 315.6 359.3 314.8 359.2 313.8 359.3 312.8 359.3 311.8 359.4 310.8 359.4 310.3 359.6 309.3 359.8 308.3 359.9 307.8 360.4 307.0 360.9 306.7 Z M377.4 313.8 378.2 313.8 378.9 314.1 379.4 314.4 379.9 315.2 380.0 315.8 379.9 316.8 379.6 317.3 379.1 317.8 378.4 318.2 377.9 318.3 377.1 318.3 376.4 318.0 375.9 317.5 375.5 316.8 375.4 316.3 375.4 315.5 375.7 314.8 376.2 314.3 376.9 313.9 377.4 313.8 Z M374.9 321.7 375.9 321.8 376.2 322.3 375.9 323.0 375.4 323.4 374.4 323.8 373.9 323.9 372.9 324.0 371.9 324.0 371.3 323.8 371.8 323.3 372.4 323.0 372.9 322.7 373.6 322.3 374.4 321.9 374.9 321.7 Z M357.9 322.8 358.6 322.8 359.4 323.1 359.9 323.5 360.4 324.2 360.8 324.8 361.1 325.3 360.9 326.0 360.4 326.4 359.5 326.8 358.9 326.9 357.9 327.0 357.3 326.8 356.6 326.3 356.3 325.8 356.1 324.8 356.4 323.9 356.9 323.3 357.4 323.0 357.9 322.8 Z" fill="#000" fill-opacity="0.035" stroke="#444" stroke-width="0.5"/><path d="M357.4 324.2 358.4 323.9 359.1 324.3 359.4 325.3 358.9 325.9 357.9 326.0 357.4 325.7 357.1 324.8 357.4 324.2 Z" fill="#000" fill-opacity="0.035" stroke="#444" stroke-width="0.5"/><ellipse cx="377.7" cy="316.0" rx="6.2" ry="5.6" fill="none" stroke="#222" stroke-width="1.3" stroke-opacity="0.55"/><ellipse cx="358.0" cy="325.0" rx="3.3" ry="3.2" fill="none" stroke="#111" stroke-width="1.6" stroke-opacity="1.0"/><circle cx="358.3" cy="325.0" r="0.9" fill="#fff"/>
<path d="M419.9 315.3 420.9 315.0 421.9 314.9 422.9 315.0 423.9 315.2 424.4 315.5 425.0 315.8 425.5 316.3 425.9 317.3 426.0 317.8 426.4 318.7 426.9 319.0 427.4 319.3 428.4 319.7 428.9 319.8 429.9 320.1 430.5 320.3 431.4 320.6 431.9 320.9 432.5 321.3 433.0 321.8 433.4 322.3 433.9 323.3 433.9 323.8 433.9 324.4 433.7 325.3 433.4 325.8 432.9 326.3 432.3 326.8 431.4 327.3 430.9 327.5 429.9 327.8 429.4 327.9 428.4 328.0 427.4 328.2 426.4 328.3 425.9 328.3 424.9 328.5 423.9 328.6 422.9 328.7 421.9 328.8 421.4 328.8 420.4 328.9 419.4 329.0 418.4 329.2 417.9 329.4 416.9 329.6 415.9 329.8 415.4 329.8 414.4 329.9 413.9 329.8 412.9 329.6 412.3 329.3 411.4 328.8 410.9 328.4 410.4 327.9 410.0 327.3 409.7 326.8 409.4 326.1 409.2 325.3 409.1 324.3 409.2 323.3 409.4 322.4 409.6 321.8 409.9 321.3 410.4 320.6 410.9 320.1 411.4 319.6 411.9 319.3 412.7 318.8 413.4 318.5 414.0 318.3 414.9 318.0 415.9 317.8 416.4 317.7 417.4 317.3 417.9 316.8 418.4 316.3 418.9 315.8 419.4 315.5 419.9 315.3 Z" fill="#000" fill-opacity="0.06" stroke="#333" stroke-width="0.75"/><path d="M414.4 318.8 415.4 318.7 416.4 318.7 417.4 318.8 417.9 318.8 418.9 319.0 419.9 319.0 420.9 318.9 421.9 318.9 422.9 319.1 423.6 319.3 424.4 319.5 425.4 319.7 425.9 319.9 426.9 320.1 427.9 320.3 428.4 320.4 429.4 320.5 430.3 320.8 430.9 321.0 431.6 321.3 432.3 321.8 432.8 322.3 433.1 322.8 433.4 323.8 433.3 324.8 432.9 325.6 432.4 326.1 431.9 326.5 431.4 326.8 430.4 327.2 429.9 327.3 428.9 327.5 427.9 327.7 426.9 327.8 426.4 327.8 425.4 328.0 424.4 328.1 423.4 328.2 422.4 328.3 421.9 328.3 420.9 328.4 419.9 328.5 418.9 328.7 418.4 328.8 417.4 329.1 416.4 329.3 415.9 329.4 414.9 329.5 413.9 329.4 413.4 329.3 412.4 328.9 411.9 328.7 411.4 328.3 410.9 327.8 410.4 327.2 409.9 326.3 409.7 325.8 409.5 324.8 409.5 323.8 409.7 322.8 409.9 322.2 410.4 321.3 410.8 320.8 411.3 320.3 411.9 319.8 412.4 319.5 412.9 319.2 413.9 318.9 414.4 318.8 Z" fill="#000" fill-opacity="0.06" stroke="#444" stroke-width="0.5"/><path d="M414.9 319.3 415.6 319.3 416.4 319.4 417.4 319.6 418.1 319.8 418.9 320.0 419.9 320.2 420.9 320.2 421.9 320.3 422.4 320.3 423.4 320.4 424.4 320.5 425.4 320.6 426.4 320.7 427.0 320.8 427.9 320.9 428.9 321.0 429.9 321.3 430.4 321.4 431.3 321.8 431.9 322.2 432.4 322.8 432.7 323.3 432.8 324.3 432.4 325.2 431.9 325.8 431.4 326.2 430.9 326.5 429.9 326.8 429.4 326.9 428.4 327.1 427.4 327.2 426.9 327.3 425.9 327.4 424.9 327.5 423.9 327.7 422.9 327.7 422.2 327.8 421.4 327.9 420.4 328.0 419.4 328.1 418.4 328.3 417.9 328.5 416.9 328.7 416.4 328.9 415.4 329.0 414.4 329.1 413.4 328.9 412.9 328.7 412.1 328.3 411.5 327.8 411.0 327.3 410.6 326.8 410.4 326.3 410.0 325.3 409.9 324.3 410.0 323.3 410.3 322.3 410.6 321.8 410.9 321.3 411.4 320.8 412.0 320.3 412.9 319.8 413.4 319.6 414.4 319.3 414.9 319.3 Z" fill="#000" fill-opacity="0.06" stroke="#444" stroke-width="0.5"/><path d="M413.4 320.1 414.4 319.9 415.4 319.9 416.4 320.0 417.3 320.3 417.9 320.5 418.8 320.8 419.4 320.9 420.4 321.1 421.4 321.1 422.4 321.1 423.4 321.2 424.4 321.3 424.9 321.3 425.9 321.4 426.9 321.5 427.9 321.6 428.9 321.7 429.4 321.8 430.4 322.1 430.9 322.4 431.4 322.8 431.9 323.6 432.0 324.3 431.8 324.8 431.4 325.3 430.7 325.8 429.9 326.2 429.4 326.3 428.4 326.5 427.4 326.7 426.4 326.8 425.9 326.8 424.9 327.0 423.9 327.1 422.9 327.2 421.9 327.2 421.1 327.3 420.4 327.4 419.4 327.5 418.4 327.8 417.9 327.9 416.9 328.2 416.4 328.4 415.4 328.6 414.4 328.6 413.4 328.4 412.9 328.2 412.2 327.8 411.6 327.3 411.2 326.8 410.9 326.3 410.5 325.3 410.4 324.6 410.4 323.9 410.5 323.3 410.9 322.3 411.2 321.8 411.6 321.3 412.1 320.8 412.9 320.3 413.4 320.1 Z" fill="#000" fill-opacity="0.06" stroke="#444" stroke-width="0.5"/><path d="M413.4 320.7 414.4 320.5 415.4 320.4 416.4 320.6 416.9 320.8 417.9 321.2 418.4 321.4 419.4 321.8 419.9 321.9 420.9 322.0 421.9 322.0 422.9 322.0 423.9 322.1 424.9 322.1 425.9 322.2 426.9 322.3 427.4 322.3 428.4 322.5 429.4 322.7 429.9 322.9 430.4 323.3 430.7 324.3 430.4 324.8 429.7 325.3 428.9 325.6 428.0 325.8 427.4 325.9 426.4 326.0 425.4 326.2 424.4 326.3 423.9 326.3 422.9 326.4 421.9 326.5 420.9 326.6 419.9 326.7 419.4 326.8 418.4 327.1 417.9 327.3 416.9 327.7 416.4 327.8 415.4 328.0 414.4 328.1 413.4 327.8 412.9 327.6 412.4 327.3 411.9 326.8 411.4 326.1 411.0 325.3 410.9 324.3 411.0 323.3 411.4 322.4 411.8 321.8 412.4 321.3 412.9 320.9 413.4 320.7 Z" fill="#000" fill-opacity="0.06" stroke="#444" stroke-width="0.5"/><path d="M413.9 321.2 414.9 321.1 415.9 321.2 416.4 321.4 417.3 321.8 417.9 322.1 418.4 322.4 419.2 322.8 419.9 323.1 420.9 323.2 421.9 323.2 422.9 323.3 423.6 323.3 424.4 323.4 425.4 323.6 426.4 323.8 426.8 324.3 425.9 324.7 425.4 324.8 424.4 325.0 423.4 325.2 422.8 325.3 421.9 325.4 420.9 325.4 419.9 325.6 419.3 325.8 418.4 326.2 417.9 326.5 417.3 326.8 416.4 327.2 415.9 327.3 414.9 327.5 413.9 327.3 413.4 327.2 412.8 326.8 412.3 326.3 411.9 325.8 411.6 324.8 411.6 323.8 411.9 322.8 412.2 322.3 412.7 321.8 413.4 321.4 413.9 321.2 Z" fill="#000" fill-opacity="0.06" stroke="#444" stroke-width="0.5"/><path d="M413.4 322.3 414.4 321.9 415.4 321.9 416.4 322.3 416.9 322.6 417.4 323.0 417.9 323.6 418.2 324.3 417.9 325.1 417.4 325.6 416.9 326.0 416.4 326.3 415.4 326.7 414.4 326.7 413.4 326.3 412.9 325.9 412.5 325.3 412.3 324.8 412.3 323.8 412.5 323.3 412.9 322.7 413.4 322.3 Z" fill="#000" fill-opacity="0.06" stroke="#444" stroke-width="0.5"/><path d="M414.4 323.1 415.4 323.1 415.9 323.4 416.4 324.3 415.9 325.2 415.4 325.5 414.4 325.5 413.9 325.2 413.5 324.3 413.9 323.4 414.4 323.1 Z" fill="#000" fill-opacity="0.06" stroke="#444" stroke-width="0.5"/><path d="M425.5 316.5 C425 313.5 427.5 312 429.5 313.5 C430.5 315 429.5 317 428 317.5" fill="none" stroke="#555" stroke-width="0.5"/><ellipse cx="414.6" cy="324.3" rx="3.0" ry="2.8" fill="none" stroke="#111" stroke-width="2.0" stroke-opacity="0.8"/><circle cx="414.90000000000003" cy="324.3" r="0.9" fill="#fff"/>
<path d="M468.9 320.6 469.9 320.4 470.9 320.3 471.9 320.3 472.9 320.4 473.9 320.5 474.9 320.6 475.9 320.7 476.9 320.7 477.9 320.7 478.9 320.8 479.7 320.8 480.4 320.8 481.4 320.8 482.4 320.9 483.4 320.9 484.4 321.1 485.1 321.3 485.9 321.6 486.4 321.9 486.9 322.4 487.4 323.3 487.5 323.8 487.4 324.6 487.1 325.3 486.7 325.8 486.1 326.3 485.4 326.7 484.9 326.9 483.9 327.1 482.9 327.2 482.1 327.3 481.4 327.4 480.4 327.4 479.4 327.5 478.4 327.6 477.4 327.7 476.4 327.7 475.4 327.8 474.9 327.9 473.9 328.0 472.9 328.2 471.9 328.3 470.9 328.3 469.9 328.2 468.9 328.0 468.4 327.8 467.6 327.3 467.0 326.8 466.5 326.3 466.2 325.8 465.9 324.8 465.9 324.3 465.9 323.8 466.2 322.8 466.5 322.3 467.0 321.8 467.6 321.3 468.4 320.8 468.9 320.6 Z" fill="#000" fill-opacity="0.06" stroke="#333" stroke-width="0.75"/><path d="M469.4 320.8 470.4 320.6 471.4 320.6 472.4 320.7 473.3 320.8 473.9 320.9 474.9 321.0 475.9 321.1 476.9 321.1 477.9 321.1 478.9 321.2 479.9 321.2 480.9 321.2 481.9 321.3 482.5 321.3 483.4 321.4 484.4 321.5 485.2 321.8 485.9 322.2 486.4 322.6 486.8 323.3 486.9 323.8 486.9 324.4 486.5 325.3 486.0 325.8 485.4 326.2 484.9 326.4 483.9 326.7 483.0 326.8 482.4 326.9 481.4 327.0 480.4 327.0 479.4 327.1 478.4 327.2 477.4 327.2 476.6 327.3 475.9 327.4 474.9 327.5 473.9 327.7 473.0 327.8 472.4 327.9 471.4 328.0 470.4 328.0 469.4 327.8 468.9 327.7 468.1 327.3 467.4 326.8 466.9 326.3 466.6 325.8 466.4 325.3 466.2 324.3 466.4 323.3 466.6 322.8 466.9 322.3 467.4 321.8 468.1 321.3 468.9 320.9 469.4 320.8 Z" fill="#000" fill-opacity="0.06" stroke="#444" stroke-width="0.5"/><path d="M468.9 321.2 469.9 320.9 470.9 320.9 471.9 320.9 472.9 321.1 473.9 321.3 474.4 321.4 475.4 321.5 476.4 321.5 477.4 321.6 478.4 321.6 479.4 321.6 480.4 321.7 481.4 321.7 482.4 321.8 482.9 321.8 483.9 321.9 484.9 322.2 485.4 322.5 485.9 323.0 486.3 323.8 486.1 324.8 485.7 325.3 485.0 325.8 484.4 326.0 483.4 326.3 482.9 326.3 481.9 326.5 480.9 326.5 479.9 326.6 478.9 326.7 477.9 326.8 477.2 326.8 476.4 326.9 475.4 327.0 474.4 327.2 473.7 327.3 472.9 327.5 471.9 327.7 470.9 327.7 469.9 327.6 468.9 327.4 468.4 327.1 467.9 326.8 467.4 326.3 466.9 325.6 466.6 324.8 466.6 323.8 466.9 323.0 467.4 322.3 467.9 321.8 468.4 321.5 468.9 321.2 Z" fill="#000" fill-opacity="0.06" stroke="#444" stroke-width="0.5"/><path d="M470.4 321.2 471.4 321.2 472.0 321.3 472.9 321.5 473.9 321.7 474.4 321.8 475.4 322.0 476.4 322.1 477.4 322.1 478.4 322.2 479.4 322.2 480.4 322.3 481.4 322.3 481.9 322.3 482.9 322.4 483.9 322.6 484.5 322.8 485.1 323.3 485.4 324.3 484.9 325.0 484.4 325.3 483.4 325.6 482.4 325.8 481.9 325.9 480.9 326.0 479.9 326.0 478.9 326.1 477.9 326.2 476.9 326.3 476.4 326.3 475.4 326.5 474.4 326.7 473.9 326.8 472.9 327.1 471.9 327.3 471.4 327.4 470.4 327.4 469.9 327.3 468.9 327.0 468.4 326.7 467.8 326.3 467.4 325.8 467.0 324.8 467.0 323.8 467.4 322.8 467.8 322.3 468.4 321.9 468.9 321.6 469.9 321.3 470.4 321.2 Z" fill="#000" fill-opacity="0.06" stroke="#444" stroke-width="0.5"/><path d="M469.9 321.7 470.9 321.6 471.9 321.7 472.5 321.8 473.4 322.1 474.0 322.3 474.9 322.6 475.9 322.8 476.4 322.9 477.4 322.9 478.4 323.0 479.4 323.1 480.4 323.1 481.4 323.2 482.3 323.3 482.9 323.5 483.5 323.8 483.4 324.4 482.5 324.8 481.9 324.9 480.9 325.1 479.9 325.2 478.9 325.3 478.4 325.3 477.4 325.4 476.4 325.6 475.4 325.8 474.9 325.9 473.9 326.3 473.4 326.5 472.4 326.8 471.9 326.9 470.9 327.0 469.9 326.9 469.4 326.8 468.5 326.3 467.9 325.8 467.6 325.3 467.4 324.6 467.4 324.0 467.6 323.3 467.9 322.8 468.4 322.3 469.4 321.8 469.9 321.7 Z" fill="#000" fill-opacity="0.06" stroke="#444" stroke-width="0.5"/><path d="M469.4 322.3 470.4 322.0 471.4 322.0 472.4 322.3 472.9 322.5 473.6 322.8 474.3 323.3 474.9 323.8 475.1 324.3 474.8 324.8 474.2 325.3 473.5 325.8 472.9 326.1 472.4 326.3 471.4 326.6 470.4 326.6 469.4 326.3 468.9 326.1 468.4 325.6 467.9 324.8 467.9 324.3 467.9 323.8 468.4 323.0 468.9 322.5 469.4 322.3 Z" fill="#000" fill-opacity="0.06" stroke="#444" stroke-width="0.5"/><path d="M469.9 322.6 470.9 322.5 471.9 322.7 472.4 322.9 472.9 323.3 473.4 324.1 473.4 324.5 472.9 325.3 472.4 325.6 471.9 325.9 470.9 326.1 469.9 326.0 469.4 325.8 468.9 325.3 468.5 324.3 468.9 323.3 469.4 322.8 469.9 322.6 Z" fill="#000" fill-opacity="0.06" stroke="#444" stroke-width="0.5"/><path d="M470.4 323.3 471.1 323.3 471.9 323.7 472.2 324.3 471.9 324.9 471.1 325.3 470.4 325.3 469.9 325.1 469.4 324.4 469.4 324.2 469.9 323.5 470.4 323.3 Z" fill="#000" fill-opacity="0.06" stroke="#444" stroke-width="0.5"/><ellipse cx="470.6" cy="324.3" rx="2.6" ry="1.9" fill="none" stroke="#111" stroke-width="1.5" stroke-opacity="0.95"/>
<path d="M379.9 359.6 380.9 359.6 381.4 359.6 382.4 359.7 383.4 359.9 384.0 360.1 384.9 360.4 385.4 360.6 386.4 361.1 386.9 361.4 387.4 361.7 387.9 362.1 388.4 362.6 388.9 363.1 389.4 363.8 389.9 364.6 390.1 365.1 390.3 366.1 390.4 366.6 390.4 367.3 390.3 368.1 390.0 369.1 389.8 369.6 389.4 370.2 388.9 370.9 388.4 371.4 387.9 371.9 387.4 372.3 386.9 372.6 386.1 373.1 385.4 373.4 384.9 373.6 383.9 373.9 383.2 374.1 382.4 374.3 381.4 374.4 380.4 374.4 379.4 374.4 378.4 374.3 377.4 374.1 376.9 374.0 375.9 373.7 375.4 373.5 374.5 373.1 373.9 372.8 373.4 372.5 372.4 372.4 371.8 372.6 370.9 373.1 370.4 373.3 369.4 373.5 368.9 373.6 367.9 373.9 366.9 374.1 366.4 374.2 365.4 374.5 364.9 374.6 363.9 375.0 363.4 375.2 362.6 375.6 361.9 376.0 361.4 376.5 360.9 376.9 360.4 377.4 359.9 377.8 359.4 378.1 358.4 378.5 357.9 378.6 356.9 378.6 356.4 378.6 355.4 378.2 354.9 377.9 354.4 377.6 353.9 377.0 353.4 376.1 353.3 375.6 353.3 374.6 353.4 374.0 353.8 373.1 354.2 372.6 354.8 372.1 355.4 371.8 355.9 371.6 356.9 371.4 357.9 371.4 358.9 371.5 359.9 371.6 360.4 371.6 361.4 371.6 362.1 371.6 362.9 371.5 363.9 371.4 364.9 371.2 365.5 371.1 366.4 370.9 367.4 370.6 367.9 370.4 368.9 370.1 369.4 369.8 369.9 369.6 370.3 368.6 370.2 367.6 370.2 366.6 370.4 365.6 370.5 365.1 370.9 364.3 371.3 363.6 371.7 363.1 372.1 362.6 372.7 362.1 373.4 361.6 373.9 361.2 374.4 361.0 375.2 360.6 375.9 360.3 376.6 360.1 377.4 359.9 378.4 359.7 379.4 359.6 379.9 359.6 Z" fill="#000" fill-opacity="0.06" stroke="#333" stroke-width="0.75"/><path d="M376.9 360.6 377.9 360.3 378.9 360.2 379.9 360.1 380.9 360.1 381.9 360.2 382.9 360.4 383.8 360.6 384.4 360.8 385.1 361.1 385.9 361.5 386.4 361.8 386.9 362.1 387.5 362.6 388.0 363.1 388.5 363.6 388.9 364.2 389.3 365.1 389.5 365.6 389.7 366.6 389.7 367.6 389.4 368.6 389.3 369.1 388.9 369.8 388.4 370.5 387.9 371.0 387.4 371.5 386.9 371.9 386.4 372.2 385.8 372.6 384.9 373.0 384.4 373.2 383.4 373.5 382.9 373.6 381.9 373.8 380.9 373.9 379.9 373.9 378.9 373.8 377.9 373.7 377.4 373.6 376.4 373.3 375.9 373.1 374.9 372.6 374.4 372.4 373.9 372.1 373.0 371.6 372.4 371.5 371.9 371.7 371.4 372.2 370.8 372.6 369.9 373.0 369.4 373.2 368.4 373.4 367.4 373.6 366.9 373.7 365.9 373.9 365.3 374.1 364.4 374.4 363.7 374.6 362.9 375.0 362.4 375.2 361.7 375.6 360.9 376.1 360.4 376.4 359.9 376.8 359.4 377.2 358.7 377.6 357.9 377.8 356.9 377.9 355.9 377.6 355.4 377.3 354.9 376.9 354.4 376.2 354.2 375.6 354.1 374.6 354.4 373.8 354.9 373.1 355.4 372.7 355.9 372.4 356.9 372.1 357.4 372.1 357.9 372.1 358.9 372.1 359.9 372.1 360.4 372.1 361.4 372.0 362.4 371.9 363.4 371.8 364.4 371.7 364.9 371.6 365.9 371.4 366.9 371.1 367.4 371.0 368.4 370.7 368.9 370.5 369.9 370.3 370.5 370.1 371.1 369.6 371.1 368.6 370.9 367.6 370.9 366.6 371.1 365.6 371.4 364.8 371.8 364.1 372.1 363.6 372.6 363.1 373.1 362.6 373.7 362.1 374.4 361.6 374.9 361.4 375.5 361.1 376.4 360.7 376.9 360.6 Z" fill="#000" fill-opacity="0.06" stroke="#444" stroke-width="0.5"/><path d="M377.4 361.1 378.4 360.8 379.4 360.7 380.4 360.7 381.4 360.7 382.4 360.9 383.3 361.1 383.9 361.3 384.8 361.6 385.4 361.9 385.9 362.2 386.5 362.6 387.1 363.1 387.6 363.6 387.9 364.1 388.4 364.9 388.7 365.6 388.9 366.6 388.9 367.1 388.9 367.6 388.6 368.6 388.4 369.1 387.9 370.0 387.4 370.6 386.9 371.0 386.4 371.5 385.9 371.8 385.4 372.1 384.4 372.6 383.9 372.7 382.9 373.0 382.4 373.1 381.4 373.3 380.4 373.3 379.4 373.3 378.4 373.2 377.9 373.1 376.9 372.8 376.3 372.6 375.4 372.2 374.9 371.9 374.4 371.6 373.7 371.1 373.1 370.6 372.6 370.1 372.3 369.6 371.9 368.6 371.8 368.1 371.7 367.1 371.8 366.1 371.9 365.6 372.3 364.6 372.7 364.1 373.0 363.6 373.5 363.1 374.1 362.6 374.9 362.1 375.4 361.8 375.9 361.6 376.9 361.2 377.4 361.1 Z M369.4 371.0 370.4 371.1 370.7 371.6 370.4 372.1 369.4 372.6 368.9 372.7 367.9 372.9 367.1 373.1 366.4 373.2 365.4 373.5 364.9 373.7 363.9 374.0 363.4 374.2 362.5 374.6 361.9 374.9 361.4 375.1 360.4 375.5 359.9 375.7 359.2 376.1 358.4 376.5 357.9 376.7 356.9 376.7 356.4 376.6 355.7 376.1 355.4 375.5 355.4 374.6 355.6 374.1 356.1 373.6 356.9 373.2 357.9 373.1 358.4 373.1 359.4 372.8 360.4 372.6 360.9 372.5 361.9 372.5 362.9 372.4 363.9 372.3 364.9 372.1 365.4 372.0 366.4 371.8 367.2 371.6 367.9 371.4 368.9 371.1 369.4 371.0 Z" fill="#000" fill-opacity="0.06" stroke="#444" stroke-width="0.5"/><path d="M378.4 361.5 379.4 361.4 380.4 361.3 381.4 361.4 382.4 361.5 382.9 361.7 383.9 362.0 384.4 362.2 385.2 362.6 385.9 363.1 386.4 363.5 386.9 364.0 387.3 364.6 387.6 365.1 387.9 365.9 388.0 366.6 388.0 367.6 387.9 368.1 387.5 369.1 387.2 369.6 386.8 370.1 386.3 370.6 385.7 371.1 384.9 371.6 384.4 371.8 383.7 372.1 382.9 372.4 381.9 372.6 381.4 372.6 380.4 372.7 379.4 372.6 378.9 372.6 377.9 372.4 376.9 372.1 376.4 371.9 375.8 371.6 374.9 371.1 374.4 370.7 373.9 370.2 373.4 369.6 373.1 369.1 372.9 368.6 372.6 367.6 372.6 366.6 372.8 365.6 373.0 365.1 373.4 364.4 373.9 363.8 374.4 363.3 374.9 362.9 375.4 362.6 376.4 362.1 376.9 361.9 377.9 361.6 378.4 361.5 Z M360.4 373.6 361.4 373.4 362.2 373.6 361.6 374.1 360.9 374.3 360.1 374.1 360.4 373.6 Z" fill="#000" fill-opacity="0.06" stroke="#444" stroke-width="0.5"/><path d="M379.4 362.1 380.4 362.0 381.3 362.1 381.9 362.2 382.9 362.4 383.4 362.6 384.4 363.1 384.9 363.4 385.4 363.7 385.9 364.2 386.4 364.9 386.8 365.6 387.0 366.1 387.1 367.1 386.9 368.1 386.7 368.6 386.4 369.1 385.9 369.8 385.4 370.3 384.9 370.6 384.1 371.1 383.4 371.4 382.8 371.6 381.9 371.8 380.9 371.9 379.9 372.0 378.9 371.9 377.9 371.6 377.4 371.5 376.5 371.1 375.9 370.8 375.4 370.4 374.9 370.0 374.4 369.4 373.9 368.6 373.7 368.1 373.5 367.1 373.6 366.1 373.9 365.4 374.4 364.6 374.8 364.1 375.4 363.6 375.9 363.2 376.4 362.9 377.2 362.6 377.9 362.4 378.9 362.1 379.4 362.1 Z" fill="#000" fill-opacity="0.06" stroke="#444" stroke-width="0.5"/><path d="M378.9 363.0 379.9 362.9 380.9 362.9 381.9 363.0 382.4 363.2 383.4 363.6 383.9 363.8 384.4 364.2 384.9 364.6 385.4 365.3 385.8 366.1 385.9 366.6 385.9 367.3 385.7 368.1 385.4 368.7 384.9 369.4 384.4 369.8 383.9 370.2 383.0 370.6 382.4 370.8 381.4 371.0 380.9 371.1 379.9 371.1 379.4 371.1 378.4 370.9 377.6 370.6 376.9 370.3 376.4 370.0 375.9 369.6 375.4 369.0 374.9 368.1 374.7 367.6 374.7 366.6 374.9 365.9 375.3 365.1 375.7 364.6 376.3 364.1 376.9 363.7 377.4 363.5 378.4 363.1 378.9 363.0 Z" fill="#000" fill-opacity="0.06" stroke="#444" stroke-width="0.5"/><path d="M379.4 364.0 380.4 363.9 381.4 364.0 381.9 364.2 382.9 364.6 383.4 364.9 383.9 365.4 384.3 366.1 384.4 366.6 384.4 367.6 384.2 368.1 383.9 368.6 383.3 369.1 382.5 369.6 381.9 369.8 380.9 370.0 379.9 370.1 378.9 369.9 378.1 369.6 377.4 369.2 376.9 368.8 376.4 368.1 376.2 367.6 376.2 366.6 376.4 365.9 376.9 365.2 377.4 364.8 377.9 364.5 378.9 364.1 379.4 364.0 Z" fill="#000" fill-opacity="0.06" stroke="#444" stroke-width="0.5"/><path d="M379.4 365.8 380.4 365.7 381.4 365.9 381.9 366.4 382.1 367.1 381.9 367.6 381.4 368.1 380.4 368.3 379.4 368.2 378.9 367.8 378.5 367.1 378.9 366.1 379.4 365.8 Z" fill="#000" fill-opacity="0.06" stroke="#444" stroke-width="0.5"/><ellipse cx="380.6" cy="367.2" rx="5.2" ry="3.9" fill="none" stroke="#222" stroke-width="1.7" stroke-opacity="0.7"/>
<path d="M434.4 359.0 435.4 359.0 436.4 359.0 437.4 359.1 437.9 359.2 438.9 359.4 439.6 359.6 440.4 359.9 440.9 360.1 441.8 360.6 442.4 361.0 442.9 361.4 443.4 361.9 443.9 362.4 444.4 363.1 444.7 363.6 445.0 364.1 445.4 365.1 445.5 365.6 445.6 366.6 445.5 367.6 445.4 368.3 445.2 369.1 444.9 369.7 444.4 370.5 444.0 371.1 443.5 371.6 443.0 372.1 442.4 372.6 441.9 372.9 441.4 373.2 440.6 373.6 439.9 373.9 439.3 374.1 438.4 374.4 437.4 374.5 436.6 374.6 435.9 374.6 435.0 374.6 434.4 374.6 433.4 374.4 432.4 374.1 431.9 374.0 431.0 373.6 430.4 373.3 429.9 373.0 429.2 372.6 428.6 372.1 428.1 371.6 427.6 371.1 427.2 370.6 426.9 370.0 426.4 369.1 426.3 368.6 426.1 367.6 426.0 366.6 426.1 365.6 426.4 364.6 426.6 364.1 426.9 363.6 427.4 362.8 427.9 362.2 428.4 361.7 428.9 361.2 429.4 360.9 429.9 360.6 430.7 360.1 431.4 359.8 432.0 359.6 432.9 359.3 433.9 359.1 434.4 359.0 Z M412.9 368.0 413.9 367.7 414.9 367.7 415.9 367.8 416.6 368.1 417.4 368.5 417.9 368.8 418.4 369.3 418.9 369.9 419.3 370.6 419.6 371.1 419.8 372.1 419.9 372.8 419.9 373.2 419.8 374.1 419.5 375.1 419.2 375.6 418.9 376.1 418.4 376.7 417.9 377.2 417.2 377.6 416.4 378.0 415.9 378.2 414.9 378.3 413.9 378.3 413.2 378.1 412.4 377.8 411.9 377.6 411.2 377.1 410.7 376.6 410.3 376.1 409.9 375.5 409.5 374.6 409.4 374.0 409.3 373.1 409.4 372.1 409.5 371.6 409.9 370.6 410.1 370.1 410.5 369.6 411.0 369.1 411.6 368.6 412.4 368.2 412.9 368.0 Z" fill="#000" fill-opacity="0.06" stroke="#333" stroke-width="0.75"/><path d="M435.4 359.6 436.4 359.6 436.9 359.6 437.9 359.8 438.9 360.0 439.4 360.2 440.4 360.6 440.9 360.8 441.4 361.1 442.1 361.6 442.7 362.1 443.2 362.6 443.6 363.1 443.9 363.6 444.4 364.6 444.6 365.1 444.8 366.1 444.8 367.1 444.7 368.1 444.4 369.0 444.1 369.6 443.8 370.1 443.4 370.7 442.9 371.3 442.4 371.7 441.9 372.1 441.2 372.6 440.4 373.0 439.9 373.2 438.9 373.6 438.4 373.7 437.4 373.9 436.4 374.0 435.4 374.0 434.4 373.9 433.4 373.8 432.8 373.6 431.9 373.3 431.4 373.1 430.4 372.6 429.9 372.3 429.4 371.9 428.9 371.5 428.4 370.9 427.9 370.3 427.5 369.6 427.2 369.1 426.9 368.1 426.8 367.6 426.8 366.6 426.9 365.6 427.0 365.1 427.4 364.1 427.7 363.6 428.0 363.1 428.4 362.6 428.9 362.1 429.5 361.6 430.2 361.1 430.9 360.7 431.4 360.5 432.4 360.1 432.9 359.9 433.9 359.7 434.9 359.6 435.4 359.6 Z M414.4 368.1 415.0 368.1 415.9 368.2 416.8 368.6 417.4 368.9 417.9 369.3 418.4 369.9 418.9 370.6 419.2 371.1 419.4 371.9 419.5 372.6 419.5 373.6 419.4 374.1 419.1 375.1 418.8 375.6 418.4 376.1 417.9 376.7 417.3 377.1 416.4 377.6 415.9 377.8 414.9 377.9 413.9 377.9 412.9 377.6 412.4 377.4 411.9 377.1 411.2 376.6 410.8 376.1 410.4 375.6 409.9 374.6 409.8 374.1 409.7 373.1 409.7 372.1 409.9 371.5 410.3 370.6 410.6 370.1 411.0 369.6 411.6 369.1 412.4 368.6 412.9 368.4 413.9 368.1 414.4 368.1 Z" fill="#000" fill-opacity="0.06" stroke="#444" stroke-width="0.5"/><path d="M433.4 360.5 434.4 360.3 435.4 360.2 436.4 360.2 437.4 360.3 438.4 360.6 438.9 360.7 439.9 361.1 440.4 361.3 440.9 361.6 441.5 362.1 442.1 362.6 442.6 363.1 443.0 363.6 443.4 364.3 443.7 365.1 443.9 365.7 444.0 366.6 444.0 367.6 443.9 368.1 443.5 369.1 443.2 369.6 442.9 370.1 442.4 370.7 441.9 371.2 441.4 371.6 440.7 372.1 439.9 372.5 439.4 372.7 438.4 373.0 437.9 373.2 436.9 373.3 435.9 373.4 434.9 373.3 433.9 373.2 433.4 373.1 432.4 372.8 431.9 372.6 430.9 372.1 430.4 371.8 429.9 371.4 429.4 370.9 428.9 370.4 428.4 369.6 428.1 369.1 427.9 368.6 427.6 367.6 427.6 366.6 427.7 365.6 427.9 365.0 428.3 364.1 428.6 363.6 429.0 363.1 429.5 362.6 430.1 362.1 430.8 361.6 431.4 361.2 431.9 361.0 432.9 360.6 433.4 360.5 Z M413.9 368.5 414.9 368.5 415.6 368.6 416.4 368.8 416.9 369.1 417.6 369.6 418.1 370.1 418.4 370.6 418.9 371.6 419.0 372.1 419.1 373.1 419.0 374.1 418.8 374.6 418.4 375.4 417.9 376.1 417.4 376.5 416.9 376.9 416.4 377.1 415.4 377.5 414.4 377.5 413.4 377.4 412.7 377.1 411.9 376.6 411.4 376.2 410.9 375.6 410.6 375.1 410.4 374.6 410.1 373.6 410.1 372.6 410.3 371.6 410.5 371.1 410.9 370.4 411.4 369.8 411.9 369.4 412.4 369.1 413.4 368.6 413.9 368.5 Z" fill="#000" fill-opacity="0.06" stroke="#444" stroke-width="0.5"/><path d="M434.4 361.1 435.4 361.0 436.4 361.0 437.4 361.1 437.9 361.2 438.9 361.5 439.4 361.7 440.1 362.1 440.9 362.6 441.4 363.1 441.9 363.6 442.3 364.1 442.6 364.6 442.9 365.5 443.1 366.1 443.1 367.1 442.9 368.1 442.8 368.6 442.4 369.3 441.9 370.0 441.4 370.5 440.9 371.0 440.4 371.3 439.9 371.6 438.9 372.1 438.4 372.3 437.4 372.5 436.6 372.6 435.9 372.6 434.9 372.6 434.4 372.5 433.4 372.3 432.7 372.1 431.9 371.7 431.4 371.5 430.9 371.1 430.3 370.6 429.8 370.1 429.4 369.6 428.9 368.7 428.7 368.1 428.5 367.1 428.5 366.1 428.8 365.1 429.0 364.6 429.4 364.0 429.9 363.4 430.4 362.9 430.9 362.5 431.5 362.1 432.4 361.6 432.9 361.4 433.9 361.2 434.4 361.1 Z M413.9 369.0 414.9 368.9 415.7 369.1 416.4 369.3 416.9 369.7 417.4 370.1 417.9 370.6 418.4 371.6 418.6 372.1 418.7 373.1 418.5 374.1 418.3 374.6 417.9 375.4 417.4 375.9 416.9 376.4 416.4 376.6 415.4 377.0 414.4 377.1 413.4 376.9 412.7 376.6 412.0 376.1 411.5 375.6 411.1 375.1 410.9 374.6 410.6 373.6 410.5 372.6 410.8 371.6 411.0 371.1 411.4 370.5 411.9 370.0 412.4 369.6 413.4 369.1 413.9 369.0 Z" fill="#000" fill-opacity="0.06" stroke="#444" stroke-width="0.5"/><path d="M433.9 362.0 434.9 361.8 435.9 361.8 436.9 361.9 437.9 362.1 438.4 362.2 439.2 362.6 439.9 363.0 440.4 363.4 440.9 363.9 441.4 364.6 441.7 365.1 441.9 365.7 442.1 366.6 442.0 367.6 441.8 368.1 441.4 369.0 441.0 369.6 440.5 370.1 439.9 370.6 439.4 370.9 438.9 371.2 437.9 371.5 437.4 371.6 436.4 371.8 435.4 371.8 434.4 371.7 433.9 371.6 432.9 371.2 432.4 371.0 431.7 370.6 431.1 370.1 430.6 369.6 430.2 369.1 429.9 368.5 429.6 367.6 429.5 366.6 429.7 365.6 429.9 365.1 430.4 364.3 430.9 363.7 431.4 363.2 431.9 362.9 432.4 362.6 433.4 362.2 433.9 362.0 Z M413.9 369.5 414.9 369.5 415.6 369.6 416.4 369.9 416.9 370.3 417.4 370.8 417.9 371.6 418.0 372.1 418.2 373.1 418.0 374.1 417.8 374.6 417.4 375.2 416.9 375.7 416.3 376.1 415.4 376.5 414.4 376.5 413.4 376.3 412.9 376.1 412.2 375.6 411.7 375.1 411.4 374.5 411.1 373.6 411.1 372.6 411.3 371.6 411.6 371.1 412.0 370.6 412.6 370.1 413.4 369.7 413.9 369.5 Z" fill="#000" fill-opacity="0.06" stroke="#444" stroke-width="0.5"/><path d="M433.9 363.1 434.9 362.9 435.9 362.8 436.9 362.9 437.7 363.1 438.4 363.4 438.9 363.7 439.5 364.1 440.0 364.6 440.4 365.2 440.7 366.1 440.8 367.1 440.5 368.1 440.3 368.6 439.9 369.1 439.4 369.6 438.6 370.1 437.9 370.4 437.4 370.6 436.4 370.8 435.4 370.8 434.4 370.6 433.9 370.5 433.0 370.1 432.4 369.7 431.9 369.3 431.4 368.7 431.1 368.1 430.9 367.6 430.8 366.6 430.9 366.0 431.3 365.1 431.6 364.6 432.1 364.1 432.8 363.6 433.4 363.3 433.9 363.1 Z M414.4 370.1 415.1 370.1 415.9 370.3 416.4 370.7 416.9 371.2 417.4 372.1 417.5 372.6 417.5 373.6 417.3 374.1 416.9 374.8 416.4 375.3 415.9 375.6 414.9 375.9 413.9 375.9 413.2 375.6 412.5 375.1 412.1 374.6 411.9 374.1 411.6 373.1 411.8 372.1 412.0 371.6 412.4 371.0 412.9 370.6 413.9 370.1 414.4 370.1 Z" fill="#000" fill-opacity="0.06" stroke="#444" stroke-width="0.5"/><path d="M434.4 364.4 435.4 364.2 436.4 364.2 437.4 364.5 437.9 364.8 438.4 365.2 438.9 365.9 439.1 366.6 438.9 367.6 438.7 368.1 438.2 368.6 437.4 369.1 436.9 369.3 435.9 369.4 434.9 369.3 434.2 369.1 433.4 368.6 432.9 368.1 432.7 367.6 432.5 366.6 432.9 365.6 433.3 365.1 433.9 364.6 434.4 364.4 Z M413.9 370.9 414.9 370.8 415.7 371.1 416.3 371.6 416.6 372.1 416.8 373.1 416.5 374.1 416.1 374.6 415.4 375.0 414.9 375.2 414.0 375.1 413.4 374.8 412.9 374.4 412.5 373.6 412.4 372.6 412.9 371.6 413.4 371.2 413.9 370.9 Z" fill="#000" fill-opacity="0.06" stroke="#444" stroke-width="0.5"/><path d="M414.4 372.1 414.9 372.1 415.5 372.6 415.4 373.5 414.9 373.9 413.9 373.6 413.7 373.1 413.9 372.4 414.4 372.1 Z" fill="#000" fill-opacity="0.06" stroke="#444" stroke-width="0.5"/><ellipse cx="436.2" cy="367.0" rx="4.8" ry="3.9" fill="none" stroke="#222" stroke-width="1.8" stroke-opacity="0.75"/><ellipse cx="414.6" cy="373.0" rx="3.3" ry="3.2" fill="none" stroke="#111" stroke-width="2.3" stroke-opacity="1.0"/><circle cx="414.90000000000003" cy="373.0" r="0.9" fill="#fff"/>
<path d="M473.4 362.5 474.4 362.5 475.0 362.6 475.9 363.0 476.4 363.4 476.9 363.9 477.3 364.6 477.5 365.1 477.7 366.1 477.8 367.1 477.9 367.7 478.1 368.6 478.4 369.3 478.9 369.9 479.4 370.3 479.9 370.6 480.9 370.9 481.9 371.1 482.4 371.1 483.4 371.1 484.4 371.1 484.9 371.1 485.9 371.1 486.9 371.0 487.9 371.0 488.9 371.0 489.9 370.9 490.9 370.9 491.9 370.9 492.9 370.9 493.9 371.0 494.4 371.1 495.4 371.5 495.9 371.8 496.4 372.3 496.8 373.1 496.8 374.1 496.4 374.9 495.9 375.5 495.4 375.8 494.8 376.1 493.9 376.4 493.0 376.6 492.4 376.7 491.4 376.9 490.4 377.0 489.5 377.1 488.9 377.2 487.9 377.3 486.9 377.4 485.9 377.6 485.4 377.6 484.4 377.8 483.4 377.9 482.4 378.0 481.9 378.1 480.9 378.4 480.0 378.6 479.4 378.8 478.8 379.1 477.9 379.6 477.4 379.9 476.9 380.1 476.0 380.6 475.4 380.9 474.8 381.1 473.9 381.4 472.9 381.5 471.9 381.5 470.9 381.3 470.3 381.1 469.4 380.8 468.9 380.5 468.4 380.1 467.7 379.6 467.3 379.1 466.9 378.6 466.4 377.9 466.0 377.1 465.9 376.6 465.6 375.6 465.5 374.6 465.6 373.6 465.8 372.6 465.9 372.1 466.4 371.1 466.7 370.6 467.0 370.1 467.4 369.6 467.9 369.0 468.4 368.4 468.9 367.8 469.4 367.1 469.6 366.6 469.9 366.0 470.3 365.1 470.6 364.6 470.9 364.1 471.4 363.5 471.9 363.1 472.9 362.6 473.4 362.5 Z" fill="#000" fill-opacity="0.06" stroke="#111" stroke-width="1.0"/><path d="M473.4 363.5 474.4 363.5 474.9 363.6 475.7 364.1 476.2 364.6 476.5 365.1 476.8 366.1 476.9 366.7 477.0 367.6 477.3 368.6 477.5 369.1 477.9 369.7 478.4 370.3 478.9 370.7 479.5 371.1 480.4 371.4 481.4 371.6 481.9 371.6 482.9 371.7 483.9 371.7 484.9 371.6 485.9 371.6 486.4 371.6 487.4 371.6 488.4 371.5 489.4 371.5 490.4 371.5 491.4 371.5 492.4 371.5 493.4 371.5 493.9 371.6 494.9 372.0 495.4 372.3 495.9 372.9 496.1 373.6 495.9 374.3 495.4 375.0 494.9 375.4 494.4 375.6 493.4 375.9 492.6 376.1 491.9 376.2 490.9 376.4 489.9 376.5 489.0 376.6 488.4 376.7 487.4 376.8 486.4 376.9 485.4 377.1 484.9 377.1 483.9 377.3 482.9 377.4 481.9 377.6 481.4 377.7 480.4 377.9 479.8 378.1 478.9 378.5 478.4 378.7 477.7 379.1 476.9 379.6 476.4 379.9 475.9 380.1 474.9 380.6 474.4 380.7 473.4 380.9 472.4 381.0 471.4 380.9 470.4 380.6 469.9 380.4 469.3 380.1 468.5 379.6 467.9 379.1 467.5 378.6 467.1 378.1 466.8 377.6 466.4 376.6 466.2 376.1 466.0 375.1 466.0 374.1 466.2 373.1 466.4 372.3 466.7 371.6 467.0 371.1 467.4 370.4 467.9 369.8 468.4 369.2 468.9 368.7 469.4 368.2 469.9 367.6 470.3 367.1 470.6 366.6 470.9 366.0 471.4 365.1 471.7 364.6 472.2 364.1 472.9 363.7 473.4 363.5 Z" fill="#000" fill-opacity="0.06" stroke="#444" stroke-width="0.5"/><path d="M473.9 365.1 474.4 365.1 475.0 365.6 475.4 366.2 475.7 367.1 475.9 367.6 476.3 368.6 476.6 369.1 476.9 369.6 477.4 370.2 477.9 370.7 478.4 371.2 479.0 371.6 479.9 372.0 480.4 372.1 481.4 372.3 482.4 372.3 483.4 372.4 484.4 372.3 485.4 372.3 486.4 372.3 487.4 372.3 488.4 372.3 489.4 372.2 490.4 372.2 491.4 372.2 492.4 372.2 493.4 372.4 494.1 372.6 494.7 373.1 494.9 373.6 494.8 374.1 494.4 374.6 493.4 375.1 492.9 375.2 491.9 375.5 491.0 375.6 490.4 375.7 489.4 375.8 488.4 376.0 487.4 376.1 486.9 376.2 485.9 376.3 484.9 376.4 483.9 376.6 483.4 376.6 482.4 376.8 481.4 377.0 480.9 377.1 479.9 377.4 479.4 377.6 478.4 378.0 477.9 378.3 477.4 378.6 476.6 379.1 475.9 379.5 475.4 379.8 474.5 380.1 473.9 380.3 472.9 380.4 471.9 380.4 470.9 380.2 470.4 380.0 469.5 379.6 468.9 379.2 468.4 378.8 467.9 378.2 467.4 377.6 467.2 377.1 466.9 376.4 466.7 375.6 466.6 374.6 466.6 373.6 466.9 372.6 467.1 372.1 467.4 371.4 467.9 370.7 468.4 370.1 468.8 369.6 469.4 369.1 469.9 368.6 470.4 368.2 470.9 367.7 471.4 367.2 471.9 366.6 472.3 366.1 472.7 365.6 473.4 365.2 473.9 365.1 Z" fill="#000" fill-opacity="0.06" stroke="#444" stroke-width="0.5"/><path d="M472.9 367.9 473.9 368.0 474.4 368.2 474.9 368.6 475.4 369.1 475.9 369.6 476.4 370.1 476.9 370.7 477.4 371.2 477.9 371.7 478.4 372.1 479.2 372.6 479.9 372.9 480.6 373.1 481.4 373.3 482.4 373.4 483.4 373.4 484.4 373.5 485.4 373.5 486.4 373.5 487.4 373.5 488.4 373.6 488.9 373.6 489.9 374.0 489.9 374.2 488.9 374.5 488.4 374.6 487.4 374.8 486.4 375.0 485.9 375.1 484.9 375.3 483.9 375.5 483.4 375.6 482.4 375.8 481.4 376.0 480.9 376.2 479.9 376.5 479.4 376.7 478.7 377.1 477.9 377.5 477.4 377.9 476.9 378.2 476.3 378.6 475.4 379.1 474.9 379.4 474.2 379.6 473.4 379.8 472.4 379.8 471.4 379.7 470.9 379.6 469.9 379.2 469.4 378.8 468.9 378.4 468.4 377.9 467.9 377.2 467.6 376.6 467.4 376.1 467.2 375.1 467.2 374.1 467.3 373.1 467.5 372.6 467.9 371.8 468.3 371.1 468.7 370.6 469.2 370.1 469.8 369.6 470.4 369.2 470.9 368.9 471.4 368.6 472.4 368.1 472.9 367.9 Z" fill="#000" fill-opacity="0.06" stroke="#444" stroke-width="0.5"/><path d="M471.9 369.4 472.9 369.3 473.9 369.4 474.4 369.7 475.1 370.1 475.7 370.6 476.2 371.1 476.7 371.6 477.2 372.1 477.7 372.6 478.2 373.1 478.7 373.6 479.1 374.1 479.2 375.1 478.9 375.6 478.4 376.1 477.8 376.6 477.2 377.1 476.5 377.6 475.9 378.0 475.4 378.4 474.9 378.6 473.9 379.0 473.4 379.1 472.4 379.2 471.8 379.1 470.9 378.9 470.3 378.6 469.5 378.1 469.0 377.6 468.6 377.1 468.3 376.6 468.0 375.6 467.9 375.1 467.9 374.1 467.9 373.6 468.2 372.6 468.5 372.1 468.9 371.5 469.4 370.9 469.9 370.5 470.4 370.1 471.4 369.6 471.9 369.4 Z" fill="#000" fill-opacity="0.06" stroke="#444" stroke-width="0.5"/><path d="M471.4 370.6 472.4 370.3 473.4 370.4 474.0 370.6 474.9 371.1 475.4 371.5 475.9 372.0 476.4 372.6 476.8 373.1 477.1 373.6 477.4 374.6 477.1 375.6 476.8 376.1 476.3 376.6 475.8 377.1 475.1 377.6 474.4 378.0 473.9 378.2 472.9 378.4 471.9 378.3 471.1 378.1 470.4 377.8 469.9 377.4 469.4 376.8 469.0 376.1 468.8 375.6 468.6 374.6 468.7 373.6 468.9 373.0 469.4 372.1 469.8 371.6 470.4 371.1 470.9 370.8 471.4 370.6 Z" fill="#000" fill-opacity="0.06" stroke="#444" stroke-width="0.5"/><path d="M471.9 371.6 472.9 371.5 473.5 371.6 474.4 372.1 474.9 372.5 475.4 373.1 475.7 373.6 475.9 374.6 475.6 375.6 475.3 376.1 474.8 376.6 474.0 377.1 473.4 377.3 472.4 377.4 471.4 377.2 470.9 376.9 470.4 376.5 469.9 375.7 469.7 375.1 469.6 374.1 469.9 373.2 470.3 372.6 470.8 372.1 471.4 371.7 471.9 371.6 Z" fill="#000" fill-opacity="0.06" stroke="#444" stroke-width="0.5"/><path d="M471.9 373.3 472.9 373.2 473.6 373.6 474.0 374.1 473.9 375.0 473.4 375.6 472.9 375.8 471.9 375.7 471.4 375.2 471.2 374.6 471.4 373.8 471.9 373.3 Z" fill="#000" fill-opacity="0.06" stroke="#444" stroke-width="0.5"/><path d="M482.5 371 C486 368 488 363 492 361.5 C495 360.5 498 362 500 365 M484 373 C488 370 490 366 493 364.5 C495.5 363.5 497.5 365 499 367.5" fill="none" stroke="#777" stroke-width="0.5"/><ellipse cx="472.3" cy="374.8" rx="4.0" ry="3.9" fill="none" stroke="#111" stroke-width="1.3" stroke-opacity="1.0"/><circle cx="472.6" cy="374.8" r="0.9" fill="#fff"/>
<rect x="347.4" y="184.6" width="47.30000000000001" height="47.80000000000001" fill="none" stroke="#a0a0a0" stroke-width="1"/>
<rect x="368.5" y="197.6" width="24.4" height="16.4" fill="none" stroke="#777" stroke-width="0.9"/>
<text x="394.0" y="196.3" font-size="10.8" text-anchor="end">39.1</text>
<rect x="403.4" y="184.6" width="47.60000000000002" height="47.80000000000001" fill="none" stroke="#a0a0a0" stroke-width="1"/>
<rect x="424.5" y="197.6" width="24.4" height="16.4" fill="none" stroke="#777" stroke-width="0.9"/>
<text x="445.1" y="196.3" font-size="10.8" text-anchor="end">6.1</text>
<rect x="460.4" y="184.6" width="48.10000000000002" height="47.80000000000001" fill="none" stroke="#a0a0a0" stroke-width="1"/>
<rect x="481.5" y="197.6" width="24.4" height="16.4" fill="none" stroke="#777" stroke-width="0.9"/>
<text x="500.1" y="196.3" font-size="10.8" text-anchor="end">1.4</text>
<rect x="347.4" y="235.1" width="47.30000000000001" height="48.099999999999994" fill="none" stroke="#a0a0a0" stroke-width="1"/>
<rect x="368.5" y="248.1" width="24.4" height="16.4" fill="none" stroke="#777" stroke-width="0.9"/>
<text x="394.7" y="246.5" font-size="10.8" text-anchor="end">50.2</text>
<rect x="403.4" y="235.1" width="47.60000000000002" height="48.099999999999994" fill="none" stroke="#a0a0a0" stroke-width="1"/>
<rect x="424.5" y="248.1" width="24.4" height="16.4" fill="none" stroke="#777" stroke-width="0.9"/>
<text x="447.4" y="246.5" font-size="10.8" text-anchor="end">43.3</text>
<rect x="460.4" y="235.1" width="48.10000000000002" height="48.099999999999994" fill="none" stroke="#a0a0a0" stroke-width="1"/>
<rect x="481.5" y="248.1" width="24.4" height="16.4" fill="none" stroke="#777" stroke-width="0.9"/>
<text x="504.3" y="246.5" font-size="10.8" text-anchor="end">24.4</text>
<rect x="347.4" y="290.8" width="47.30000000000001" height="46.69999999999999" fill="none" stroke="#a0a0a0" stroke-width="1"/>
<rect x="368.5" y="303.8" width="24.4" height="16.4" fill="none" stroke="#777" stroke-width="0.9"/>
<text x="394.3" y="301.6" font-size="10.8" text-anchor="end">35.8</text>
<rect x="403.4" y="290.8" width="47.60000000000002" height="46.69999999999999" fill="none" stroke="#a0a0a0" stroke-width="1"/>
<rect x="424.5" y="303.8" width="24.4" height="16.4" fill="none" stroke="#777" stroke-width="0.9"/>
<text x="444.7" y="301.6" font-size="10.8" text-anchor="end">6.4</text>
<rect x="460.4" y="290.8" width="48.10000000000002" height="46.69999999999999" fill="none" stroke="#a0a0a0" stroke-width="1"/>
<rect x="481.5" y="303.8" width="24.4" height="16.4" fill="none" stroke="#777" stroke-width="0.9"/>
<text x="500.5" y="301.6" font-size="10.8" text-anchor="end">1.0</text>
<rect x="347.4" y="341.1" width="47.30000000000001" height="46.89999999999998" fill="none" stroke="#a0a0a0" stroke-width="1"/>
<rect x="368.5" y="354.1" width="24.4" height="16.4" fill="none" stroke="#777" stroke-width="0.9"/>
<text x="392.4" y="351.5" font-size="10.8" text-anchor="end">45.7</text>
<rect x="403.4" y="341.1" width="47.60000000000002" height="46.89999999999998" fill="none" stroke="#a0a0a0" stroke-width="1"/>
<rect x="424.5" y="354.1" width="24.4" height="16.4" fill="none" stroke="#777" stroke-width="0.9"/>
<text x="448.2" y="351.5" font-size="10.8" text-anchor="end">42.9</text>
<rect x="460.4" y="341.1" width="48.10000000000002" height="46.89999999999998" fill="none" stroke="#a0a0a0" stroke-width="1"/>
<rect x="481.5" y="354.1" width="24.4" height="16.4" fill="none" stroke="#777" stroke-width="0.9"/>
<text x="503.6" y="351.5" font-size="10.8" text-anchor="end">12.5</text>
<line x1="310" y1="287.1" x2="508.5" y2="287.1" stroke="#333" stroke-width="1.2"/>
<line x1="515.7" y1="391.6" x2="515.7" y2="226" stroke="#111" stroke-width="1.4"/>
<path d="M515.7 219.7 L512.0 227.0 L519.4 227.0 Z" fill="#111" stroke="none" stroke-width="1"/>
<text transform="translate(519.3,200.3) rotate(-90)" x="0" y="0" font-size="10.8" text-anchor="middle" textLength="28" lengthAdjust="spacingAndGlyphs">CD14</text>
<line x1="350.5" y1="395.5" x2="471" y2="395.5" stroke="#111" stroke-width="1.4"/>
<path d="M477.5 395.5 L470.0 391.8 L470.0 399.2 Z" fill="#111" stroke="none" stroke-width="1"/>
<text x="481.2" y="399.3" font-size="10.8" textLength="27.3" lengthAdjust="spacingAndGlyphs">CD66</text>
</svg></body></html>
